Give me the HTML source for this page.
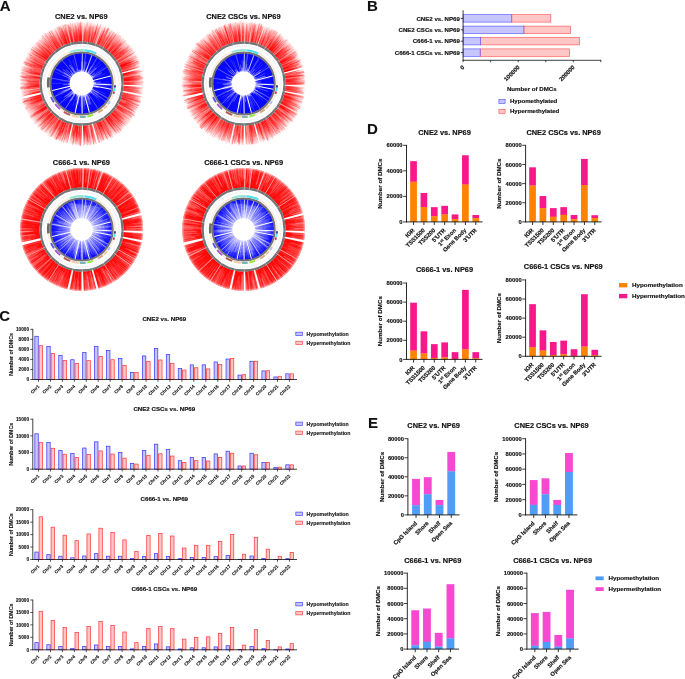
<!DOCTYPE html>
<html><head><meta charset="utf-8"><title>Figure</title><style>html,body{margin:0;padding:0;background:#fff}svg{display:block}</style></head><body>
<svg width="685" height="679" viewBox="0 0 685 679" font-family='"Liberation Sans", Arial, sans-serif' font-weight="bold">
<rect width="685" height="679" fill="#fff"/>
<radialGradient id="g1" gradientUnits="userSpaceOnUse" cx="81.6" cy="83.5" r="62"><stop offset="0.66" stop-color="#ff0000" stop-opacity="0.86"/><stop offset="0.76" stop-color="#ff0000" stop-opacity="0.76"/><stop offset="0.84" stop-color="#ff0000" stop-opacity="0.52"/><stop offset="0.9" stop-color="#ff0000" stop-opacity="0.3"/><stop offset="0.96" stop-color="#ff0000" stop-opacity="0.14"/><stop offset="0.99" stop-color="#ff0000" stop-opacity="0.04"/><stop offset="1" stop-color="#ff0000" stop-opacity="0"/></radialGradient>
<circle cx="81.6" cy="83.5" r="51" fill="none" stroke="url(#g1)" stroke-width="22"/>
<path d="M93.83 123.16L98.54 138.42M90.49 124.04L93.76 138.98M119.65 66.94L133.73 60.81M41.6 72.43L33.47 70.18M103.98 48.55L114.2 32.6M92.39 43.43L97.81 23.33M47.43 107.06L33.71 116.52M85.51 42.18L87.37 22.49M123.05 81.4L129.68 81.06M96.75 122.14L103.8 140.12M49.58 109.89L37.85 119.56M92.59 123.52L95.76 135.05M80.48 42.02L79.95 22.73M119.66 100.05L129.88 104.49M99.32 45.97L107.2 29.28M47.51 59.83L36.32 52.06M47.62 59.68L43.43 56.74M59.42 48.42L51.52 35.92M106.53 116.68L111.29 123.01M40.76 76.11L21.09 72.54M72.31 43.05L68.2 25.15M123.09 82.56L143.78 82.09M118.89 65.28L133.24 58.28M120.25 68.39L137.07 61.81M49.01 109.2L41.98 114.75M121.98 73.9L133.48 71.17M42.42 69.83L30.72 65.76M121.84 73.36L135.16 70M49.32 109.58L42.64 114.98M122 74L133.33 71.34M118.1 103.25L135.37 112.6M60.99 119.52L55.33 129.39M111.55 112.23L122.06 122.31M85.84 124.78L87.49 140.86M119.46 66.5L128.35 62.51M43.81 66.35L33.35 61.6M40.19 86.26L19.86 87.61M68.81 44.02L62.72 25.23M101.26 120.05L111.18 138.49M122.99 80.48L140.69 79.19M44.47 64.96L29.77 57.61M118.63 64.76L136.33 55.8M66.48 122.15L59.4 140.23M122.35 91.33L142.12 95.13M85.91 42.22L87.14 30.47M96.99 44.96L100.76 35.51M63.42 120.81L59.35 129.15M55.34 51.37L42.18 35.27M42.9 98.48L27.71 104.36M90.67 43L92.02 36.98M42.05 96.08L22.56 102.29M86.22 124.74L88.23 142.68M81.43 42L81.4 34.02M40.24 86.88L20.36 88.51M41.84 95.41L23.87 100.79M114.89 108.28L128.94 118.74M51.55 54.88L41.36 45.18M50.21 56.36L38 45.8M109.56 114.17L120.52 126.18M101.64 47.16L109.83 32.3M53.15 53.28L40.8 40.17M40.28 87.4L24.11 88.92M46.33 61.62L39.37 57.3M89.32 42.72L92.39 26.52M122.78 78.36L140.31 76.17M54.25 114.72L40.97 129.88M84.55 42.1L85.42 29.8M121.27 71.32L130.88 68.37M46.56 105.74L34.4 113.46M118.34 102.79L133.64 110.83M99.06 121.15L107.01 138.3M53.24 53.2L43.95 43.27M119.53 100.34L128.1 104.14M46.16 61.91L29.61 51.82M68.78 44.03L65.09 32.67M94.26 123.02L97.9 134.37M102.95 119.09L111.6 133.49M119.65 100.07L137.32 107.77M93.81 123.16L99.93 143.05M92.3 43.4L96.88 26.21M120.28 98.54L138.64 105.68M93.22 123.34L95.02 129.53M122.97 80.22L143.35 78.6M95.29 122.68L100.85 138.58M42.77 68.86L23.53 61.6M121.02 70.51L135.13 65.86M84.41 42.09L85.41 27.3M119.05 65.62L129.76 60.5M42.35 96.99L27.73 102.02M40.13 81.88L26.42 81.35M58.54 49L53.94 42.11M40.72 90.67L31.62 92.26M52.15 112.74L37.93 126.87M64.21 121.18L55.95 139.08M67.36 44.52L62.31 30.7M121.44 71.9L138.67 66.88M49.36 109.63L35.45 120.89M57.2 49.93L44.98 33.1M72.05 123.89L67.74 142.12M59.36 48.46L48.93 32.03M102.22 47.49L109.38 34.99M40.37 78.76L19.79 76.39M97.86 45.32L105.23 27.98M117.32 104.63L133.42 114.15M114.97 58.83L127.36 49.66M46.56 61.27L31.73 51.86M83.53 124.95L84.46 144.77M74.68 124.42L72.65 136.41M49.81 110.18L37.94 120.14M66.33 122.09L61.73 133.71M47.31 60.12L30.84 48.88M48.14 58.94L31.48 46.71M63.23 120.71L58.52 130.25M80.77 124.99L80.35 145.94M77.43 124.79L76.04 138.55M65.63 121.8L59.83 135.72M98.3 45.51L104.61 31.13M70.49 43.51L65.08 24.06M88.57 124.41L90.11 133.46M43.59 66.85L25.32 58.84M119.45 100.51L129 104.8M62.82 46.49L58.64 38.25M87.52 42.42L89.02 32.02M43.31 99.49L31.62 104.37M53.24 113.79L47.29 120.14M110.53 53.75L121.22 42.76M120.88 70.11L135.64 65.08M110.81 112.98L120.67 122.93M116.6 61.2L125.62 55.46M49.88 110.26L37.97 120.31M54.8 115.19L42.23 130.06M40.17 85.9L21.24 87M119.6 100.19L131.09 105.24M122.27 75.25L142.84 71.08M112.54 55.85L120.98 48.31M123.03 85.98L131.52 86.48M101.22 120.07L110.07 136.57M105.4 117.49L116.76 133.72M43.79 100.61L25.51 108.88M109.12 52.44L119.25 41.01M80.87 124.99L80.57 142.51M99.4 46.01L108.12 27.65M77.74 124.82L76.24 140.84M119.64 66.91L129.44 62.63M79.07 42.08L77.88 22.52M69.15 43.91L64.74 29.9M118.36 102.76L131.43 109.61M99.25 121.06L107.99 139.66M47.17 60.33L38.65 54.6M40.19 86.28L26.33 87.21M117.33 62.39L135.27 51.79M42.27 70.25L25.45 64.59M51.46 112.03L41.37 121.57M80.48 124.98L79.92 145.8M123.04 85.65L143.08 86.7M40.74 76.24L22.03 72.91M56.48 50.46L44.55 34.76M40.34 79.01L22.01 77.01M40.71 90.6L32.97 91.94M89.67 124.21L90.81 129.93M49.84 110.21L37 121.01M67.46 44.48L61.57 28.23M46.59 105.79L33.02 114.44M108.13 115.41L121.56 131.55M42.03 96.01L24.48 101.56M87.53 42.43L89.91 25.93M123.06 85.23L142.84 86.05M110.82 112.97L116.84 119.04M58.41 49.08L49.56 35.94M73.09 42.88L69.8 27.15M49.96 110.35L34.4 123.55M40.17 81.09L33.05 80.68M116.63 61.25L129.14 53.3M82.77 124.98L83.36 145.89M101.43 119.95L108.86 133.61M112.63 111.06L121.67 119.08M66.17 122.02L61.68 133.21M121.38 95.34L127.12 97.05M92.62 43.49L95.22 34.05M108.06 115.47L120.76 130.81M94.46 44.04L100.94 24.19M100.09 46.35L109 28.44M87.42 124.59L90.32 145.1M75.53 124.55L72.56 144.68M89.8 124.18L93.9 144.55M56.45 116.51L51.04 123.61M93.01 123.4L98.58 142.91M110.82 54.03L120.98 43.79M93.04 123.39L96.26 134.64M101.7 119.81L110.7 136.07M80.98 42L80.68 21.5M122.99 80.48L131.86 79.83M41.06 74.62L24.66 71.03M122.72 89.09L140.07 91.45M59 118.3L49.8 132.47M120.17 68.18L130.84 63.94M60.64 47.68L50.74 30.78M122.74 88.94L136.8 90.8M106.51 50.31L118.29 34.61M44.47 102.04L30.29 109.13M111.28 112.51L121.94 122.93M116.11 106.55L131.26 116.66M100.29 46.45L104.35 38.39M52.49 113.08L39.52 126.25M100.59 120.4L105.91 130.75M112.04 111.71L124.61 123.36M118.53 102.43L132.62 109.65M61.8 47.03L55.01 34.54M105.36 49.47L116.59 33.38M65.31 121.67L59.42 135.46M121.16 96.04L140.05 102.03M46.27 105.27L39.34 109.54M40.61 89.99L23.21 92.75M114.06 57.64L124.38 49.41M112.49 111.22L119.17 117.21M64.1 121.13L55.61 139.39M60.11 48L52.68 35.72M120.67 97.5L132.52 101.75M65.04 45.45L57.1 27.22M113.29 110.29L123.46 118.89M106.91 116.39L115.23 127.2M65.4 121.71L58.07 139.03M46.06 62.07L32.35 53.8M40.17 81.17L20.46 80.06M87.38 42.4L89.52 27.15M64.53 121.33L56.04 140.15M42.49 69.61L35.26 67.04M41.28 73.67L21.26 68.79M57.01 50.07L52.14 43.45M114.21 57.83L128.53 46.56M123.08 82.31L134.07 82M76 124.62L73.51 142.89M116.94 105.25L134.54 116.09M83.25 124.97L83.88 140.64M41.53 94.29L22.12 99.52M44.77 64.37L29.42 56.4M42.63 69.22L24.59 62.61M70.72 43.45L66.27 27.07M41.4 93.8L23.12 98.48M101.49 119.92L106.08 128.34M79.26 42.07L78.5 28.62M121.41 71.76L135 67.75M73.76 42.75L72.34 35.33M109.01 52.34L120.28 39.52M119.09 65.7L125.98 62.42M60.68 119.34L50.77 136.33M119.64 66.91L129.66 62.54M40.98 91.98L24.91 95.34M119.69 67.02L130.71 62.24M40.15 81.54L27.66 80.95M43.74 66.51L30.12 60.4M54.63 51.96L41.57 36.68M69.43 123.18L63.41 142.82M122.41 75.98L129.57 74.66M42.25 70.32L29.35 66.01M77.48 124.8L76.3 136.64M46.91 106.27L30.01 117.36M111.57 112.2L125.15 125.21M55.94 116.12L49.88 123.83M118.95 101.59L129.44 106.68" stroke="#ff0000" stroke-width="0.32" stroke-opacity="0.85" fill="none"/>
<path d="M77.4 124.79L75.69 141.63M122.88 87.8L138.44 89.42M40.44 78.2L35.26 77.53M47.45 59.92L31.07 48.61M41.01 92.17L32.69 93.94M89.72 124.2L93.74 144.33M49.19 57.58L39.52 49.86M102.28 119.48L112.62 137.46M121.69 72.78L136.92 68.71M116.29 60.73L132.34 50.19M120.11 98.96L127.54 101.94M90.09 124.12L93.74 141.61M43.3 99.48L35.26 102.83M91.48 123.81L96.39 143.87M47.43 107.06L42.56 110.42M41.4 93.82L30.47 96.62M92.4 123.57L93.92 129.19M42.09 70.81L31.86 67.53M121.77 93.92L134.81 97.3M121.21 95.88L133.52 99.73M45.66 104.24L35.6 110.05M40.38 88.33L27.69 89.81M65.64 121.81L58.74 138.4M44.85 64.22L37.41 60.32M104.8 49.09L114.54 34.64M119.14 65.8L131.67 59.89M58.76 118.15L54.17 125.12M116.23 60.63L123.84 55.6M99.9 46.25L108.79 28.16M78.59 124.89L77.35 141.9M44.17 65.57L31.89 59.69M103.36 118.84L106.54 124M42.14 96.35L22.35 102.8M46.53 105.69L29.63 116.38M116.32 106.23L130.63 115.59M110.46 113.32L121.11 124.33M44.65 64.62L29.84 57.05M40.32 79.2L20.46 77.13M114.78 108.43L126.93 117.56M41.19 92.95L20.88 97.71M41.08 92.45L22.29 96.61M67.52 44.46L61.81 28.65M102.33 47.55L108.03 37.67M42.37 97.04L30.3 101.21M113.38 110.19L124.63 119.65M74.74 42.57L73.19 33.33M70.42 123.46L66.11 138.86M122.93 87.24L142.89 89.05M43.78 66.42L28.74 59.63M44.58 64.74L33.76 59.26M123.03 81.12L139.15 80.19M119.75 67.16L137.71 59.46M119.16 65.85L138.04 56.97M46.79 106.09L36.36 112.86M40.22 86.71L26.71 87.76M42.45 69.73L36.69 67.71M89.88 124.17L91.78 133.49M64.04 121.1L59.76 130.28M122.95 87.06L138.97 88.44M49.34 109.61L43.97 113.95M114.35 58.01L130.59 45.38M89.4 124.26L92.03 137.99M43.08 98.94L26.04 105.78M85.3 124.83L87.17 145.7M48.82 58.05L37.8 49.5M64.89 121.49L56.83 139.79M75.11 124.49L72.87 138.59M119.07 101.33L125.77 104.52M57.24 49.9L46.63 35.28M40.1 83.01L27.71 82.86M99.22 45.93L103.1 37.66M80.91 124.99L80.57 145.53M74.79 124.44L72.94 135.6M106.93 116.38L119.66 132.91M72.92 42.92L69.31 26.02M101.27 120.04L110.23 136.68M40.11 84.38L24.05 84.72M105.69 49.71L116.57 34.44M71.89 123.85L67.24 143.16M121.13 96.14L140.98 102.49M43.56 66.91L30.93 61.4M60.36 119.15L49.69 137.06M120.39 98.25L134.57 103.65M75.7 42.42L73.59 27.74M121.43 95.17L140.8 100.84M120.69 69.57L138.84 63.1M88.74 124.38L90.47 134.32M80.4 42.02L80.09 31.36M120.33 68.59L138.68 61.53M40.58 89.79L28.2 91.69M51.27 55.17L38.23 42.99M42.47 97.32L23.29 104.1M101.36 47.01L106.62 37.3M41.37 93.69L31.14 96.28M122.93 79.71L140.12 78.13M111.4 112.38L123.78 124.38M59.39 118.55L53.42 127.96M63.17 46.32L55.48 30.82M49.64 109.97L43.21 115.29M96.79 122.12L102.49 136.61M93.26 43.67L97.89 27.86M123.1 83.74L143.03 83.85M40.13 82.02L28.71 81.61M69.25 123.12L66.16 133.02M78.41 42.12L77.88 35.38M40.1 83.35L26.5 83.3M81.63 125L81.63 135.25M48.81 108.94L38.36 117.05M40.99 74.96L25.9 71.78M47.33 60.09L32.88 50.21M69.16 43.91L66.12 34.24M117.34 62.41L131.62 53.99M96.77 122.13L103.55 139.38M41.48 72.89L30.59 70.02M122.42 76.04L138.39 73.12M90.74 43.02L94.36 26.98M63.31 120.75L54.65 138.39M115.45 59.49L120.48 55.92M98.17 121.55L103.92 134.76M42.01 71.04L34.47 68.67M64.19 121.17L57.58 135.48M122.98 80.37L132.54 79.64M92.51 43.46L95.8 31.36M74.99 124.47L73.12 136.06M103.5 48.25L113.56 32.05M123.08 84.76L132.93 85.06M45.35 63.3L27.78 53.5M112.83 110.83L121.04 118.02M92.45 43.44L96.39 28.91M78 42.16L77.17 32.64M40.12 84.82L33.17 85.04M55.16 51.51L49.12 44.19M121.22 95.84L139.89 101.66M80.59 42.01L80.14 23.59M122.77 78.27L134.23 76.81M123.04 81.33L137.7 80.57M112.9 110.75L122.62 119.21M54.97 115.33L50.5 120.67M48.06 107.94L41.97 112.37M42.58 97.64L24.2 104.3M54.43 52.13L44.8 41.03M46.99 60.6L35.7 53.12M122.12 74.55L134.86 71.73M68.89 123L65.84 132.47M122.07 74.31L136.47 71.04M95.14 122.73L101.97 142.51M50.08 56.5L41.95 49.54M99.92 46.26L107.69 30.48M122.61 89.87L128.73 90.82M122.98 86.71L136.65 87.78M41.09 92.5L29.56 95.07M115.71 59.86L132.42 48.27M40.3 79.42L22.42 77.65M86.9 42.34L88.52 29.78M102.31 47.54L112.17 30.42M40.45 78.11L20.53 75.51M122.99 80.45L129.97 79.94M58.19 117.77L54.41 123.3M100.66 120.36L107.9 134.37M41.63 94.68L30.39 97.82M45.72 104.36L37.42 109.19M122.35 91.36L139.86 94.74M108.75 114.89L121.55 129.69M121.66 94.34L134.22 97.74M92.09 43.35L93.72 37.12M64.89 121.49L57.27 138.82M121.22 95.85L137.77 101.01M122.17 74.75L139.34 71.05M70.06 43.64L64.61 24.81M50.9 111.43L44.73 117.04M107.56 115.88L112.3 121.79M118.19 103.08L131.56 110.23M116.44 60.95L128.07 53.43M117.55 62.76L132.51 54.13M104.5 48.89L111.66 38.08M115.3 59.27L128.5 49.78M67.99 122.7L61.4 141.68M112.85 110.81L118.61 115.84M95.56 44.42L100.66 30.17M89.65 124.21L92.11 136.69M87.71 42.45L89.63 29.55M64.95 121.51L60.25 132.23M119.79 67.26L133.4 61.47M69.94 43.67L66.21 30.93M66.9 44.69L60.34 27.37M53.04 113.61L43.42 123.75M122.54 90.29L141.45 93.43M109.65 114.09L122.97 128.61M79.76 124.96L79.2 137.4M75.62 42.43L74.23 32.88M122.72 77.91L140.02 75.56M81.84 42L81.93 26.23M123.01 80.72L138.08 79.71M69.24 123.12L64.24 139.14M45.37 63.26L27.32 53.17M115.68 107.19L131.93 118.48M41.05 92.31L23.81 96.06M72.27 43.06L67.97 24.44M52.89 113.46L42.46 124.34M111.94 111.82L120.77 120.07M72.81 124.06L70.42 135.08M118.58 102.34L127.67 106.97M111.13 54.34L125.11 40.53M41.76 95.13L33.25 97.62M40.5 77.75L25.7 75.69M50.69 55.8L35.89 42.54M79.66 124.95L78.78 143.73M41.05 92.31L29.78 94.76M118.35 102.77L129.73 108.74M46.94 60.67L30.95 50.13M101.46 119.94L109.96 135.55M45.36 63.28L28.9 54.09M110.58 113.2L122.68 125.6M119.65 66.93L125.14 64.54M66.57 44.82L59.07 25.53M43.25 99.36L30.23 104.75M106.68 116.56L118.95 132.74M94.1 43.93L99.48 26.91M92.52 43.46L95.71 31.8M79.94 42.03L79.58 33M88.48 42.57L91.09 27.04M111.23 112.55L120.13 121.28M46.38 61.55L36.15 55.18M53.62 114.15L41.18 127.77M108.18 115.37L119.47 128.9M42.14 70.63L33.02 67.66M107.47 51.05L120.12 35.18M84.66 124.89L85.32 133.9M86.61 42.3L88.54 26.37M52.2 112.79L43.77 121.19M86.23 124.74L87.72 137.98M94.73 44.13L97.16 36.84M120.25 98.62L127.75 101.55M85.91 124.78L88.09 145.63M50.86 55.62L39.76 45.55M42.73 68.95L23.7 61.83M47 106.42L33.03 115.68M66.05 45.02L58.73 26.89M96.1 122.39L102.81 140.39M118.68 64.86L124.5 61.93M109.78 53.03L115.18 47.18M40.11 82.57L27.64 82.29M84.33 42.09L85.04 31.31M84.47 42.1L85.55 26.58M41.56 72.6L24.09 67.85M42.39 69.91L24.29 63.65M77.94 42.16L77.18 33.59M105.51 117.42L115.74 131.93M59.28 48.51L55.84 43.12M122.68 77.58L136.19 75.64M46.99 106.4L31.18 116.86M49.95 110.35L39.93 118.85M58.31 49.15L47.08 32.6M40.16 85.68L29.35 86.25M69.71 123.26L64.71 139.98M107.2 50.84L113.08 43.35M99.09 121.13L101.53 126.37M105.28 117.58L112.5 127.97M69.35 43.85L66.18 33.62M119.05 101.38L135.58 109.27" stroke="#ff0000" stroke-width="0.32" stroke-opacity="0.85" fill="none" stroke-dasharray="0.6 0.3"/>
<path d="M78.34 42.13L77.23 27.93M122.35 75.63L136.03 72.99M118.9 65.32L129.59 60.11M68.2 44.22L64.12 32.24M114.04 109.38L130.37 122.41M50.52 111L40.4 119.95M121.94 73.76L138.16 69.84M49.03 57.79L35.81 47.36M64.47 121.3L60.79 129.41M43.03 98.82L29.49 104.19M101.74 119.79L108.33 131.68M57.07 116.97L47.53 129.99M89.94 42.85L93.32 26.37M58.63 118.06L49.54 131.73M115.47 59.52L127.53 50.98M40.22 86.63L27.73 87.57M78.84 42.09L77.92 28.27M111.25 54.47L126.19 39.85M122.89 79.37L142.09 77.44M65.77 45.14L58.45 27.42M78.58 124.89L77.06 145.64M41.3 93.41L30.12 96.15M93.41 123.28L97.87 138.31M120.73 69.69L132.04 65.69M100.1 46.35L107.2 32.11M84.01 124.93L84.67 136.27M48.82 58.05L34.19 46.71M58.42 49.08L47.92 33.48M112.58 111.11L127.53 124.43M50.44 56.08L36.02 43.39M119.34 66.23L131.76 60.55M53.76 114.27L39.68 129.83M121.58 72.36L137.8 67.84M40.51 89.31L30.05 90.79M99.09 121.14L101.64 126.63M119.65 100.06L135.1 106.78M56.56 116.6L45.93 130.66M111.5 54.72L124.19 42.5M111.69 54.92L118.18 48.76M55.14 115.47L46.73 125.64M80.25 42.02L79.68 24.44M113.52 110.02L123.12 117.99M114.59 58.33L128 48.1M44.07 65.8L31.45 59.84M79.91 124.97L79.08 145.34M41.85 95.42L31.08 98.65M122.11 92.52L141.28 96.79M48.72 58.17L34.93 47.55M64.8 45.55L59.28 33.08M56.94 116.88L44.98 133.07M122.3 91.61L136.42 94.42M121.6 94.57L138.59 99.27M123.08 82.12L137.05 81.66M56.24 50.65L49.2 41.53M116.42 106.08L132.42 116.46M59.21 118.44L47.96 135.99M103.48 48.24L110.49 36.94M40.69 90.49L23.62 93.41M56.77 50.25L44.53 33.86M89.58 124.22L92.14 137.24M119.58 100.23L135.45 107.22M73.93 42.72L70.09 22.32M107.01 116.31L118.74 131.46M42.05 96.06L22.8 102.18M105.72 117.27L115.7 131.24M78.93 42.09L78.24 31.32M114.06 57.65L124.81 49.09M102.4 47.59L107.4 38.94M52.63 113.21L39.93 126.23M43.13 67.92L26.4 61.15M109.95 53.19L124.15 38.01M67.43 44.49L60.59 25.67M72.32 123.95L68.83 139.19M41.35 73.38L29.39 70.36M110.87 54.08L122.21 42.68M103.47 48.23L111.57 35.18M40.72 76.37L29.44 74.41M95.49 44.39L99.15 34.08M66.78 122.26L61.55 135.95M106.9 50.6L118.73 35.23M73.9 42.72L71.03 27.46M54.71 115.11L42.04 129.99M103.09 119L106.11 124M43.88 66.2L27.43 58.66M116.15 60.51L132.52 49.62M121.01 96.51L140.61 102.99M47.67 59.6L41.81 55.48M101.22 46.93L106.74 36.64M61.34 47.28L55.11 36.14M47.42 107.04L31.11 118.26M64.42 121.28L58.13 135.12M107.15 116.2L114.73 125.9M123.04 85.66L136.38 86.35M87.61 124.56L89.52 137.64M94.22 123.03L96.43 129.96M97.3 45.08L103.18 30.68M106.05 117.03L117.86 133.24M119.75 99.84L133.52 105.74M40.1 83.64L19.99 83.71M72.88 42.93L71.69 37.41M71.48 43.25L68.23 30.33M112.05 111.7L121.1 120.08M59.49 118.62L52.8 129.24M77.39 124.79L75.39 144.32M123.1 84.01L134.93 84.16M100.32 120.54L109.12 137.95M122.06 92.75L142.5 97.42M45.43 63.16L34.31 56.9M43.98 65.98L27.02 58.08M96.08 44.61L103.22 25.46M68.26 122.8L61.75 141.96M87.41 42.41L90.25 22.3M61.65 119.89L58.98 124.75M101.97 119.66L110.53 134.86M60.87 47.55L56.89 40.64M96.75 122.14L103.43 139.16M95 122.78L99.63 136.35M119.16 101.15L136.96 109.52M45.75 62.6L30.81 53.89M108.7 52.07L114.57 45.25M69.74 43.73L65.17 28.42M121.87 73.47L135.48 70.08M46.46 61.43L38.75 56.58M88.76 124.38L89.92 130.96M110.48 113.31L122.57 125.79M83.26 124.97L83.97 142.52M40.77 76.09L32.21 74.53M117.52 62.71L131.63 54.55M115.74 107.1L123.91 112.75M59.05 118.34L50.66 131.32M62.93 120.56L54.24 137.81M60.74 119.38L53.23 132.29M118.21 103.04L133.79 111.35M123 86.43L141 87.71M123.06 85.34L130.74 85.68M110.47 113.32L122.91 126.16M53.64 114.17L42.89 125.97M59.28 48.51L51.43 36.2M122.81 78.64L141 76.5M120.51 97.94L139.77 105.09M64.39 121.26L57.8 135.7M115.41 59.44L132.1 47.56M42.62 69.26L34.61 66.33M122.29 75.34L132.69 73.25M55.18 115.5L49.42 122.48M61.05 119.56L51.18 136.87M43.08 98.95L30.74 103.9M40.91 91.64L28.97 94.03M40.54 89.51L28.92 91.21M86.89 42.34L88.89 26.78M121.59 94.59L132.72 97.67M85.54 124.81L86.67 136.63M122.48 90.66L137.57 93.3M116.65 61.29L133.13 50.85M55.27 115.58L45.26 127.76M72.66 124.03L68.95 140.83M40.62 76.95L19.98 73.66M113.13 110.49L127.33 122.65M93.72 123.19L97.63 136M67.21 44.58L61.91 30.25M115.36 107.63L124.47 114.14M108.1 51.57L121.12 35.89M99.69 46.15L108.39 28.19M65.02 121.54L61.41 129.82M120.25 98.61L139.34 106.08M98.77 45.72L101.51 39.68M77.13 42.24L75.24 24.83M41.09 74.49L21.28 70.09M119.64 66.92L133.89 60.7M81.86 125L81.93 135.57M102.21 119.52L112.26 137.08M66.91 122.31L59.58 141.69M112.71 56.03L121.95 47.88M41.97 95.81L22.52 101.84M68.76 44.04L62.51 24.81M65.11 45.42L62.62 39.67M59.22 118.45L49.77 133.2M54.52 114.95L41.29 130.32M71.15 43.34L69.46 36.85M51.18 55.27L36.85 41.98M45.2 63.57L29.81 55.13M61.59 119.86L52.74 135.94M81.78 42L81.81 34.22M75.21 42.49L72.25 23.51M117.25 104.75L134.99 115.32M122.98 86.69L139.23 87.95M117.27 104.71L132.22 113.6M122.9 79.44L142.55 77.5M115.17 59.1L124.52 52.31M41.02 74.79L28.48 72.1M47.37 106.97L37.75 113.56M123.08 84.78L142.76 85.39M122.84 78.87L135.1 77.5M40.55 89.62L23.36 92.18M71.26 123.69L69.25 131.5M123.07 82.05L134.01 81.67M78.94 42.09L78.09 28.72M59.58 48.32L48.5 30.6M112.83 56.16L126.91 43.83M116.89 105.33L132.83 115.18M121.98 93.08L137.93 96.86M87.87 124.52L90.93 144.54M109.93 113.82L115.2 119.46M114.15 57.75L122.55 51.1M71.4 43.27L66.42 23.62M64.1 45.87L60.1 37.26M67.69 44.4L64.18 34.52M44.25 101.59L26.47 110.2M68.59 44.09L64.03 30.25M110.04 53.27L118.18 44.62M99.66 46.14L104.16 36.83M94.24 43.97L98.02 32.14M110.53 53.75L121.37 42.6M64.47 121.3L56.88 138.07M68.07 44.27L65.41 36.58M100.83 46.73L106.61 35.68M62.57 46.62L55.58 33.07M117.91 103.59L131.99 111.37M41.59 72.47L21.62 66.97M56.56 116.59L44.88 132.02M120.26 68.41L139.28 61M87.95 42.49L90.76 24.29M94.89 44.19L98.07 34.79M40.25 87.05L20.49 88.74M42.06 70.88L27.6 66.27M90.63 124.01L94.97 143.48M92.31 43.41L95.32 32.13M111.96 111.79L122.82 121.9M119.47 100.48L131.5 105.88M61.39 119.74L54.54 132.02M91.83 123.72L95 136.14M122.87 79.16L143.09 77.04M53.57 52.9L46.88 45.59M77.58 42.2L76.4 30.12M40.68 90.41L29.59 92.28M116.3 60.74L133.4 49.53M105.34 49.46L115.38 35.08M66.48 122.15L60.96 136.27M77.9 124.83L76.1 145M122.8 88.46L138.84 90.39M91.35 123.84L93.31 131.95M86.34 124.73L88.28 141.6M122.36 91.31L142.69 95.2M122.9 79.46L141.98 77.59M123.08 84.71L143.05 85.29M100.16 120.62L107.28 134.85M84.24 124.92L85.19 139.84M46.72 61.01L33.92 52.76M120.78 69.81L131.06 66.21M42.42 69.81L22.81 62.96M43.5 99.95L26.23 107.41M42.98 68.31L25.43 61.42M43.48 67.08L32.13 62.19M61.5 47.19L58.42 41.62M116.19 106.43L131.82 116.78M59.59 48.31L48.84 31.11M97.96 45.36L104.78 29.46M76.96 42.26L74.77 22.75M119.78 67.24L135.99 60.33M77.7 42.18L76.13 25.5" stroke="#ff0000" stroke-width="0.32" stroke-opacity="0.85" fill="none" stroke-dasharray="0.35 0.35"/>
<path d="M40.54 89.55L33.09 90.65M40.38 78.65L21.84 76.47M64.13 121.14L55.54 139.65M83.7 124.95L84.39 138.52M87.55 42.43L88.96 32.65M122.73 77.97L139.71 75.68M42.6 97.69L28.13 102.96M122.67 89.44L132.95 90.93M43.38 99.67L24.6 107.62M63.25 46.28L54.38 28.28M69.28 43.87L64.32 27.9M40.58 77.23L27.89 75.29M75.74 124.58L72.8 145.17M72.43 123.97L69.15 138.44M123.1 83.44L133.71 83.43M123.04 81.24L142.59 80.17M114.34 109L126.61 118.55M49.69 110.03L38.9 119M122.93 79.69L137.71 78.33M110.38 53.6L120.28 43.3M40.23 80.26L24.36 79.02M65.93 45.07L58.38 26.58M70.98 123.62L65.61 143.89M120.13 68.07L138.44 60.74M68.46 122.86L64.7 134.13M40.54 89.53L28.06 91.37M48.38 108.37L34.16 119.01M98.69 121.32L102.28 129.28M69.94 43.67L64.44 24.85M122.79 88.55L140.28 90.7M111.47 54.68L121.67 44.84M40.13 85L26.27 85.5M43.9 100.86L25.22 109.46M111.6 54.82L116.96 49.69M85.98 42.23L86.82 34.36M89.74 124.19L91.45 132.73M48.35 58.67L36.32 49.68M119.62 100.12L138.71 108.47M120.72 97.35L131.09 101.02M79.3 124.94L78.53 138.88M54.56 52.02L46.99 43.2M41.53 94.3L27.53 98.08M97.64 121.78L103.26 135.21M52.47 113.06L42.66 123.01M40.52 77.59L26.08 75.51M53.11 53.33L43.09 42.72M56.79 50.24L44.38 33.6M105.69 117.29L115.76 131.42M121.36 95.39L138.58 100.54M47.16 106.66L32.79 116.33M47.51 107.17L38.41 113.49M71.49 123.75L66.43 143.92M41.3 93.4L35.35 94.86M40.32 79.24L28.72 78.04M122.41 75.96L135.97 73.45M120.79 69.84L140.03 63.14M44.19 65.53L26.84 57.19M59.29 118.49L49.7 133.53M40.11 84.38L23.9 84.72M41.73 95.02L26.37 99.46M78.23 42.14L77.47 32.78M118.6 102.29L134.65 110.44M122.61 89.85L138.49 92.31M82.85 124.98L83.15 134.98M55.85 50.95L45.15 37.43M42.65 69.19L29.41 64.33M55.99 116.16L46.94 127.69M79.3 42.06L78.4 25.99M114.77 108.44L130.71 120.44M42.83 98.31L26.42 104.58M109.98 113.78L118.11 122.46M71.96 123.86L70.46 130.11M46.95 106.34L38.91 111.64M51.82 54.6L37.25 40.46M118.92 65.34L137.52 56.29M40.2 86.37L28.49 87.18M42.52 97.46L36.33 99.67M49.55 57.14L41.18 50.27M42.19 96.5L29.95 100.54M122.28 75.31L136.84 72.38M96.43 122.26L103.2 139.99M55.29 115.59L42.06 131.73M122.49 76.42L138.97 73.57M72.36 43.04L69.47 30.41M98.99 121.18L107.02 138.56M44.39 101.87L35.35 106.34M41.65 94.73L31.14 97.68M51.76 54.66L43.78 46.95M122.73 77.98L143.09 75.24M97.52 45.17L104.92 27.35M60.89 119.46L50.89 136.82M77.62 42.19L76.04 25.79M97.52 45.17L105.4 26.2M118.74 64.98L129.37 59.69M42.51 97.44L30.58 101.69M121.86 93.58L137.37 97.46M113.58 109.95L122.42 117.27M123 86.35L129.09 86.77M58.92 118.25L52.46 128.14M47.43 59.95L35.25 51.57M120 99.23L138.32 106.74M52.69 113.28L40.71 125.62M81.48 125L81.43 139.01M80.52 124.99L80.14 139.76M73.04 124.11L69.19 142.42M122.55 76.74L128.81 75.71M89.85 42.83L93.59 24.4M122.07 92.69L132.27 95M46.03 62.12L31.03 53.11M40.12 84.92L25.55 85.42M68.07 122.73L61.63 141.38M60.92 47.52L51.02 30.29M74.08 42.69L71.22 27.18M120.2 98.74L138.37 105.91M79.09 42.08L78.6 34.11M85.09 42.15L85.9 32.55M49.71 110.05L42.92 115.7M66.16 44.98L60.84 31.68M58.95 118.27L50.07 131.9M90.91 123.94L95.39 143.38M122.2 74.9L136.37 71.9M117.08 105.02L130.94 113.42M86.24 42.26L87.47 31.35M122.06 74.28L129.78 72.52M117.47 104.37L135.24 114.71M106.27 50.13L116.33 36.51M43.45 67.16L26.93 60.08M96.2 44.65L98.59 38.3M113.66 57.15L128.91 44.61M88.45 124.43L91.85 144.71M123.03 85.93L142.15 87.05M50.45 110.92L37.94 121.93M92.86 43.56L97.2 28.14M44.46 64.97L34.14 59.82M119.71 67.08L133.61 61.1M123.02 80.88L134.97 80.12M44.69 102.46L37.81 106M122.97 80.16L135.08 79.18M42.09 96.2L22.3 102.56M51.73 112.31L41.96 121.74M83.3 124.97L83.61 132.5M109.23 114.47L122.24 129.05M77.14 42.24L75.7 28.92M114.92 58.76L128.07 48.99M119.19 65.92L132.96 59.48M40.3 79.38L24.34 77.79M120.15 68.14L139.47 60.44M90.26 42.91L92.44 32.72M47.13 60.39L33.24 51.08M40.2 80.63L19.51 79.19M114.82 58.63L130.47 46.92M52.62 53.8L38.95 39.79M47.48 59.88L33.91 50.49M91.26 43.14L93.32 34.51M120.28 68.47L128.54 65.26M49.56 109.88L41.83 116.25M72.41 123.97L69.43 137.1M64.37 121.26L58.02 135.18M88.27 124.46L89.39 131.34M120.5 69.04L140.03 61.79M59.89 118.87L52.72 130.55M66.29 44.93L62.86 36.29M41.53 94.31L28.58 97.8M58.97 48.71L55.16 42.84M121.61 94.53L139.22 99.39M42.17 96.46L22.98 102.77M107.37 116.03L119.43 131.26M108.59 51.97L122.11 36.18M50.63 55.88L40.73 47.05M70.96 43.39L65.86 24.13M55.14 51.53L41.76 35.36M47.15 106.64L30.07 118.12M105.21 117.63L114.32 130.81M40.87 75.53L33.39 74.06M122.38 91.2L134.83 93.55M120.32 68.57L133.84 63.36M78.18 42.14L77.21 30.47M42.66 97.86L32.88 101.47M120.96 70.35L136.08 65.3M81.89 42L82.02 22.01M122.58 90.05L143.23 93.34M98.14 45.44L105.27 29.04M86.4 124.72L88.48 142.55M65.18 45.38L59.6 32.42M106.52 116.68L114.04 126.69M91.17 123.88L95.21 140.93M40.98 75.01L20.76 70.78M53.85 114.35L40.39 129.31M119.5 66.6L135.99 59.25M44.68 102.45L27.2 111.42M90.85 43.04L94.11 28.76M43.64 100.27L29.17 106.67M111.46 112.32L117.85 118.48M88.25 42.54L91.41 23.05M97.82 45.3L103.92 30.93M56.49 116.54L44.93 131.76M110.07 53.31L121.97 40.69M53.96 52.54L43.37 40.68M50.14 56.43L36.94 45.07M121.98 93.06L140.04 97.33" stroke="#ff0000" stroke-width="0.32" stroke-opacity="0.85" fill="none" stroke-dasharray="0.25 0.5"/>
<path d="M89.78 124.19L91 130.23M87.72 124.55L89.19 134.39M56.89 116.84L48.76 127.8M78.89 124.91L78.44 131.78M112.13 55.39L123.24 45.15M43.83 100.69L24.84 109.33M41.59 72.49L31.61 69.75M93.01 123.4L96.74 136.46M42.47 69.69L31.23 65.72M61.74 47.06L55.4 35.42M106.42 116.76L114.31 127.34M114.01 109.42L130.41 122.53M93.52 43.75L96.96 32.26M101.46 47.06L109.2 32.87M115.28 59.25L121.96 54.43M100.82 120.28L107.79 133.6M40.25 79.96L27.63 78.87M121.45 95.1L132.5 98.32M54.82 51.8L48.88 44.77M84.57 42.11L85.95 22.87M86.04 124.76L86.89 132.7M112.91 56.26L127.51 43.55M40.1 83.73L33.13 83.77M44.61 102.31L36.4 106.49M95.44 122.63L100.46 136.84M94.65 44.1L100.95 25.09M117.29 104.67L124.31 108.83M40.85 75.67L33.35 74.23M91.21 43.13L94.86 27.78M89.36 124.27L93 143.43M41.45 73.01L32.65 70.71M93.22 43.66L97.43 29.21M89.27 124.28L91.22 134.62M60.89 47.53L56.34 39.62M49.09 109.29L43.52 113.71M62.43 46.69L53.08 28.75M53.56 114.1L46.26 122.06M40.65 90.26L21.36 93.45M41.74 71.94L35.39 70.1M80.54 124.99L80.33 133.08M69.68 123.25L63.87 142.65M50.46 56.07L43.16 49.64M68.3 122.81L64.85 133.01M117.77 63.15L132.72 54.74M40.17 81.07L29.14 80.42M101.54 119.89L109.45 134.32M40.51 89.33L27.69 91.15M109.67 52.93L114.7 47.46M117.91 63.41L134.01 54.5M82.57 124.99L82.93 140.65M112.81 110.86L121.48 118.46M118.7 64.9L137.13 55.66M56.06 116.21L51.17 122.46M41.92 95.66L27.61 100.05M54.5 114.93L43.03 128.21M55.47 115.74L43.42 130.62M73.74 42.75L71.45 30.87M48.28 108.24L38.95 115.16M103.71 118.62L109.83 128.35M48.45 108.47L39.43 115.26M114.87 108.31L129.86 119.49M42.11 70.74L26.75 65.78M47.08 60.47L37.27 53.93M49.19 109.42L41.56 115.52M119.65 100.07L126.53 103.07M42.01 71.05L23.11 65.1M120.84 97L131.88 100.79M109.44 52.72L114.9 46.69M49.93 110.31L35.13 122.84M102.49 47.64L107.43 39.16M40.17 81.13L30.79 80.59M52.75 53.66L44.91 45.55M88.5 124.42L90 133.32M121.75 94.01L133.71 97.14M122.45 90.82L139.12 93.8M89.42 42.74L92.36 27.44M42.34 70.04L32.04 66.51M120.33 68.59L127.61 65.79M101 46.81L109.36 31.01M56.57 116.6L52.82 121.57M93.6 123.23L97.94 137.57M119.22 101.02L125.13 103.78M101.36 119.99L106.75 129.93M74.41 42.63L72.43 31.4M62.19 46.82L53.29 30.01M62.91 120.55L59.36 127.6M42.81 68.76L35.94 66.14M67 122.35L64.38 129.33M104.4 48.83L111.08 38.67M116.11 60.46L133.48 48.86M62.08 120.12L52.92 137.29M70.4 43.54L65.72 26.81M48.69 108.78L38.3 116.76M40.73 76.3L24.93 73.52M116.36 60.82L128.04 53.2M103.06 119.02L110.16 130.78M41.21 93.03L25.31 96.78M63.99 121.08L56.42 137.22M44.65 64.61L38.07 61.25M114.4 58.08L119.71 53.97M116.7 61.36L133.94 50.48M120.23 98.67L131.94 103.27M90.57 124.02L93.69 138.14M122.39 91.14L139.77 94.4M117.75 103.87L134.03 113.05M42.42 69.81L36.74 67.83M69.35 123.15L67.16 130.22M53.95 52.55L49.26 47.3M122.86 87.98L140.29 89.88M59.17 118.42L50.53 131.89M103.16 118.96L110.33 130.76M121.32 71.49L133.71 67.75M123.06 85.39L139.17 86.13M107.39 50.99L112.4 44.67M120.87 70.07L134.11 65.54M61.22 119.65L58.26 124.92M78.25 42.14L76.76 23.66M110.04 113.72L115.79 119.83M44.73 64.46L26.38 54.98M118.94 65.39L134.54 57.82M43.83 66.31L25.57 58M121.71 72.83L129.25 70.83M117.26 62.27L125.39 57.42M57.22 49.92L45.68 34.02M88.41 124.44L89.7 132.24M114.78 108.43L122.47 114.2M48.28 108.24L34.79 118.25M40.66 76.73L28.27 74.68M92.71 123.48L96.2 136.03M111.82 111.94L121.16 120.74M43.49 99.92L28.18 106.51M118.41 102.66L131.28 109.36M114.4 58.07L119.68 53.98M108.66 114.97L116.08 123.6M90.02 42.86L91.48 35.82M100.26 120.57L109.32 138.55M46.22 61.81L40.72 58.44M119.51 100.39L130.04 105.09M120.08 99.05L127.55 102.07M59.28 118.49L49.29 134.16M109.68 114.05L115.54 120.42M107.09 50.75L110.92 45.84M40.29 79.51L30.87 78.6M40.65 90.25L23.03 93.16M102.37 47.57L106.79 39.92M119.65 100.07L135.72 107.08M40.24 86.93L29.73 87.8M93.95 123.12L97.32 133.93M88.94 124.35L92.1 141.97M122.99 86.55L141.1 87.89M61.61 47.13L54.37 33.98M71.07 43.36L65.98 23.95M118.11 63.77L136.47 53.84M121.11 70.81L138.32 65.29M110.24 53.47L117.52 45.84M96.36 122.29L102.97 139.66M43.97 101L35.76 104.82M56.75 50.26L45.39 35.06M79.02 124.92L78.6 131.67M122.06 92.72L132.19 95.03M101.87 119.71L111.7 137.29M58.25 117.81L47.96 132.93M99.57 46.09L103.77 37.37M40.39 88.37L29.36 89.68M122.68 77.64L129.56 76.66M94.64 44.1L98.46 32.53M69.7 123.26L66.26 134.75M65.11 121.58L61 131.1M85.98 42.23L87.68 26.21M117.23 104.78L128.71 111.64M110.44 113.34L117.43 120.57M94.86 44.18L98.2 34.27M121.23 95.83L128.6 98.12M89.26 42.71L91.69 29.73M86.69 42.31L89.04 23.27M113.53 110.01L123.27 118.09M74.94 124.46L73.92 130.74M106.3 50.15L116.88 35.86M67.18 122.41L62.53 134.98M116.1 106.56L130.46 116.15M80.78 124.99L80.43 142.87M45.97 62.22L29.31 52.27M40.58 89.77L24.65 92.2M91.52 123.8L94.87 137.39M61.83 119.99L55.22 132.19M43.95 66.04L26.83 58.09M94.94 44.2L100.5 27.84M53.92 114.42L43.92 125.57M58.98 48.71L55.3 43.05M88.08 124.49L89.89 135.98M68.38 44.16L65.68 36.13M65.59 121.79L62.44 129.32M40.11 82.49L26.78 82.16M40.27 87.3L29.71 88.27M53.84 52.66L49.75 48.12M122.57 76.91L139.36 74.21M52.98 53.45L40.8 40.66M122.58 90.02L129.71 91.16M41.45 93.99L25.03 98.27M97.02 44.97L104.46 26.38M74.38 124.37L73.25 130.77M86.92 124.66L88.34 135.64M106.9 50.6L118.65 35.32M65.03 45.45L61.89 38.24M95.5 122.6L98.89 132.12M44.95 102.97L38.2 106.55M117.52 104.29L128.04 110.38M88.66 124.39L90.79 136.74M58.05 117.67L46.64 134.22M64.28 45.79L56.1 27.97M45.1 63.75L36.81 59.26M123.07 82.05L135.96 81.6M49.08 109.28L37.25 118.66M115.24 107.81L132.16 120.03M119.96 99.35L125.77 101.75M104.01 48.57L108.95 40.88M40.4 88.48L21.92 90.71M92.36 43.42L94.84 34.19M123.05 81.51L140.83 80.66M56.71 50.29L50.75 42.33M106.49 50.29L118.79 33.89M74.2 42.67L71.21 26.19M88.7 124.39L91.64 141.34M40.35 78.98L26.79 77.5M122.73 89.04L136.48 90.89M46.25 105.24L36.99 110.93M49.74 110.09L43.45 115.35M74.04 42.69L72.37 33.68M122.64 77.35L142.82 74.32M68.78 44.03L62.65 25.12M46.72 61.01L30.98 50.86M44.18 65.56L31.1 59.29M100.27 46.44L107.91 31.28M45.98 62.2L30.05 52.67M92.8 43.54L94.67 36.88M40.41 88.54L27.19 90.16M55.89 50.92L42.96 34.55M95.18 122.72L100.46 137.96M45.87 104.6L31.74 112.95M112.28 111.45L123.8 121.95M98.75 45.71L106.81 27.95M40.67 90.37L22.88 93.35M91.35 123.84L93.48 132.66M94.13 123.06L99.02 138.52M69.23 123.11L66.96 130.4M82.57 42.01L82.85 30.05M123.08 82.16L132.47 81.86M122.44 76.1L134.48 73.92M42.54 97.51L24 104.16M44.43 101.95L38.77 104.75M50.92 55.55L39.74 45.36M40.37 88.24L25.27 89.98M114.51 108.79L123.3 115.54M99.59 46.1L106.51 31.72M95.42 44.37L100.82 29.08M59.6 48.31L51.11 34.73M55.91 116.1L44.7 130.33M71.2 43.33L66.64 25.72M79.01 42.08L78.2 29.21M85.41 42.18L86.8 27.02" stroke="#fff" stroke-width="0.3" stroke-opacity="0.6" fill="none"/>
<circle cx="81.6" cy="83.5" r="21.6" fill="none" stroke="#0808ff" stroke-width="19.4"/>
<path d="M72.89 90.85L66.38 96.34M90.23 90.95L92.18 92.63M73.55 91.58L67.67 97.49M72.49 76.64L62.97 69.47M84.28 94.58L85.82 100.97M82.4 72.13L82.5 70.75M81.05 72.11L80.99 70.93M70.98 87.65L69.8 88.11M88.59 92.51L89.81 94.08M86.91 93.59L89.72 98.95M79.98 72.22L79.72 70.41M92.87 81.81L94.11 81.62M74.64 74.47L73.59 73.11M79.89 94.77L79.61 96.59M86.15 73.05L86.64 71.94M71.15 78.94L62.62 75.22M75.2 92.93L69.77 100.93M85.48 72.78L86.29 70.55M71.97 77.4L63.54 72.05M91.14 77.26L92.86 76.13M74.63 92.52L72.85 94.83M80.86 94.88L80.66 97.82M89.15 92.04L90.59 93.67M92.98 84.19L94.23 84.27M74.49 92.41L73.15 94.1M75.21 74.06L69.05 64.95M76.2 73.46L74.99 71.21M87.69 73.87L88.06 73.28M88.25 74.24L90.67 70.88M70.44 85.83L69.95 85.94M70.62 80.45L68 79.72M71.24 78.74L69.77 78.07M83.59 72.27L83.69 71.69M79.74 94.75L78.26 103.73M89.22 75.02L95.45 68.09M91.62 88.95L98.83 92.87M87.49 93.26L88.11 94.28M92.69 86.14L98.67 87.56M70.3 81.99L69.33 81.86M81.7 72.1L81.79 62.34M80.3 72.17L80.23 71.52M91.35 77.59L93.09 76.54M73.69 91.71L69.76 95.79M92.94 82.3L93.8 82.21M83.64 72.28L83.91 70.76M90.01 91.2L94.3 95.13M71.51 78.19L70.84 77.84M83.71 72.3L84.2 69.66M85.14 72.66L86.73 67.82M71.08 87.89L62.27 91.56M92.99 83.11L95.91 83.01M75.84 73.66L71.86 66.87M85.21 72.69L86.09 70.06M86.26 73.1L86.51 72.54M73.82 75.17L73.33 74.65M90.56 90.55L91.8 91.53M74 92L73.51 92.55M79.16 94.63L78.81 96.2M70.95 79.44L68.56 78.53M92.99 83.08L95.47 82.98M81.86 72.1L81.9 70.26M70.48 86L61.45 88.03M92.84 81.61L94.52 81.33M92.78 85.73L93.49 85.87M70.9 87.44L70.31 87.65M89.44 75.22L96.75 67.49M73.86 75.13L71.85 72.96M91.59 78.01L101.65 72.49M92.62 80.57L93.41 80.36M87.31 73.64L91.55 66.32M83.28 94.77L83.6 96.86M90.24 76.06L91.74 74.77M72.66 90.57L64.47 97.05M90.25 76.08L90.91 75.52M82.23 94.88L82.38 97.55M71.23 88.24L64.51 91.32M75.62 73.79L70.13 64.89M70.9 79.58L69.62 79.11M85.55 72.81L88.06 65.99M80.63 72.14L80.49 70.57M73.12 75.89L65.81 69.33M73.93 75.07L70.27 71.04M73.97 91.97L72.5 93.59M78.25 72.6L77.99 71.78M76.8 93.84L76.1 95.34M87.1 73.51L88.33 71.29M70.23 84.26L63.12 84.73M85.72 94.13L86.62 96.43M76.76 93.82L76.39 94.6M84.54 94.52L84.74 95.29M87.05 73.49L87.45 72.75M71.52 78.18L69.16 76.93M77.84 94.26L77.45 95.39M71.96 77.42L70.17 76.29M73.17 91.17L72.43 91.84M86.36 93.86L91.15 104.3M75.42 93.08L75.09 93.6M77.48 94.13L76.46 96.77M92.58 80.43L93.1 80.28M83.64 72.28L85.59 61.62M90.98 77.02L92.58 75.92M93 83.25L95.78 83.19M70.2 83.71L68.19 83.74M92.65 86.3L97.81 87.61M73.26 75.73L71.26 73.87M91 89.95L97.79 94.61M92.99 84.02L94.26 84.08M89.05 74.87L90.37 73.34M92.99 82.92L95.42 82.8M90.47 76.34L94.72 72.92M90.23 90.95L98.14 97.79M71.77 77.72L64.5 73.45M77.09 73.03L76.31 71.23M91.79 88.6L93.52 89.46M93 83.29L95.66 83.24M70.4 85.61L69.84 85.72M90.06 91.14L92 92.9M78.28 94.41L77.69 96.33M77.87 94.27L77.25 96.06M77.9 94.28L77.63 95.05M85.82 94.09L90.09 104.79M92.58 86.56L94.31 87.04M84.85 94.43L85.55 96.8M87.42 73.7L88.03 72.67M92.51 80.19L93.18 79.99M79.92 94.78L79.61 96.86M74.89 92.71L73.89 94.09M74.2 92.17L73.12 93.43M71.04 87.79L68.88 88.67M75.77 93.3L71.4 100.64M78.16 94.37L76.46 99.7M89.78 91.44L91.46 93.06M70.41 85.69L67.58 86.25M80.32 72.17L79.98 69.2M73.73 91.75L73.23 92.27M82.84 72.17L83.09 69.89M74.02 92.01L69.41 97.18M70.21 84.07L68.13 84.17M78.19 94.38L77.62 96.19M87.74 73.9L88.96 71.99M86.59 93.75L89.8 100.34M91.46 77.78L92.67 77.08M91.43 77.73L95.39 75.4M70.52 86.18L68.78 86.6M81.37 72.1L81.32 69.46M82.03 72.11L82.45 60.94M85.23 94.31L85.76 95.87M91.37 77.62L92.74 76.79M73.28 75.71L71.93 74.45M83.63 94.72L84.08 97.16M74.94 92.75L73.25 95.09M74.96 92.77L73.87 94.29M73.16 75.84L71.59 74.41M82.49 94.87L82.56 95.76M92.93 82.2L94.47 82.02M74.82 92.66L73.6 94.31M83.5 94.74L85.2 104.84M92.96 82.58L100.85 81.94M91.41 89.3L93.38 90.46M86.01 94.01L86.45 95.06M72.83 76.22L70.77 74.51M85.9 94.06L86.63 95.86M79.97 94.78L79.69 96.66M78.08 72.66L76.89 69.01M80.73 72.13L80.68 71.5M71.24 78.75L70.72 78.51M91.79 78.39L94.12 77.22M83.02 72.19L83.08 71.66M85.36 72.74L85.93 71.11M79.37 72.32L78.85 69.73" stroke="#fff" stroke-width="0.4" stroke-opacity="0.8" fill="none"/>
<path d="M75.44 93.1L65.87 108.03M71.5 88.79L60.83 94.37M89.8 91.42L99.92 101.21M88.86 74.71L100.23 60.95M82.82 94.83L84.08 106.47M82.2 94.88L83.09 111.71M92.88 85.17L107.71 87.37M87.8 73.93L94.36 63.82M92.13 79.13L105.33 73.65M71.06 87.85L60.03 92.41M71.03 87.78L57.15 93.4M70.2 83.44L51.74 83.34M91.47 89.2L107.46 98.44M84.77 94.45L88.75 108.22M91.84 78.49L101.47 73.78M72.57 90.46L63.96 97.11M84.07 72.37L86.39 61.91M78.59 94.5L75.51 105.75M92.96 84.45L109.42 85.84M85.37 94.26L89.09 104.88M71.3 88.39L54.63 96.31M73.69 91.71L64.13 101.63M78.89 94.57L75.09 110.09M71.91 77.5L57.72 68.73M93 83.37L109.63 83.19M88.51 74.44L95.24 65.62M81.06 94.89L80.52 106.44M77.32 94.07L72.66 105.57M77.63 72.81L72.87 59.99M71.16 78.93L54.64 71.71M84.95 94.4L89.81 110.2M82.16 94.89L82.81 108.27M89.62 75.4L100.6 64.32M76.22 73.45L68.73 59.48M92.01 88.15L105.21 94.06M90.54 90.57L101 98.83M70.32 81.87L60.36 80.44M82.92 94.82L84.58 109.08M90.7 76.63L103.65 66.86M93 83.76L106.42 84.06" stroke="#fff" stroke-width="0.25" stroke-opacity="0.55" fill="none"/>
<path d="M81.89 72.6L83.25 20.32M85.33 73.26L103.22 24.11" stroke="#fff" stroke-width="0.75" fill="none"/>
<path d="M92.15 80.77L111.9 75.66M92.49 83.98L112.87 84.87M92.3 85.58L112.32 89.47M84.42 94.03L89.7 113.73M81.79 94.4L82.15 114.8M79.24 94.14L74.83 114.06M71 86.04L51.16 90.81" stroke="#fff" stroke-width="1.0" fill="none"/>
<path d="M121.15 72.68L142.56 66.82L143 68.53L121.43 73.79zM122.58 84.72L144.77 85.37L144.7 87.14L122.53 85.86zM121.95 90.76L143.8 94.69L143.46 96.42L121.73 91.88zM92.76 122.95L98.81 144.31L97.1 144.77L91.66 123.25zM82.89 124.48L83.59 146.67L81.82 146.7L81.74 124.5zM73.29 123.65L68.78 145.39L67.06 145L72.17 123.4zM41.94 93.9L20.47 99.54L19.85 96.96L41.54 92.23z" fill="#fff"/>
<path d="M83.12 72.71L90.4 20.92M87.21 74.16L114.15 29.33M90.74 77.56L134.6 49.08M91.13 88.78L136.88 114.14M90.42 89.91L132.73 120.65M87.54 92.64L116.02 136.5M75.66 92.64L47.18 136.5M73.63 90.93L35.38 126.6M71.8 88.28L24.8 111.21M70.87 81.61L19.36 72.53M72.11 78.13L26.59 52.38M74.59 75.15L40.98 35.09M78.78 72.97L65.24 22.45" stroke="#fff" stroke-width="0.45" stroke-opacity="0.7" fill="none"/>
<circle cx="81.6" cy="83.5" r="36.5" fill="none" stroke="#fff" stroke-width="11.2"/>
<circle cx="81.6" cy="83.5" r="41.0" fill="none" stroke="#747474" stroke-width="2.3"/>
<circle cx="81.6" cy="83.5" r="37.3" fill="none" stroke="#e4e4e4" stroke-width="0.5"/>
<circle cx="81.6" cy="83.5" r="38.3" fill="none" stroke="#d0d0d0" stroke-width="1.2" stroke-dasharray="0.25 2.1"/>
<circle cx="81.6" cy="83.5" r="33.45" fill="none" stroke="#f7ecdf" stroke-width="1.9"/>
<circle cx="81.6" cy="83.5" r="31.1" fill="none" stroke="#767676" stroke-width="2.0"/>
<path d="M70.16 52.07A33.45 33.45 0 0 1 83.93 50.13" fill="none" stroke="#8fe8d4" stroke-width="1.9"/>
<path d="M84.52 50.18A33.45 33.45 0 0 1 96.26 53.44" fill="none" stroke="#48e2f0" stroke-width="1.9"/>
<path d="M115 85.25A33.45 33.45 0 0 1 114.8 87.58" fill="none" stroke="#3c3cb0" stroke-width="1.9"/>
<path d="M114.72 88.16A33.45 33.45 0 0 1 114.19 91.02" fill="none" stroke="#40e8f0" stroke-width="1.9"/>
<path d="M114.06 91.59A33.45 33.45 0 0 1 113.41 93.84" fill="none" stroke="#c04060" stroke-width="1.9"/>
<path d="M109.97 101.23A33.45 33.45 0 0 1 107.96 104.09" fill="none" stroke="#a8c4f4" stroke-width="1.9"/>
<path d="M106.85 105.45A33.45 33.45 0 0 1 103.98 108.36" fill="none" stroke="#f4c4a0" stroke-width="1.9"/>
<path d="M102.65 109.5A33.45 33.45 0 0 1 98.32 112.47" fill="none" stroke="#dca474" stroke-width="1.9"/>
<path d="M93.04 114.93A33.45 33.45 0 0 1 87.41 116.44" fill="none" stroke="#98ee48" stroke-width="1.9"/>
<path d="M85.68 116.7A33.45 33.45 0 0 1 79.85 116.9" fill="none" stroke="#78b4b4" stroke-width="1.9"/>
<path d="M78.68 116.82A33.45 33.45 0 0 1 71.82 115.49" fill="none" stroke="#f0ccaa" stroke-width="1.9"/>
<path d="M70.16 114.93A33.45 33.45 0 0 1 63.87 111.87" fill="none" stroke="#b85858" stroke-width="1.9"/>
<path d="M60.1 109.12A33.45 33.45 0 0 1 55.24 104.09" fill="none" stroke="#a458e0" stroke-width="1.9"/>
<path d="M53.87 102.21A33.45 33.45 0 0 1 51.04 97.11" fill="none" stroke="#5858f0" stroke-width="1.9"/>
<path d="M48.37 87.29A33.45 33.45 0 0 1 48.71 77.4" fill="none" stroke="#6c6c6c" stroke-width="2.7"/>
<path d="M120.04 73.56L122.55 72.91M121.26 85.23L123.86 85.35M120.57 91.08L123.12 91.57M91.88 121.85L92.55 124.36M82.29 123.19L82.34 125.79M73.01 122.26L72.44 124.8M43 92.77L40.47 93.37M82.64 43.81L82.71 41.21M95.18 46.19L96.07 43.75M87.13 44.19L87.49 41.61M102.05 49.47L103.39 47.24M114.9 61.88L117.08 60.46M116.32 102.75L118.6 104.01M113.72 106.84L115.82 108.36M103.22 116.8L104.64 118.98M59.98 116.8L58.56 118.98M52.57 110.58L50.66 112.35M45.92 100.9L43.58 102.04M42.5 76.61L39.94 76.15M47.05 63.95L44.78 62.67M56.08 53.09L54.41 51.1M71.32 45.15L70.65 42.64" stroke="#fff" stroke-width="0.4" stroke-opacity="0.8" fill="none"/>
<radialGradient id="g2" gradientUnits="userSpaceOnUse" cx="243.6" cy="83.5" r="62"><stop offset="0.66" stop-color="#ff0000" stop-opacity="0.86"/><stop offset="0.76" stop-color="#ff0000" stop-opacity="0.76"/><stop offset="0.84" stop-color="#ff0000" stop-opacity="0.52"/><stop offset="0.9" stop-color="#ff0000" stop-opacity="0.3"/><stop offset="0.96" stop-color="#ff0000" stop-opacity="0.14"/><stop offset="0.99" stop-color="#ff0000" stop-opacity="0.04"/><stop offset="1" stop-color="#ff0000" stop-opacity="0"/></radialGradient>
<circle cx="243.6" cy="83.5" r="51" fill="none" stroke="url(#g2)" stroke-width="22"/>
<path d="M250.2 124.47L252.94 141.44M276 57.57L280.57 53.92M284.63 89.75L303.37 92.6M218.9 116.85L209.41 129.67M276.44 58.13L287.82 49.33M220.48 49.03L216.29 42.77M262.35 46.48L270.27 30.83M267.01 117.77L278.06 133.94M222.48 47.77L211.81 29.71M229.96 44.3L227.05 35.93M274.74 56.07L284.13 47.8M279.12 62.04L296.03 51.83M205.59 66.85L192.92 61.3M220.06 117.68L211.62 129.94M251.5 42.76L254.93 25.09M237.44 42.46L234.88 25.39M275.05 110.58L288.37 122.04M270.82 52.17L278.19 43.68M240.64 124.89L239.29 143.8M250.9 42.65L254.26 23.85M238.66 124.7L237.35 135.64M270.4 115.18L282.37 129.32M230.78 122.97L227.63 132.68M253.12 43.11L255.86 31.49M212.14 110.57L206.57 115.35M283.72 72.87L295.34 69.8M232.96 43.39L229.13 28.94M279.66 62.95L297.21 52.95M282.11 68.04L299.05 61.24M245.34 42.04L245.83 30.24M278.39 106.13L294.78 116.8M215.37 113.92L201.2 129.18M242.66 124.99L242.52 131.4M203.24 73.84L184.57 69.37M284.76 78.17L300.18 76.18M213.89 112.47L205.5 120.65M218.02 50.82L211.92 43.02M213.92 54.49L205.36 46.13M239.65 124.81L237.97 142.37M284.05 74.21L295.82 71.51M205.69 100.39L189.6 107.56M216.44 52.12L207.2 41.46M260.01 121.62L268.24 140.71M214.3 112.89L200.07 127.17M202.19 80.78L188.15 79.86M219.41 49.78L208.5 34.57M277.56 107.36L288.49 115.04M227.52 121.76L225.14 127.42M220.02 49.35L209.33 33.87M221.48 48.39L213.13 35.15M272.11 113.66L277.98 119.87M281.98 99.29L300.76 107.01M232.87 123.59L228.54 139.77M234.74 124.04L230.96 141.33M285.09 82.39L299 82.02M205.48 99.91L187.14 107.81M204.49 97.37L187.16 103.51M227.05 45.44L218.98 26.89M257.98 122.43L261.53 132.03M278.46 106.01L287.95 112.14M229.25 44.56L227.28 39.23M284.38 91.2L294.84 93.17M284.38 75.82L304.18 72.09M204.29 96.8L194.9 99.97M217.85 116.05L205.86 131.19M254.01 123.67L258.89 142.5M284.69 77.65L300.22 75.44M268.98 116.34L279.6 130.08M236.45 42.62L233.71 26.96M277.14 107.94L291.74 118.58M243.63 125L243.63 138.25M274.89 56.23L283.24 48.95M285.1 83.98L292.26 84.07M284.06 92.71L303.89 97.23M270.24 115.32L282.85 130.39M281.04 101.4L289.31 105.35M208.94 60.67L195.09 51.55M265.3 118.87L274.03 133.11M266.51 118.1L273.98 129.38M268.09 117.01L279.25 132.28M283.46 71.94L294.58 68.72M237.69 124.58L236.64 131.87M213.99 54.43L200.37 41.06M202.29 87.5L189.95 88.69M212.52 56L198.13 43.27M215.16 53.28L210.74 48.59M246.97 42.14L247.79 32.09M203.05 92.34L191.07 94.95M281.59 66.79L293.03 61.76M217.78 115.99L212.41 122.75M234.23 123.93L230.96 138.05M209.8 107.58L194.45 118.51M212.38 110.84L201.27 120.56M270.36 115.22L279.4 125.95M203.1 92.55L191.42 95.16M245.8 124.94L246.84 144.37M232.35 43.55L227.62 26.73M266.74 117.95L275.98 131.71M208.43 61.47L191.76 51.04M264.56 47.68L274.59 30.52M270.69 52.06L282.12 38.79M234.71 42.96L230.31 22.85M230.68 44.06L228.64 37.82M225.03 46.39L218.37 33.09M202.14 81.73L188 81.12M281.59 100.2L300.27 108.42M231.46 43.82L225.36 23.87M226.74 45.58L221.35 33.46M224.41 46.7L216.79 32.09M246.87 42.13L247.74 31.03M202.4 88.44L183.4 90.72M278.68 105.67L290.14 112.91M240.88 42.09L239.9 27.12M214.36 112.95L203.32 124.07M284.79 78.43L298.3 76.77M273.28 54.5L284.53 43.5M202.12 84.82L190.59 85.18M268.48 50.29L279.35 35.78M280.32 64.16L294.31 56.78M224.25 120.22L217.96 132.16M276.42 108.9L293 121.74M242.96 124.99L242.73 139.65M268.04 117.04L274.35 125.69M274.36 111.36L284.06 120.14M283.31 95.55L295.58 99.27M268.57 116.65L277.84 128.95M262.13 46.37L269.88 30.84M285.1 83.56L304.05 83.59M206.77 102.64L197.82 107.29M284.23 91.95L303.12 95.88M282.76 69.75L298.75 64.13M221.42 118.57L213.45 131.18M254.31 123.59L259.56 143.24M252.56 124.02L255.42 136.94M202.1 83.11L190.79 83M202.55 89.61L187.5 91.84M215.92 114.42L204.02 127.73M282.51 97.94L288.54 100.18M203.4 73.21L190.14 69.82M219.73 49.55L214.15 41.63M263.4 119.97L269.38 130.99M264.99 119.06L275.13 135.92M282.44 98.12L291.64 101.59M207.47 63.07L195.7 56.42M218.94 116.88L206.89 133.21M284.71 77.8L304.03 75.12M226.36 45.75L219.89 31.59M282.05 67.9L300.64 60.36M230.36 122.83L224.39 140.6M234.87 124.07L230.66 143.64M215.7 114.22L208.74 121.88M208.46 61.43L194.04 52.37M249.19 42.38L251.23 27.4M267.96 117.1L272.68 123.6M237.88 124.6L235.67 140.45M218.44 50.5L208.84 37.9M209.58 59.73L198.58 52.04M249.93 42.48L252.79 23.91M214.74 113.32L200.2 128.34M266.41 118.17L276.77 133.9M237.31 124.52L234.49 142.89M213.2 55.25L200.68 43.61M284 93.01L291.93 94.88M254.56 43.47L260.03 23.46M218.62 116.64L213 124.09M235.12 124.12L233.04 134.1M211.64 57.02L195.65 43.77M267.45 117.46L277.35 131.55M226.09 121.13L218.62 137.18M206.5 64.9L190.16 56.71M202.13 82.06L187.84 81.56M248.99 42.35L251.16 25.74M266.71 49.03L275.1 36.52M280.55 102.4L294.84 109.71M235.88 124.27L231.99 144.78M283.17 96L301.9 101.91M227.6 45.21L224.71 38.29M226.37 45.74L219.22 30.07M283.41 71.78L292.11 69.22M260.3 45.51L264.39 36.21M205.96 66.02L190.14 58.67M202.8 75.91L188.7 73.29M281.52 100.37L288.21 103.35M215.42 53.04L203.73 40.4M283.36 71.62L302.18 65.99M249.04 124.64L251.64 144.37M239.86 124.83L238.3 142.14M202.66 76.7L185.14 73.79M209.37 60.03L195 50.18M279.8 63.21L292.72 55.96M277.82 60.02L286.6 54M280.67 64.85L295.66 57.31M240.44 42.12L239.11 24.67M260.34 121.47L265.87 134.01M234 43.12L229.36 23.58M210.01 107.87L202.29 113.48M279.58 62.82L290.59 56.49M279.99 63.55L289.82 58.16M247.57 124.81L249.47 144.55M265.51 48.25L276.25 30.97M204.69 97.93L189.76 103.47M237.82 42.4L235.72 27.41M276.59 58.33L286.07 51.1M285.1 82.87L304.6 82.57M263.38 47.02L268.1 38.29M230.23 44.21L223.87 25.56M262.09 120.65L265.22 126.94M273.12 54.33L280.68 46.87M212.04 56.55L196.18 43M245.76 42.06L246.71 23.99M283.15 96.07L293.41 99.32M223.94 46.95L214.81 29.97M265.33 48.14L270.65 39.48M203.67 72.18L184.43 66.72M233.31 43.3L228.38 24.02M216.98 51.66L209.47 42.67M271.79 53.05L283.47 40.43M220.27 117.82L210.04 132.86M259.83 121.7L267.98 140.88M230.67 44.07L224.41 24.98M269.21 50.85L276.55 41.49M216.24 52.29L208.59 43.56M249.59 124.57L252.4 143.87M284.72 77.92L304.83 75.2M212.15 56.42L196.9 43.3M204.45 97.26L188.27 102.94M266.41 48.83L277.3 32.27M257.56 122.58L263.47 139.1M206.78 64.35L195.68 58.58M202.51 89.32L195.39 90.33M281.65 100.06L294.23 105.53M203.18 92.9L193.31 95.2M260.36 45.54L264.11 37.06M240.73 42.1L240.35 36.54M276.32 109.03L286.15 116.71M269.65 51.2L278.54 40.18M258.79 44.88L262.22 36.18M202.92 91.72L182.51 95.85M202.21 86.51L191.14 87.32M239.48 42.21L237.74 24.79M276.16 57.77L290.87 46.14M265.37 48.17L271.04 38.97M214.68 113.27L200.31 128.06M276.84 108.35L288.77 117.28M280.95 65.4L294.59 58.79M281.78 67.24L290.68 63.46M270.73 52.1L275.72 46.33M256.72 44.13L262.44 26.97M203.72 94.98L184.03 100.65M263.18 120.09L272.98 138.42M254.1 43.35L259.37 23.21M239.62 42.19L238.9 34.65M234.23 43.07L230.03 24.96M210.29 108.25L198.29 117.17M223.98 120.07L216.51 134.01M213.67 112.25L201.91 123.55M202.53 77.55L189.88 75.72M284.88 79.25L299.75 77.73M202.54 89.49L194.71 90.63M281.44 66.47L296.69 59.6" stroke="#ff0000" stroke-width="0.32" stroke-opacity="0.85" fill="none"/>
<path d="M228.41 122.12L221.18 140.49M284.53 76.63L300.74 73.9M259.64 121.78L263.58 131.2M277.93 106.82L295.17 118.53M205.81 100.65L187.41 108.99M249.13 42.37L251.83 22.31M230.48 44.13L224.57 26.37M203.08 92.47L187.45 95.94M213.9 112.49L203.45 122.7M204.54 97.53L199.32 99.41M203.75 95.09L184.95 100.56M232.94 123.61L230.48 132.85M218.27 50.63L213.61 44.59M272.69 53.9L282.21 44.21M251.33 42.73L254.03 28.5M271.2 114.5L285.11 130.12M268.92 50.62L279.49 36.89M284.37 91.25L300.04 94.22M283.66 72.67L294.67 69.69M283.64 72.61L298.16 68.66M202.73 76.29L183.55 72.9M214.01 112.6L199.49 126.87M260.55 121.38L268.03 138.12M272.41 53.63L281.83 43.85M244.5 124.99L244.94 144.82M284.89 87.65L299.8 89.15M229.65 44.41L222.98 25.71M243.17 125L243 141.67M265.09 47.99L275.8 30.29M239.82 124.83L238.26 141.81M276.99 58.85L281.66 55.4M217.21 51.47L208 40.31M249.66 124.56L252.67 144.97M280.6 64.7L295.19 57.28M209.71 59.55L196.1 49.94M205.55 66.93L193.23 61.56M204.16 70.58L184.43 64.12M255.25 123.33L258.77 135.37M268.47 116.72L280.49 132.78M263.78 119.76L272.74 135.86M271.46 52.74L279.7 43.65M207.53 62.97L195.58 56.17M202.98 91.98L182.56 96.25M204.88 98.42L194.49 102.42M202.11 84.53L183.64 84.99M272.51 53.73L286.03 39.8M223.59 119.86L213.67 137.88M248.66 124.69L250.78 141.96M280.75 102.01L293.32 108.27M203.04 92.29L193.14 94.43M210.34 58.68L197.12 48.81M284.92 87.38L297.01 88.52M285.06 85.25L294.23 85.63M215.61 52.86L202.73 38.76M202.16 85.65L191.6 86.2M246.34 42.09L247.41 25.94M242.32 124.98L241.8 141.8M254.49 123.55L259.39 141.55M202.13 85.12L185.68 85.76M202.2 86.39L189.84 87.25M205.71 66.58L192.74 60.78M264.9 119.12L273.2 133.01M253.46 123.81L256.42 135.9M216.53 114.96L205.67 127.58M252.83 123.96L255.08 133.85M257.4 122.64L261.72 134.9M273.96 55.21L286.45 43.57M274.47 111.23L281.83 117.84M215.24 113.8L201.33 128.67M284.33 75.52L303.88 71.69M284.52 90.44L304.07 93.76M228.74 122.25L221.67 140.69M233.93 43.14L231.23 31.86M208.47 61.4L197.05 54.21M257.82 122.49L263.52 138.11M269.32 50.93L279.52 38.03M228.22 122.04L224.57 131.2M261.29 121.04L268.01 135.28M274.51 55.8L285.78 45.7M211.88 110.26L203.42 117.41M284.67 77.51L300.46 75.21M225.3 46.25L216.65 28.64M266.58 118.05L277.17 133.97M202.97 75.05L182.87 70.86M202.21 80.53L182.28 79.1M278.39 106.12L284 109.77M283.58 72.38L303.11 66.94M205.75 100.51L187.5 108.71M268.33 50.17L280.4 33.9M204.75 68.91L186.08 61.9M205.65 100.29L186.46 108.78M244.74 42.02L245.14 27.84M240.9 124.91L240.06 137.81M281.6 100.18L299.93 108.23M209.82 107.6L193.38 119.33M225.42 46.19L218.63 32.27M271.46 114.26L285.41 129.68M205.08 68.07L189.48 61.82M269.56 115.87L282.23 131.67M218.8 50.22L206.84 34.17M278.83 105.43L295.69 115.93M221.15 118.4L210.15 135.51M258.48 44.76L264.06 30.25M217.65 115.89L211.51 123.55M202.43 78.27L186.34 76.23M239.63 42.19L239.03 35.89M203.17 92.86L187.34 96.52M219.88 49.45L215.03 42.48M285.1 83.95L301.57 84.12M213.49 112.06L199.82 125.03M262.88 120.25L270.28 134.35M221.99 48.07L214.87 36.39M208.61 61.18L192.42 50.85M203.51 94.23L188.43 98.27M202.74 76.24L182.71 72.68M207.37 103.73L195.82 110.17M202.16 85.72L182.4 86.78M208.31 105.34L194.72 113.76M283.26 95.73L291.19 98.18M284.55 90.21L297.42 92.31M229.13 122.4L223.86 136.57M263.49 47.08L269.71 35.68M203.66 72.23L196.27 70.14M241.78 42.04L240.86 21.27M202.13 85.03L181.3 85.8M273.01 54.22L287.83 39.46M210.45 58.54L198.56 49.59M202.11 84.44L182.36 84.88M217.89 116.08L205.45 131.83M257.31 44.33L261.41 32.6M284.67 77.53L303.21 74.84M274.78 110.89L285.2 120.05M255.89 43.86L262.1 23.85M229.41 122.5L223.16 139.67M207.19 103.42L191.81 111.83M282.53 69.12L301.33 62.17M285.06 81.68L292.39 81.36M203.27 73.71L196.58 72.09M270.99 52.32L280.98 40.94M285.09 84.19L297.78 84.41M203 74.89L191.68 72.49M237.53 42.45L235.81 30.82M226.29 45.78L217.85 27.41M236.02 124.3L232.42 143.62M278.5 105.96L283.09 108.91M217.72 115.94L208.27 127.79M257.56 122.58L261.55 133.74M275.53 56.99L287.02 47.46M281.63 66.88L296.54 60.36M204.41 97.14L192.51 101.28M270.04 51.51L275.64 44.73M203.59 94.5L187.4 98.95M277.08 108.03L292.61 119.41M206.64 64.63L190.53 56.4M205.54 66.95L193.55 61.73M208.96 60.65L191.84 49.36M283.06 70.65L292.46 67.59M282.39 98.24L291.35 101.64M264.15 119.55L273.14 135.32M240.6 124.89L239.12 145.38M270.31 115.26L279.15 125.77M276.25 57.88L286.11 50.14M275.09 56.46L287.91 45.45M283.04 96.4L301.49 102.43M257.59 122.57L261.52 133.55M210.27 108.22L195.5 119.18M243.88 42L243.94 32.17M231.65 123.24L227.22 137.97M203.19 74.05L184.56 69.7M284.73 89.01L292.58 90.06M240.29 124.87L238.73 144.45M284.93 79.79L304.04 78.07M211.94 56.67L200.42 46.9M218.25 50.64L207.05 36.12M204.09 96.21L184.72 102.43M285.08 84.92L303.15 85.55M284.64 77.37L298.09 75.36M204.17 70.55L197.21 68.26M285.06 81.66L305.23 80.76M255.63 123.22L258.64 133.13M281.75 67.17L300.36 59.2M279.59 104.17L297.19 114.28M276.48 108.82L291.22 120.17M285.06 85.38L294.93 85.83M202.27 79.8L184.88 78.24M258.1 122.38L264.51 139.57M284.46 90.75L297.35 93.04M257.46 44.38L263.15 28.31M239.32 124.78L237.69 140.58M280.66 102.18L296.99 110.41M202.2 86.43L194.46 86.98M272.84 112.95L279.35 119.51M284.9 87.54L299.57 88.97M270.46 51.87L278.34 42.59M211.82 110.19L197.85 121.92M284.64 89.69L303.6 92.55M202.2 86.39L187.56 87.42M252.15 42.89L256.13 24.01M203.09 92.5L192.43 94.86M206.04 101.14L195.16 106.26M217.05 51.6L209.56 42.6M255.68 43.8L261.49 24.7M225.78 46.02L218.82 31.39M276.77 58.55L289.51 48.97M260.51 45.6L265.75 33.88M202.96 75.1L187.26 71.85M284.44 90.88L297.93 93.31M283.96 93.14L304.32 98M279.1 104.99L293.51 113.71M205.16 67.86L190.78 62.01M256.91 44.19L259.43 36.75M202.89 75.47L185.53 72.04M275.57 57.04L290.63 44.58M215.25 113.81L211.39 117.94M276.76 108.46L292.42 120.25M283.48 72.01L300.25 67.18M238.24 42.35L235.63 22.34M215.49 114.03L208.53 121.58M203.11 92.58L189.08 95.73M283.74 72.97L299.31 68.89M283.99 93.02L302.7 97.43M207.81 104.51L201.75 108.07M261.73 46.17L266.35 36.66M205.2 67.77L187.62 60.58M285.09 82.76L305.43 82.4M207.71 104.33L192.18 113.34M284.32 91.5L298.38 94.26M202.47 89.03L183.07 91.63M256.17 43.95L261.86 26.02M239.39 42.21L238.33 31.87M268.75 116.51L278.39 129.17M285.1 83.89L299.23 84.03M285.07 84.99L300.95 85.56M284.32 75.49L301.05 72.2M252.99 43.08L255.56 32.02M215.73 114.25L210.49 120.02M263.34 47L272.84 29.44M279.22 104.79L296.23 114.95M206.46 64.99L188.87 56.23M278.6 105.81L289.78 112.93M228.83 44.72L222.81 28.92M284.42 76.03L304.88 72.28M212.47 56.05L202.44 47.2M212.1 56.48L203.63 49.22M216.75 51.86L212.58 46.95M283 70.48L296.76 65.93M232.87 43.41L228.14 25.72M272.64 113.15L285.33 126.11M220.12 49.28L212.59 38.31M282.17 68.19L297.31 62.19M202.13 85.07L183.79 85.77M273.44 112.35L284.93 123.46M284.98 80.34L300.65 79.15M205.15 99.11L186.58 106.65M282.51 69.07L297.5 63.51M255.68 43.8L261.6 24.35M282.54 69.14L293.68 65.03M251.74 42.81L253.68 33.13M209.06 60.5L202.81 56.34M202.15 81.53L185.36 80.73" stroke="#ff0000" stroke-width="0.32" stroke-opacity="0.85" fill="none" stroke-dasharray="0.6 0.3"/>
<path d="M209.92 107.74L195.45 118.16M284.79 88.53L301.54 90.57M267.41 49.51L277.17 35.58M278.9 61.68L296.54 50.78M228.42 122.13L223.19 135.45M207.01 63.92L189.04 54.3M284.86 79.02L305.43 76.78M210.34 58.68L202.1 52.53M266.75 49.05L272.06 41.14M284.99 80.55L298.68 79.57M202.19 80.76L183.67 79.53M284.99 80.49L296.63 79.65M267.52 117.41L272.66 124.7M284.99 80.5L301.84 79.28M278.84 61.59L294.37 51.93M277.55 59.63L286.43 53.39M279.1 62.01L296.72 51.33M262.11 46.36L266.85 36.85M285.1 83.71L301.68 83.79M268.8 116.48L278.42 129.07M245.1 124.97L245.58 138.49M206.27 101.63L193.63 107.77M285.1 82.9L293.68 82.78M279.67 104.02L296.59 113.63M262.04 46.32L265.94 38.45M243.11 125L242.86 145.48M276.11 57.71L284.17 51.32M242.6 124.99L242.13 144.3M246.94 124.87L247.61 133.21M215.65 52.83L204.76 40.88M202.94 75.18L182.43 70.99M251.98 124.15L254.59 136.8M220.48 49.03L212.47 37.09M243.45 42L243.39 26.58M228.06 45.02L224.57 36.38M283.36 71.63L295.53 67.99M262.85 46.73L272.18 28.91M225.18 46.31L216.58 28.97M267.61 117.35L272.53 124.27M202.77 76.08L190.35 73.82M234.7 42.97L231.95 30.48M284.78 78.33L302.42 76.12M284.84 88.13L302.18 90.08M207.71 104.33L199.13 109.31M268.64 50.4L273.89 43.46M219.77 49.52L209.68 35.14M210.87 57.99L197.21 47.34M236.07 42.69L232.57 23.76M283.94 93.26L298.04 96.67M252.51 124.03L256.77 143.41M224.22 46.8L214.91 29.18M239.4 42.21L238.53 33.62M280.34 64.2L295.64 56.17M212.93 55.54L197.67 41.63M282.11 98.96L297.86 105.27M263.03 120.17L269.74 132.84M225.69 120.94L223.16 126.23M273.94 55.19L278.97 50.5M202.12 82.2L188.28 81.77M284.33 75.54L304.19 71.66M285.05 85.48L302.29 86.31M249.76 124.54L252.62 143.54M202.72 90.65L192.09 92.5M232.35 123.45L228.76 136.19M284.77 78.28L302.6 76.03M275.81 57.33L285.11 49.79M284.39 91.12L294.1 92.93M203.16 92.8L197.86 94.02M282.93 70.26L297.33 65.41M283.58 94.63L302.81 99.98M244.09 42L244.2 32.23M224.89 46.45L216.55 29.94M218.18 116.3L207.84 129.65M259.98 45.37L267.7 27.43M278.61 105.78L285.96 110.45M282.45 68.91L289.26 66.35M283.13 70.87L293.9 67.43M202.81 91.13L186.04 94.27M218.87 50.17L210.92 39.46M203.35 73.38L192.57 70.66M284.96 86.85L299.77 88.05M273.01 54.22L287.89 39.41M209.94 59.23L198.14 50.72M227.12 121.59L223.99 128.8M272.07 53.31L279.06 45.89M280.13 63.8L297.63 54.37M260.28 45.5L266.86 30.52M230.58 122.91L226.3 135.88M219.64 117.39L209.33 131.98M285.02 86.14L292.87 86.64M283.71 72.84L301.28 68.16M259.95 45.36L266.33 30.46M257.4 122.64L261.16 133.31M204.11 70.74L186.52 65.05M224.73 46.54L215.71 28.89M207.42 103.82L201.65 107.06M279.58 104.17L297.44 114.43M263.26 120.05L267.36 127.65M284.7 89.25L301.88 91.65M285.07 82.01L304.03 81.33M202.49 77.85L193.19 76.57M280.62 64.74L290.84 59.57M213.39 55.05L202.29 44.6M279.02 105.12L285.57 109.12M283.75 93.99L295.56 97.07M242.92 42.01L242.67 26.37M284.84 78.87L292.52 78M283.94 73.76L299.24 70.06M285.06 85.22L305.74 86.07M276.07 109.35L289.98 120.42M202.87 91.44L187.68 94.4M217.32 115.62L209.16 125.6M207.53 62.98L190.35 53.21M220.47 49.04L211.23 35.27M213.95 112.53L199.72 126.46M281.58 66.78L289.29 63.39M239.33 42.22L237.68 26.22M211.67 110.01L201.94 118.08M202.43 88.75L184.71 91.01M266.02 118.42L276.64 134.96M276.26 109.1L291.49 121.04M282.68 69.55L299.66 63.49M273.07 112.72L287.23 126.77M229.57 122.56L222.77 141.5M283.34 95.45L291.85 98.01M203.29 93.37L195.84 95.19M278.18 60.56L295.26 49.24M250.31 124.45L253.47 143.74M276.82 58.63L289.8 48.91M230.68 44.06L225.37 27.87M218.4 116.47L207.69 130.49M238.91 124.73L237.68 135.5M257.05 122.76L263.59 141.83M202.5 89.23L193.86 90.44M202.46 78.03L191.02 76.5M204.87 98.41L192.79 103.06M264.11 47.42L268.67 39.41M284.61 89.84L295.15 91.47M283.4 71.73L296.49 67.86M265.19 118.94L269.21 125.54M211.19 57.58L198.43 47.36M236.38 124.37L233.51 140.6M254.27 43.4L258.38 27.93M247.7 42.2L249.63 22.84M202.15 81.52L190 80.94M202.42 78.39L192.13 77.12M230.36 44.17L224.85 27.8M206.37 65.16L198.51 61.28M285.09 84.19L305.15 84.53M269.92 51.41L282.74 35.79M206.1 65.73L193.01 59.52M281.98 67.71L299.18 60.64M250.85 42.64L254.37 22.77M276.44 58.13L287.39 49.67M243.2 42L243.01 21.44M269.42 51.01L281.05 36.38M202.17 81.14L187.68 80.31M272.76 113.03L284.87 125.29M275.45 56.9L288.92 45.65M216.35 114.8L209.07 123.17M283.94 73.75L298.02 70.34M282.04 99.14L297.29 105.35M283.48 72L291.39 69.72M276.85 58.67L290.34 48.6M269.6 115.85L277.49 125.66M277.8 59.99L294.1 48.79M283.96 73.86L298.64 70.35M225.14 120.67L220.58 129.84M282.91 70.21L300.81 64.16M230.56 44.1L224.11 24.62M206.84 102.75L189.94 111.6M280.96 101.56L298.08 109.84M215.77 114.29L206.8 124.22M260.16 121.55L264.64 131.85M284.92 79.6L299.36 78.24M203.46 94.05L195.34 96.18M266.23 48.71L277.56 31.29M282.81 97.08L290.38 99.7M211.82 110.19L196.48 123.08M211.98 110.38L197.88 122.36M227.07 45.43L220.83 31.05M279.27 104.7L296.3 114.83M226.87 121.48L219.31 138.64M268.19 116.93L277.78 129.96M204.44 69.75L187.06 63.64M207.31 103.63L195.85 109.99M250.14 42.52L252.14 30.02M207.15 63.66L192.95 55.92M202.36 88.14L190.41 89.48M213.89 54.53L205.81 46.65M282.79 69.86L299.47 64.05M214.63 53.79L200.95 39.77M226.59 45.65L221.23 33.72M280.4 102.69L298.2 111.97M204.58 69.38L193.85 65.49M225.59 46.11L219.15 32.75M206.87 64.18L196.94 58.96M282.97 96.62L302.25 103.04M270.3 51.73L279.43 40.87M272.39 113.39L285.15 126.63M202.4 78.56L184.91 76.46M256.73 122.87L258.52 128.25M283.2 71.1L302.69 65M265.93 118.48L273.43 130.23M261.57 120.91L269.2 136.79M211.79 56.85L197.78 45.12M222.84 47.56L215.58 34.99M272.16 53.4L278.79 46.42M236.49 124.39L233.91 139.22M268.04 117.04L279.95 133.39M283.37 71.63L295.68 67.95M266.98 117.79L273.11 126.79M232.06 43.64L227.44 27.69M217.86 50.95L213.78 45.8M239.82 42.17L238.74 30.37M226.81 121.45L218.41 140.42M214.42 54L200.15 39.58M270.29 115.28L275.25 121.18M282.21 68.29L300.78 60.97M233.64 123.79L228.84 143.21M209.03 106.46L194.47 116.14M204.24 96.66L192.85 100.47M203.97 71.17L186.14 65.62M230.66 44.07L225.79 29.23M230.79 44.03L224.87 25.78M256.23 123.03L258.88 131.31M268.78 50.51L281.27 34.15M233.67 43.21L229.38 25.81M212.89 111.41L201.71 121.57M251.88 42.83L255.53 24.91M217.09 51.57L209.61 42.57M214.18 112.77L203.9 123.01M242.92 42.01L242.61 23.07M208.19 105.15L192.71 114.62M270.52 51.92L280.74 39.94M260.87 121.24L269.35 139.76M209.16 60.35L193.53 49.84M280.53 64.57L291.69 58.85M239.52 42.2L237.61 22.87M284.76 78.2L302.32 75.94M234.59 42.99L230.24 23.46M238.91 42.27L236.91 24.65M276.94 58.78L293.25 46.69M206.05 101.17L190.25 108.6M278.39 106.13L294.3 116.47M204.02 95.97L188.45 100.88M257.88 122.47L264.25 139.85M222.72 47.64L215.64 35.48M284.24 75.11L299.36 71.99M230.52 44.12L225.07 27.73M279.59 62.84L292.62 55.35M279.5 104.32L291.23 111.13M205.84 100.72L197.92 104.34M202.23 86.81L187.71 87.97M280.23 64L297.53 54.8M214.31 112.9L199.99 127.27M222.42 119.19L211.76 137.15M285.1 83.54L303.25 83.56M202.14 85.37L196.94 85.61M215.83 114.34L207.61 123.47" stroke="#ff0000" stroke-width="0.32" stroke-opacity="0.85" fill="none" stroke-dasharray="0.35 0.35"/>
<path d="M208.25 105.23L191.11 115.77M269.58 51.14L278.55 39.96M283.69 72.78L295.23 69.69M285.1 83.52L304.28 83.53M210.92 109.07L199.88 117.71M279.59 62.84L294.82 54.09M267.58 117.37L274.98 127.82M283.82 73.28L293.69 70.77M213.52 112.09L200.03 124.92M283.77 93.92L303.59 99.06M244.01 42L244.17 25.32M254.86 43.56L259.61 26.72M281.37 66.3L295.12 60.03M205.9 66.16L187.47 57.69M271.65 52.92L283.72 39.76M214.11 112.7L202.76 123.95M213.33 111.89L200.37 124.05M226.57 121.35L221.05 133.63M238.37 42.33L235.9 22.88M206.29 65.34L187.75 56.32M274.7 56.02L283.59 48.17M202.11 82.4L185.54 81.96M240.08 42.15L239.01 29.56M260.94 45.8L269.6 26.97M270.45 115.14L283.64 130.68M202.32 79.19L184.22 77.3M230.17 122.77L226.41 133.74M280.36 102.76L295.21 110.54M211.29 57.45L200.83 49.02M251.74 124.19L255.82 144.62M278.87 105.37L295.58 115.74M212.83 55.66L200.65 44.64M250.25 42.54L252.49 28.71M203.13 74.33L189.7 71.29M240.69 42.1L239.25 21.63M217.77 51.02L209.86 41.07M280.15 63.85L293.06 56.9M259.92 121.66L262.18 126.95M211.77 110.13L202.35 118.02M233.73 43.19L230.32 29.29M249.59 42.43L252.58 21.94M275.4 110.16L284.73 117.98M202.19 86.17L196.5 86.54M264.43 47.61L274.6 30.07M250.8 124.37L254.28 144.18M202.4 88.45L185.15 90.53M285.03 85.94L303.41 87.02M203.02 74.79L183.89 70.68M282.05 67.88L298.34 61.26M211.27 109.52L199.68 118.86M263.51 47.09L271.91 31.72M213.09 55.37L203.47 46.5M263.09 120.14L272.07 137M262.42 120.49L270.18 135.72M213.1 55.35L208.75 51.34M243.07 42L242.82 22.69M208.39 105.47L190.63 116.56M280.6 64.71L296.54 56.62M229.89 44.33L224.36 28.53M209.74 59.5L204.3 55.64M228.47 44.86L220.9 25.51M257.59 44.43L263.85 26.93M240.45 42.12L238.98 22.91M233.98 123.87L229.14 144.17M263.1 120.13L269.62 132.38M202.3 79.39L181.85 77.36M209 60.58L195.64 51.73M254.51 43.46L257.49 32.55M207.73 62.63L194.5 54.93M284.44 76.13L302.96 72.78M221.85 48.15L213.97 35.35M202.85 91.35L183.74 95.04M203.56 94.4L185.42 99.34M271.63 52.89L275.52 48.64M207.91 62.32L197.29 56.02M275.53 110.01L288.17 120.51M282.48 98.02L297.13 103.49M228.39 44.89L220.93 25.94M284.33 75.56L302.37 72.04M205.44 67.2L199.49 64.66M214.51 113.09L200.73 127.1M210.17 58.91L195.02 47.76M216.89 115.26L204.5 129.98M207.19 103.42L199.98 107.36M236.7 42.58L233.41 23.07M264.77 47.81L275 30.55M272.84 112.94L287.45 127.65M284.94 87.14L299.96 88.46M237.74 42.42L234.81 21.87M263.42 47.04L270.25 34.46M206.43 65.04L194 58.87M244.47 42.01L244.72 30.27M253.24 43.14L254.98 35.87M227.93 121.93L223.89 131.84M217.79 116L211.17 124.34M283.31 71.46L301.84 65.84M209.89 59.3L198.23 50.93M245.68 124.95L246.21 135.37M284.71 77.86L303.48 75.28M276.21 57.83L291.58 45.74M284.22 75L295.68 72.6M202.23 86.78L183.36 88.27M264.23 119.51L270.9 131.15M252.21 124.1L255.01 137.33M214.33 54.08L208.41 48.14M251.63 42.78L255.66 22.31M258.56 122.21L262.26 131.79M213.14 111.68L198.66 125.08M239.95 124.84L238.92 136.54M259.9 121.67L267.53 139.54M283.18 71.01L297.37 66.53M207.2 103.44L196.97 109.04M243.71 42L243.76 24.6M283.36 71.61L291.96 69.04M268.08 117.01L280.16 133.56M278.3 106.27L293.96 116.54M237.35 124.53L234.28 144.73M202.1 82.95L181.35 82.68M268.32 50.17L276.9 38.6M206.9 102.88L191.27 111.14M280.84 101.81L287.51 105.08M262.33 120.53L271.72 139.09M284.93 87.22L302.6 88.82M219.31 49.85L212.36 40.23M283.66 72.66L302.5 67.57M279.8 63.21L286.29 59.58M218.14 50.73L209.68 39.84M284.26 75.18L303.61 71.22M255.7 43.8L260.44 28.24M284.19 92.15L303.74 96.31M285.03 81.09L303.21 80.03M203.13 74.29L183.27 69.77M217.71 115.93L208.99 126.84M275.07 56.44L290.73 42.97M284.76 88.83L299.76 90.77M240.05 124.85L238.82 139.17M225.05 46.38L217.49 31.26M202.84 75.71L192.03 73.65M279.83 63.25L290.44 57.33M225.56 120.87L221.1 130.1M203.55 94.36L185.29 99.31M226.67 45.61L221.35 33.69M203.72 72.01L184.37 66.43M205.66 66.67L188.44 59.03M202.15 85.57L183.82 86.49M262.41 120.49L269.08 133.63M232.21 123.41L226.49 143.43M204 71.1L188.55 66.26M285.02 80.97L295.37 80.34M202.1 83.82L194.93 83.87M204.38 97.06L190.38 101.91M284.48 90.67L304.89 94.25M248.61 42.3L251.09 21.93M202.87 91.46L188.29 94.31M248.87 42.34L251.37 22.89M230.94 123.02L226.67 136.34M227.72 45.16L221.83 30.93M285.07 82L296.97 81.56M221.91 48.12L211.01 30.35M204.22 70.42L184.4 63.83M280 63.56L297.8 53.8M217.69 51.08L209.44 40.77M235.33 42.83L233.53 34M280.21 103.04L286.1 106.17M220.64 118.07L211.09 132.45M268.48 50.29L280.39 34.39M211.14 109.35L197.11 120.52M214.35 112.94L209.97 117.36M202.2 80.61L189.55 79.73M282.16 98.84L297.18 104.82M212.9 111.43L200.09 123.08M210.38 108.37L200.63 115.67M202.87 75.57L182.54 71.61M239.53 42.2L238.87 35.56M274.48 55.77L282.21 48.83M211.52 57.17L199.81 47.57M249.35 124.6L250.28 131.31M225.15 46.33L219.44 34.83M204.36 69.98L186.61 63.86M284.78 78.37L300.35 76.43M279.42 104.45L295.66 113.95M284.64 89.69L292.52 90.88M281.88 67.48L297.91 60.77M221.47 48.39L211.49 32.56M279.26 104.72L297.16 115.37M277.13 59.05L293.7 46.96M263.93 47.32L273.6 30.11M283.24 95.79L290.94 98.18M204.74 68.92L188.69 62.9M269.92 115.58L279.31 127.02M202.18 80.92L192.62 80.32M232.14 123.39L227.77 138.58M275.67 109.84L283.72 116.45M247.46 42.18L248.59 30.15M254.55 123.53L258.77 138.97M256.5 44.06L259.71 34.23M246.27 42.09L247.09 29.31M285.1 83.73L291.33 83.77M215.21 113.77L200.94 128.98M206.43 65.03L194.63 59.17" stroke="#ff0000" stroke-width="0.32" stroke-opacity="0.85" fill="none" stroke-dasharray="0.25 0.5"/>
<path d="M208.25 105.24L195.01 113.39M252.72 123.98L256.77 141.95M202.14 81.59L188.72 80.98M263.06 46.84L267.22 39M260.12 45.43L264.7 34.86M284.38 75.82L294.27 73.96M202.24 86.94L183.46 88.5M259.62 121.78L263.1 130.1M219.71 49.56L209.05 34.42M204.44 69.75L184.93 62.9M284.85 78.93L301.83 77.05M241.14 124.93L240.79 130.92M281.12 65.76L293.84 59.74M221.92 48.11L216.82 39.78M284.38 75.79L302.71 72.32M202.15 81.45L195 81.1M283.8 93.82L297.84 97.43M211.77 56.87L201.46 48.24M247.96 124.77L249.19 136.41M202.52 77.64L183.16 74.89M284.61 89.87L304.42 92.94M277.63 107.26L284.3 111.91M215.25 53.19L210.77 48.4M210.72 108.82L197.11 119.29M250 42.5L251.18 34.91M272.15 113.62L277.93 119.72M204.71 98L186.2 104.9M247.5 124.82L248.88 139.34M267.89 49.85L272.45 43.55M242.06 124.97L241.36 143.91M284.87 79.16L291.72 78.44M241.82 124.96L241.51 132.13M227.62 45.2L221.06 29.49M284.9 87.59L303.89 89.47M262.94 120.22L267.8 129.45M220.45 49.06L211.51 35.76M229.6 44.43L222.61 24.93M272.91 54.12L285.17 41.84M284.8 78.5L301.05 76.52M276.6 58.34L284.23 52.52M246.16 124.92L246.63 132.6M202.15 81.51L185.15 80.7M207.59 62.88L199.95 58.5M285.1 83.1L292.4 83.03M274.13 55.4L281.58 48.54M249.51 42.42L252.23 23.53M244.21 125L244.5 144.66M284.62 89.76L293.75 91.16M218.25 50.64L212.41 43.06M267.26 117.6L276.1 130.34M222.48 119.23L216.18 129.89M202.1 82.98L187.9 82.8M270.32 115.26L274.52 120.26M219.34 49.83L213.78 42.11M213.84 112.43L201.94 124.01M203.81 71.71L187.97 67.02M205.41 99.74L196.84 103.39M246.37 124.91L247.6 143.4M278.14 106.51L292.56 116.12M224.07 120.12L217.29 132.84M209.87 107.68L196.56 117.21M242.03 124.97L241.8 131.06M262.28 46.44L267.81 35.47M264.35 47.56L272.94 32.7M270.34 115.24L280.88 127.75M219.58 117.34L209.76 131.17M221.14 118.39L212.06 132.49M210.85 108.99L201.15 116.54M202.28 87.34L187.72 88.7M235.34 124.17L233 135.72M234.23 43.07L231.48 31.22M243.38 42L243.34 33.16M249.19 42.38L250.7 31.23M285.06 85.25L301.6 85.95M203.23 93.14L192.41 95.72M269.65 115.8L274.59 121.93M230.69 122.94L225.6 138.48M268.14 116.97L280 133.15M247.29 42.16L248.69 26.57M216.9 51.73L203.89 36.25M233.6 123.78L231.24 133.32M236.6 124.41L234.81 134.91M254.28 43.4L256.89 33.62M224.53 46.64L220.41 38.7M203.24 93.18L193.99 95.4M228.1 122L221.89 137.42M234.18 43.08L231.2 30.3M211.35 109.62L206.36 113.67M276 109.44L285.67 117.19M202.4 78.48L184.03 76.25M210.18 108.1L198.66 116.58M220.68 48.9L211.96 35.73M258.86 122.09L266.03 140.24M239.03 124.75L237.22 141.03M262.01 46.31L269.6 30.98M205.92 100.89L189.84 108.31M208.14 61.94L200.4 57.23M273.51 54.74L283.02 45.6M284.34 75.57L295.84 73.33M208.93 106.31L201.98 110.88M273.08 54.29L283.97 43.51M285.1 82.95L298.53 82.77M203.24 73.85L195.92 72.1M203.19 92.94L194.22 95.03M207.06 63.83L194.18 56.89M226.97 121.52L221.48 134.09M208.72 61.02L195.25 52.33M285.09 84.5L302.24 84.91M204.66 69.15L190.74 64.03M202.13 81.95L192.47 81.59M245.73 42.05L246.35 29.98M270.35 115.23L282.07 129.12M202.92 75.27L184.87 71.62M244.14 42L244.4 22.26M239.61 124.81L238.73 133.83M246.25 124.92L246.65 131.31M208.75 60.96L193.32 50.98M258.41 44.73L263.46 31.52M237.28 124.52L234.93 139.8M274.36 111.36L289.25 124.85M208.71 61.03L201.73 56.54M220.93 118.26L213.8 129.19M279.94 103.54L296.55 112.7M241.2 124.93L240.49 137.16M274.1 111.65L282.79 119.66M283.08 70.71L294.69 66.95M231.64 43.76L227.34 29.46M252.52 42.97L255.14 31.06M205.48 67.08L198.61 64.13M203.82 71.67L196.6 69.53M210.86 109L205.15 113.45M211.55 57.14L201.84 49.15M217.44 51.29L208.71 40.54M229.21 44.57L221.99 25.02M214.41 54L200.01 39.44M220.23 117.79L209.16 134.03M202.99 74.95L190.94 72.42M233.37 123.72L231.69 130.33M234.6 124.01L231.91 136.11M226.23 121.19L217.57 139.98M270.67 114.96L281.61 127.66M259.79 121.71L266.84 138.35M209.11 60.42L200.46 54.64M202.11 84.22L182.04 84.57M202.41 88.6L191.75 89.92M246.9 124.87L247.98 138.35M250.53 42.58L252.83 28.99M285.04 85.74L298.06 86.45M249.56 42.43L251.62 28.22M241.82 42.04L240.96 21.89M283.93 73.73L303.07 69.09M249.66 42.44L251.42 30.5M206.91 64.11L199.1 59.99M222.41 47.82L213.63 33.05M273.62 112.15L280.96 119.17M253.48 43.19L257.91 25.13M273.74 112.02L281.13 119.01M282.04 67.85L289.59 64.78M221.4 118.56L213.37 131.24M248.27 124.74L249.6 136.46M282.47 98.05L288.47 100.29M241.45 124.94L240.9 135.57M254.2 123.62L257.04 134.39M255.78 43.83L258.93 33.56M209.79 107.56L199.97 114.54M241.74 42.04L241.08 27.46M277.02 108.11L289.58 117.36M206.07 65.79L190.38 58.39M256.24 43.97L260.51 30.6M237.81 42.41L235.22 24.03M281.68 100.01L294.02 105.36M234.9 124.08L231.24 141.12M203.47 94.06L189.03 97.85M241.46 42.06L240.56 24.63M233.94 43.14L232.47 36.98M276.49 108.8L281.27 112.48M222.24 47.92L215.35 36.44M246.95 42.14L247.92 30.22M280.82 65.14L290.24 60.49M276.19 57.8L291.06 46.07M240.54 42.11L240.1 36.12M280.31 64.14L289.69 59.18M210.01 107.87L195.28 118.56M267.08 117.72L275.84 130.48M218.74 116.73L210.76 127.41M212.58 111.07L197.27 124.68M256.02 43.9L259.12 34.01M259.37 45.11L265.68 29.77M202.68 90.43L192.46 92.17M284.12 74.54L301.75 70.64M255.12 123.37L259.76 139.41M273.94 55.19L289.06 41.08M203.85 71.57L192.65 68.21M211.84 56.79L206.12 51.99M274.19 55.46L286.12 44.53M206.98 63.98L197.49 58.92M265.69 48.37L270.41 40.86M248.54 42.3L250.67 24.58M210.14 108.04L203.02 113.26M202.28 87.41L183.64 89.17M265.38 118.82L271.98 129.53M253.66 43.24L258.48 23.96M259.75 45.27L265.92 30.66M230.76 44.04L228.22 36.24M225.13 46.33L220.63 37.27M216.29 52.25L204.7 38.99M202.12 82.1L184.11 81.5M243.87 125L244 144.7M234.05 43.11L230.43 27.82M235.98 124.29L233.78 136.07M210.11 108L196.51 117.96M264.29 47.53L268.74 39.79M265.07 119.01L275.06 135.53M241.09 124.92L240.45 135.62M277.73 107.11L283.22 110.9M245.43 124.96L246.21 142.74M238.56 42.31L236.25 23.4M206.19 65.54L199.73 62.44M277.15 107.92L285.71 114.15M203.39 93.77L184.02 98.72M249.38 124.6L251.58 140.18M213.02 55.45L202.88 46.15M232.39 123.46L228.66 136.79M261.68 46.15L267.05 35.06M265.65 48.34L269.23 42.64M205.23 99.3L190.1 105.54M223.23 47.34L215.66 33.9M246.85 124.87L247.46 132.65M216.59 115.01L203.83 129.9M223.92 120.04L215.47 135.74M202.1 83.22L187.52 83.13M247.63 124.8L248.54 134.1M260 121.62L265.41 134.2M220.18 49.24L215.52 42.42M231.24 43.88L225.36 25.04M277.4 59.43L283.14 55.34M246.93 42.13L248.45 23.27M283.68 94.27L301.48 99.05M215.74 114.26L206.32 124.67M204.75 98.08L191.83 102.93M262.93 46.77L267.68 37.74M257.11 122.74L260.78 133.42M256.43 122.97L260.31 134.88M255.75 43.82L260.55 28.17M272.61 53.83L281.54 44.7M226.4 45.73L218.21 27.72M281.76 67.19L301 58.97M239.86 124.83L239.07 133.59M208.76 106.04L201.71 110.6M284.78 78.35L301.5 76.27M226.85 45.53L220.86 31.96M278.88 61.64L289.04 55.34M252.29 124.08L256.51 143.75M232 123.35L228.37 135.8M238.7 42.29L236.59 24.61M267.08 117.72L277.4 132.76M279.76 103.87L295.31 112.63M271.25 52.56L279.14 43.73M241.43 42.06L240.5 24.39M230.53 122.89L224.36 141.51" stroke="#fff" stroke-width="0.3" stroke-opacity="0.6" fill="none"/>
<circle cx="243.6" cy="83.5" r="21.6" fill="none" stroke="#0808ff" stroke-width="19.4"/>
<path d="M232.36 85.38L231.26 85.57M237.39 73.94L235.91 71.67M244.91 94.82L245.05 96.01M246.35 72.44L246.67 71.14M232.25 82.42L230.61 82.27M247.59 94.18L248.07 95.44M232.96 79.4L225.73 76.62M248.81 73.36L249.57 71.89M254.57 86.62L256.47 87.16M232.41 81.33L229.48 80.76M232.79 87.11L230.99 87.71M252.52 76.41L261.19 69.51M234.14 77.14L233.06 76.41M254.62 80.59L259.15 79.4M234.97 90.94L226.95 97.85M248.49 93.8L249.38 95.66M255 83.21L257.16 83.15M237.41 73.92L236.27 72.15M254.18 87.75L255.84 88.42M250.53 92.55L251.03 93.19M246.62 72.51L247.33 69.94M254.91 82.08L255.59 82M253.86 88.46L255.32 89.17M240.89 94.57L238.46 104.54M254.35 79.71L265 75.95M232.42 81.27L228.94 80.58M237.35 73.97L236.35 72.44M253.03 77.1L260.69 71.9M242.35 94.83L242.02 97.74M251.92 75.71L252.44 75.23M237.59 73.81L235 69.63M234.09 89.79L231.67 91.39M232.21 82.94L226.94 82.68M246.46 72.46L247.1 69.98M241.06 72.39L240.8 71.23M246.13 94.62L246.53 96.38M242.73 72.13L242.54 69.63M232.47 85.96L222.95 88.07M243.81 94.9L243.85 97.21M233.01 79.27L232.07 78.9M251.85 91.37L253.12 92.58M232.67 86.75L224.54 89.16M254.36 79.75L256.64 78.95M251.47 91.75L252.01 92.31M251.98 91.23L254.51 93.56M253.05 77.13L259.97 72.46M249.31 73.63L250.27 71.96M232.4 85.64L222.25 87.58M248.61 73.26L249.85 70.75M238.51 73.3L236.53 69.36M239.34 94.07L238.8 95.41M252.26 76.08L252.69 75.71M252.78 90.26L253.55 90.83M240.32 72.58L239.83 70.93M233.35 78.52L232.03 77.88M254.17 87.76L255.26 88.2M254.42 87.08L255.09 87.3M238.1 73.51L237.15 71.78M249.06 93.51L249.82 94.9M253.32 77.55L254.21 77M239.68 94.21L239.38 95.02M238.32 73.39L237.15 71.15M242.41 94.84L241.83 100.46M250.8 92.34L251.87 93.65M232.33 85.24L224.59 86.44M234.5 76.63L234.08 76.32M254.47 80.05L265.46 76.56M232.21 83.88L222.91 84.19M242.65 94.86L242.51 96.54M251.8 75.58L255.15 72.35M248.61 73.26L249.96 70.5M233.3 88.39L232.32 88.86M234.83 76.22L227.94 70.5M250.38 74.34L250.99 73.51M242.44 72.16L242.31 70.97M232.34 81.7L230.89 81.46M246.51 72.48L246.87 71.1M251.87 75.66L253.79 73.84M233.07 87.87L230.74 88.84M240.93 72.42L240.54 70.82M254.95 84.58L255.87 84.67M235.61 91.63L234.34 92.92M235.48 91.5L230.47 96.42M248.84 93.62L250.17 96.19M232.91 79.53L232.43 79.36M254.62 86.43L260.32 87.95M248.01 94.01L248.88 96.1M239.04 73.05L238.82 72.55M244.82 94.83L245.58 101.91M254.88 85.14L260.21 85.92M233.42 88.62L226.98 91.87M235.56 75.41L229.97 69.79M246.6 72.5L248.13 66.88M253.56 89.04L258.07 91.55M233.89 77.53L231.49 76.05M253.86 78.52L256.06 77.45M232.85 79.71L226.48 77.47M241.86 94.77L241.22 98.9M243.93 72.1L244.24 61.07M241.04 94.61L238.48 105.73M238.3 73.4L237.6 72.06M245.36 72.24L245.73 69.84M254.99 83.96L255.63 83.98M249.28 73.61L249.66 72.94M243.91 72.1L243.93 71.53M239.27 72.95L238.58 71.26M254.41 87.11L255.36 87.42M251.67 91.55L253.78 93.66M232.29 84.94L230.43 85.17M254.9 85.04L262.74 86.12M253.58 77.98L254.95 77.22M235.15 91.15L233.48 92.66M254.97 82.73L256.6 82.62M241.52 72.29L241.28 71M232.2 83.79L224.6 83.98M238.17 93.52L233.74 101.71M234.25 90.02L232.91 90.95M246.43 72.46L247.43 68.55M244.14 72.11L244.22 70.45M248.72 93.68L250.03 96.28M237.86 93.35L237.08 94.7M253.96 88.26L254.88 88.68M241.02 94.6L240.78 95.63M252.12 91.07L252.61 91.5M232.47 81.03L231.32 80.78M232.25 84.53L231.55 84.59M239.68 72.79L239.24 71.57M253 89.95L255.09 91.38M232.73 86.94L232.06 87.16M233.92 77.47L231.45 75.94M232.4 85.64L229.97 86.1M232.44 81.15L222.34 79.02M250.5 74.43L254.67 68.96M241.77 72.25L241.55 70.87M237.01 74.2L235.83 72.53M242.8 94.87L242.73 95.86M242.68 94.86L242.51 96.93M232.23 82.74L229.64 82.57M236.39 92.33L235.9 92.93M254.57 80.4L255.81 80.05M234.67 76.41L234.26 76.09M233.38 78.45L231.77 77.65M254.58 80.44L255.63 80.15M245.51 72.26L246.91 64.07M254.97 84.27L256.16 84.35M236.16 74.86L231.79 69.77M247.48 94.22L248.3 96.47M250.86 74.71L251.5 73.95M232.23 82.67L230.66 82.55M249.41 93.31L251 95.99M232.82 79.79L231.82 79.45M236.76 74.38L236.18 73.6M233.15 88.05L232.4 88.37M238.44 73.33L237.22 70.93M233.19 88.15L231.5 88.91M232.27 82.26L231.47 82.17M232.29 82.06L230.54 81.84M233.92 77.48L233.46 77.2M243.14 72.11L243.12 71.6M242.34 72.17L241.84 67.7M233.51 88.8L231.32 89.95M254.55 80.32L256.33 79.8M254.95 82.41L260.94 81.84M254.94 82.32L257.83 82.02M253.53 89.1L254.02 89.37M252.78 90.26L255.01 91.9M241.68 72.26L240.39 64.68M242.51 72.15L242.06 67.37M252.39 90.76L257.45 94.94M253.69 88.8L258.29 91.21" stroke="#fff" stroke-width="0.4" stroke-opacity="0.8" fill="none"/>
<path d="M252.68 90.39L262.05 97.5M246.03 94.64L248.77 107.2M235.08 75.93L225.16 67.12M238.71 73.2L232.79 60.71M254.43 87.06L268.55 91.7M249.86 73.97L259.21 59.76M243.33 72.1L243.04 59.44M246.58 94.5L249.24 104.33M242.72 72.13L241.79 60.23M232.22 84.12L222.2 84.66M242.34 94.83L240.32 112.93M232.2 83.2L216.58 82.78M253.91 78.63L265.57 73.13M232.45 85.86L214.97 89.56M234.35 90.16L225.33 96.66M254.45 86.99L267.3 91.11M252.18 91.01L263.27 100.72M254.63 80.63L270.37 76.54M254.74 81.09L270.3 77.73M243.3 72.1L243.03 61.5M247.79 94.1L254.53 111.17M253.67 88.85L264.68 94.69M238.05 73.54L229.69 58.55M248.94 93.57L255.72 106.34M235.95 91.95L227.32 101.48M251.64 75.42L262.62 64.38M233.96 89.59L221.9 97.22M248.16 93.95L253.25 105.64M252.85 90.17L263.3 97.71M235.81 91.83L224.88 103.52M244.78 72.16L246.61 54.61M253.98 78.78L263.36 74.51M236.97 92.78L229.24 103.61M233.18 88.12L221.54 93.29M241.5 94.7L238.12 112.72M247.3 94.28L252.19 108.51M252.64 76.56L267.21 65.38M255 83.56L272.98 83.65M234.89 90.85L223.62 100.37M250.91 74.76L261.63 61.94" stroke="#fff" stroke-width="0.25" stroke-opacity="0.55" fill="none"/>
<path d="M243.89 72.6L245.25 20.32M247.33 73.26L265.22 24.11" stroke="#fff" stroke-width="0.75" fill="none"/>
<path d="M254.15 80.77L273.9 75.66M254.49 83.98L274.87 84.87M254.3 85.58L274.32 89.47M246.42 94.03L251.7 113.73M243.79 94.4L244.15 114.8M241.24 94.14L236.83 114.06M233 86.04L213.16 90.81" stroke="#fff" stroke-width="1.0" fill="none"/>
<path d="M283.15 72.68L304.56 66.82L305 68.53L283.43 73.79zM284.58 84.72L306.77 85.37L306.7 87.14L284.53 85.86zM283.95 90.76L305.8 94.69L305.46 96.42L283.73 91.88zM254.76 122.95L260.81 144.31L259.1 144.77L253.66 123.25zM244.89 124.48L245.59 146.67L243.82 146.7L243.74 124.5zM235.29 123.65L230.78 145.39L229.06 145L234.17 123.4zM203.94 93.9L182.47 99.54L181.85 96.96L203.54 92.23z" fill="#fff"/>
<path d="M245.12 72.71L252.4 20.92M249.21 74.16L276.15 29.33M252.74 77.56L296.6 49.08M253.13 88.78L298.88 114.14M252.42 89.91L294.73 120.65M249.54 92.64L278.02 136.5M237.66 92.64L209.18 136.5M235.63 90.93L197.38 126.6M233.8 88.28L186.8 111.21M232.87 81.61L181.36 72.53M234.11 78.13L188.59 52.38M236.59 75.15L202.98 35.09M240.78 72.97L227.24 22.45" stroke="#fff" stroke-width="0.45" stroke-opacity="0.7" fill="none"/>
<circle cx="243.6" cy="83.5" r="36.5" fill="none" stroke="#fff" stroke-width="11.2"/>
<circle cx="243.6" cy="83.5" r="41.0" fill="none" stroke="#747474" stroke-width="2.3"/>
<circle cx="243.6" cy="83.5" r="37.3" fill="none" stroke="#e4e4e4" stroke-width="0.5"/>
<circle cx="243.6" cy="83.5" r="38.3" fill="none" stroke="#d0d0d0" stroke-width="1.2" stroke-dasharray="0.25 2.1"/>
<circle cx="243.6" cy="83.5" r="33.45" fill="none" stroke="#f7ecdf" stroke-width="1.9"/>
<circle cx="243.6" cy="83.5" r="31.1" fill="none" stroke="#767676" stroke-width="2.0"/>
<path d="M232.16 52.07A33.45 33.45 0 0 1 245.93 50.13" fill="none" stroke="#8fe8d4" stroke-width="1.9"/>
<path d="M246.52 50.18A33.45 33.45 0 0 1 258.26 53.44" fill="none" stroke="#48e2f0" stroke-width="1.9"/>
<path d="M277 85.25A33.45 33.45 0 0 1 276.8 87.58" fill="none" stroke="#3c3cb0" stroke-width="1.9"/>
<path d="M276.72 88.16A33.45 33.45 0 0 1 276.19 91.02" fill="none" stroke="#40e8f0" stroke-width="1.9"/>
<path d="M276.06 91.59A33.45 33.45 0 0 1 275.41 93.84" fill="none" stroke="#c04060" stroke-width="1.9"/>
<path d="M271.97 101.23A33.45 33.45 0 0 1 269.96 104.09" fill="none" stroke="#a8c4f4" stroke-width="1.9"/>
<path d="M268.85 105.45A33.45 33.45 0 0 1 265.98 108.36" fill="none" stroke="#f4c4a0" stroke-width="1.9"/>
<path d="M264.65 109.5A33.45 33.45 0 0 1 260.32 112.47" fill="none" stroke="#dca474" stroke-width="1.9"/>
<path d="M255.04 114.93A33.45 33.45 0 0 1 249.41 116.44" fill="none" stroke="#98ee48" stroke-width="1.9"/>
<path d="M247.68 116.7A33.45 33.45 0 0 1 241.85 116.9" fill="none" stroke="#78b4b4" stroke-width="1.9"/>
<path d="M240.68 116.82A33.45 33.45 0 0 1 233.82 115.49" fill="none" stroke="#f0ccaa" stroke-width="1.9"/>
<path d="M232.16 114.93A33.45 33.45 0 0 1 225.87 111.87" fill="none" stroke="#b85858" stroke-width="1.9"/>
<path d="M222.1 109.12A33.45 33.45 0 0 1 217.24 104.09" fill="none" stroke="#a458e0" stroke-width="1.9"/>
<path d="M215.87 102.21A33.45 33.45 0 0 1 213.04 97.11" fill="none" stroke="#5858f0" stroke-width="1.9"/>
<path d="M210.37 87.29A33.45 33.45 0 0 1 210.71 77.4" fill="none" stroke="#6c6c6c" stroke-width="2.7"/>
<path d="M282.04 73.56L284.55 72.91M283.26 85.23L285.86 85.35M282.57 91.08L285.12 91.57M253.88 121.85L254.55 124.36M244.29 123.19L244.34 125.79M235.01 122.26L234.44 124.8M205 92.77L202.47 93.37M244.64 43.81L244.71 41.21M257.18 46.19L258.07 43.75M249.13 44.19L249.49 41.61M264.05 49.47L265.39 47.24M276.9 61.88L279.08 60.46M278.32 102.75L280.6 104.01M275.72 106.84L277.82 108.36M265.22 116.8L266.64 118.98M221.98 116.8L220.56 118.98M214.57 110.58L212.66 112.35M207.92 100.9L205.58 102.04M204.5 76.61L201.94 76.15M209.05 63.95L206.78 62.67M218.08 53.09L216.41 51.1M233.32 45.15L232.65 42.64" stroke="#fff" stroke-width="0.4" stroke-opacity="0.8" fill="none"/>
<radialGradient id="g3" gradientUnits="userSpaceOnUse" cx="81.6" cy="229.5" r="62"><stop offset="0.65" stop-color="#ff0000" stop-opacity="0.97"/><stop offset="0.9" stop-color="#ff0000" stop-opacity="0.95"/><stop offset="0.96" stop-color="#ff0000" stop-opacity="0.85"/><stop offset="0.99" stop-color="#ff0000" stop-opacity="0.4"/><stop offset="1" stop-color="#ff0000" stop-opacity="0"/></radialGradient>
<circle cx="81.6" cy="229.5" r="51" fill="none" stroke="url(#g3)" stroke-width="22"/>
<path d="M143.5 233.01L128.26 232.14M31.29 193.27L32.85 194.39M131.1 192.17L127.96 194.54M126.85 187.12L125.5 188.39M141.18 246.67L136.99 245.46M42.56 277.67L43.89 276.03M131 192.03L117.33 202.39M23.4 208.12L38.58 213.69M62.19 170.62L64.96 179.02M31.43 193.08L34.68 195.44M57.29 286.53L58.25 284.27M108.06 285.57L107.43 284.24M25.44 203.23L43.36 211.61M23.82 251.99L27.54 250.54M128.07 188.46L119.34 196.17M137.13 201.92L134.36 203.3M143.59 230.79L140.17 230.72M119.37 278.67L117.56 276.32M143.34 223.84L141.57 224M127.73 270.92L125.05 268.51M63.8 170.11L64.92 173.82M56.26 172.92L56.9 174.35M23.41 208.1L37.1 213.13M133.9 196.2L130.12 198.6M40.95 182.69L46.22 188.76M32.29 191.92L35.37 194.26M128.62 189.09L117.96 198.25M20.51 240.08L23.93 239.49M51.43 283.67L52.62 281.54M20.21 238.16L22.37 237.86M134.86 197.77L129.12 201.19M142.87 220.02L139.34 220.56M60.18 287.68L60.58 286.6M104.57 287.09L104.06 285.81M82.76 167.51L82.63 174.33M140.38 249.22L137.17 248.14M110.59 174.69L109.43 176.87M28.14 198.11L30.15 199.29M82.94 291.49L82.66 278.74M91.6 290.69L90.07 281.36M93.88 168.73L92.96 173.28M19.77 234.03L23.49 233.75M31.24 193.34L33.96 195.29M130.45 267.67L128.76 266.35M141.01 211.77L139.91 212.1M118.78 279.11L116.37 275.89M45.22 279.7L47.62 276.39M139.31 206.83L136.31 208.01M135.38 260.34L133.01 258.98M128.62 189.08L123.55 193.44M26.1 201.87L28.08 202.86M121.62 276.86L120.64 275.7M129.12 269.33L125.66 266.43M77.65 167.63L77.85 170.76M126.62 186.88L119.48 193.64M42.96 181.02L43.89 182.19M83.52 167.53L83.38 172M131.7 192.98L129.69 194.44M132.88 264.34L126.1 259.73M20.82 241.74L39.48 237.98M73.87 291.02L75.32 279.5M54.05 285.04L61.87 269.28M44.4 179.9L45.33 181.14M68.51 290.1L71.26 277.39M140.62 248.48L131.61 245.58M113.79 176.51L113.21 177.47M20.25 238.45L24.07 237.9M35.44 188.11L48.2 199.55M109.97 284.63L101.97 269.07M21.01 242.64L24.96 241.78M120.94 181.58L117.78 185.44M92.75 290.49L92 286.42M100.69 288.49L100.35 287.42M143.5 233.01L138.76 232.74M143.59 228.45L125.79 228.75M112.78 283.09L104.52 268.89M87.8 291.19L87.52 288.36M45.81 178.88L46.83 180.33M125.28 273.5L124.04 272.25M54.17 285.1L56.07 281.26M137.48 202.65L134.46 204.1M139.63 251.33L127.97 246.95M73.29 290.94L74.39 282.8M19.63 231.31L31.05 230.98M65.93 169.51L67.05 173.82M130.21 191.01L124.48 195.55M102.08 170.98L100.53 175.42M143.53 232.39L140.1 232.23M143.55 227.03L142.51 227.08M100.99 288.39L97.83 278.8M142.53 218.05L138.8 218.75M108.99 285.12L101.87 270.67M118.17 179.43L106.97 194.76M25.01 204.17L38.9 210.39M20.64 240.8L34.27 238.27M143.54 232.3L139.64 232.13M46.26 280.44L48.29 277.51M42.06 277.26L44.68 274.1M38.13 185.29L41.11 188.33M81.89 291.5L81.87 288.84M56.27 172.91L58.23 177.3M134.31 262.15L118.42 252.3M24.91 254.61L26.11 254.08M90 290.93L89.42 286.71M21.04 216.22L32.48 218.73M114.65 281.95L112.52 278.57M111.44 175.15L110.68 176.54M136.91 257.51L132.56 255.31M141.43 213.23L132.34 215.7M141.01 211.77L134.94 213.58M121.98 182.45L121.15 183.41M122.12 276.43L121.05 275.19M87.7 167.8L87.13 173.51M143.18 222.28L138.68 222.81M29.37 262.9L42.43 254.55M22.3 211.4L29.31 213.54M102.25 171.04L97.99 183.09M73.45 290.96L74.45 283.41M21.94 246.39L24.53 245.66M143.57 227.43L140.25 227.55M60.97 287.97L64.03 279.29M21.04 242.79L24.56 242.01M134.09 196.5L117.6 206.87M143.58 231.21L135.28 230.98M139.88 250.65L137.28 249.7M119.4 180.35L111.09 191.16M111.43 283.85L107.34 276.4M135.61 259.94L134.73 259.45M41.15 182.51L42.07 183.58M22.38 211.14L33.57 214.61M110.99 284.09L110.52 283.21M73.64 290.99L73.85 289.4M46.96 178.08L48.33 180.11M19.6 228.89L26.21 228.96M19.68 232.57L23.19 232.4M59.99 171.39L64.86 184.5M20.08 221.78L23.26 222.18M25.08 204.01L34.79 208.39M89.52 168.01L88.23 178.03M108.34 285.44L106.95 282.53M117.74 279.88L109.63 268.57M59.37 287.38L63.53 276.54M67.54 289.89L71.13 274.46M19.65 231.97L33.01 231.44M60.54 287.81L61.2 285.96M106.4 286.32L104.56 282.11M98.01 169.71L96.96 173.53M97.41 289.45L95.52 282.3M20.14 221.31L23.39 221.74M103.32 171.43L101.84 175.37M19.87 235.27L22.55 235.02M96.64 169.35L93.81 180.7M20.42 239.56L31.31 237.77M37.65 185.77L41.07 189.18M113.51 176.34L106.41 188.18M101.59 288.19L97.5 276.18M78.32 291.41L78.54 287.23M34.03 269.26L35.14 268.33M111.45 283.84L102.75 268.01M94.95 290.04L94.02 285.83M140.82 211.14L128.89 214.84M67.57 169.11L68.51 173.17M20.68 241.02L23.88 240.41M141.16 246.73L122.5 241.33M28.01 260.69L30.97 258.97M143.6 228.95L142.13 228.96M20.65 240.89L23.71 240.31M137.62 202.94L136.51 203.46M92.24 168.42L89.53 183.98M41.56 182.16L54.43 197.38M130.03 190.8L118.67 199.87M136.91 201.48L135.16 202.37M72.54 290.83L74.83 275.34M54.55 285.29L56.24 281.79M76.77 291.31L77.05 287.85M143.58 227.8L140.77 227.88M19.6 229.01L22.37 229.03M143.33 223.71L126.17 225.32M143.36 235L131.44 233.94M142.32 216.98L139.24 217.62M23.5 207.84L28.2 209.59M20.81 217.33L23.44 217.86M143.5 226.04L139.74 226.25M143.06 237.7L138.58 237.1M103.66 287.44L102.04 283.18M120.95 181.59L118.75 184.28M28.38 261.3L34.94 257.38M55.4 285.69L60.48 274.81M21.13 243.17L24.9 242.32M65.42 169.65L66.45 173.46M132.91 264.31L119.29 255.07M33.29 190.64L44.14 199.37M62.61 170.48L63.62 173.62M109.51 174.14L107.82 177.48M142.09 243.1L131.1 240.63M140.25 209.39L137.12 210.47M122.83 275.81L121.35 274.15M71.74 168.29L72.34 171.97M109.24 285L107.7 281.91M141.66 214.13L138.3 214.99M26.25 257.43L30.52 255.28M89.65 168.03L89.35 170.32M22.33 211.32L37.76 216.05M108.08 285.56L105.09 279.23M66.51 169.36L66.91 170.93M19.6 229.14L34.7 229.23M143.6 228.93L130.87 229.05M141.28 212.69L136.51 214.03M102.9 171.27L102.07 173.55M43.08 180.92L54.03 194.73M36.16 271.68L39.05 268.99M139.31 206.85L121.11 213.99M106.56 172.75L103.09 180.64M119.43 180.38L112.33 189.6M141.18 246.64L139.97 246.29M110.17 284.52L101.89 268.58M124.76 184.99L120.18 189.71M141.29 212.75L139.68 213.2M115.17 177.37L109.22 186.61M139.2 206.57L137.81 207.12" stroke="#fff" stroke-width="0.3" stroke-opacity="0.6" stroke-dasharray="0.7 0.4" fill="none"/>
<path d="M25.29 255.44L43.5 247.05M94.32 290.18L91.6 277.19M118.47 279.34L110.99 269.23M113.66 282.57L108.37 273.81M141.01 247.25L125.07 242.49M89.53 290.99L88.4 282.21M130.65 191.58L116.01 202.9M131.04 266.92L116.38 255.83M39.99 275.46L50.6 263.73M130.43 267.7L118.42 258.31M113.2 282.84L105.83 270.41M60.52 171.19L63.7 179.98M141.99 215.45L123.2 219.82M54.19 173.89L62.22 190.18M33.95 189.84L41.09 195.79M20.81 241.71L30.18 239.83M30.97 193.71L41.55 201.19M85.81 291.36L84.83 276.89M141.22 212.5L126.72 216.63M34.4 189.3L44.76 198.12M104.83 286.98L100.11 275.32M139.33 206.88L128.57 211.1M28.81 196.99L45.89 207.51M125.54 273.24L117.32 265.06M134.53 261.78L118.49 251.99M143.41 234.33L133.16 233.53M138.45 254.24L130.12 250.61M131.06 192.11L122.36 198.68M31.14 265.53L47.1 254.13M143.5 232.93L131.86 232.29M49.4 282.48L53.74 275.33M114.51 176.96L106.46 189.81M95.23 289.98L92.51 277.89M113.06 282.93L108.88 275.82M143.48 233.31L133.29 232.68M143.44 225.12L134.59 225.74M24.82 204.6L32.33 207.89M113.34 282.76L108.15 274.04M140.97 211.62L124.21 216.66M66.6 169.34L71.46 188.81M135.72 259.75L122.82 252.55M107.39 285.88L103.65 277.7M110.47 284.37L103.18 270.53M118.42 279.38L107.85 265.05M102.13 288L98.26 276.99M43.71 180.43L52.95 192.4M143.57 231.54L124.27 230.9M89.46 291L87.49 275.59M93.84 290.28L90.14 271.91M20.01 236.63L33.45 235.07M128.03 270.59L114.81 258.89M28.71 197.15L41.96 205.25M37.17 186.26L47.63 196.44M113.16 282.87L107.07 272.57M143.15 236.95L133.31 235.76M52.8 174.59L59.72 187.8M112.65 175.83L107.33 185.02M110.06 284.58L101.76 268.52M32.86 191.18L46.61 201.99M141.38 245.95L128.52 242.41M61.49 170.85L65.66 183M31.55 266.09L38.51 261M89.42 291L87.61 276.79M48.2 177.27L58.98 194.12M19.61 228.57L31.75 228.75M37.02 186.41L51 199.92M110.18 174.48L104.04 186.29M62.02 288.33L65.75 277.12M143.49 225.88L125.71 226.92M141.6 213.88L127.16 217.64M89.35 167.99L87.63 181.65M67.83 169.05L69.62 176.89M120.4 181.14L108.35 196.16M49.85 176.24L57.19 188.55M141.14 246.8L129.88 243.53M19.93 235.88L35.1 234.31M102.07 288.02L96.58 272.32M117.8 179.16L110.29 189.61M38.68 184.75L52.11 198.76M87.13 291.25L85.54 273.55M40.47 183.11L50.1 193.97M130.08 190.85L122.8 196.65M27.05 258.97L37.84 253.14M71.34 290.64L72.75 282.23M61.55 170.83L65.26 181.69M35.29 270.72L47.08 260.23M130.37 267.79L122.02 261.23M58.09 286.87L62.67 275.69M110.38 174.59L105.65 183.62M96.7 169.37L92.02 188.01M140.88 211.34L122.24 217.05M39.51 275.02L53.06 260.37M93.37 290.37L91.25 279.39M112.94 176.01L104.97 189.61M23.24 250.43L38.76 244.87M48.33 177.18L53.28 184.97M32.53 267.39L45.82 257.13M59.28 171.66L63.29 182.04M55.6 173.21L59.09 180.77M48.7 282.05L55.12 271.8M74.3 291.07L75.49 280.96M122.7 275.92L114.51 266.66M95.69 289.88L92.72 277.15M142.37 217.23L132.47 219.23M94.15 290.22L90.02 270.25M31.07 193.57L39.12 199.29M35.32 270.76L42.66 264.22M136.77 257.79L118.58 248.46M134.17 262.38L126.3 257.45M58.25 286.94L64.03 272.73M77.44 291.36L78.77 271.56M76.66 291.3L77.66 278.79M141.5 213.51L126.75 217.45M19.64 231.79L33.93 231.26M120.93 277.43L113.86 268.81M30.37 194.58L47.22 206.07M49.98 282.83L58.59 268.31M136.9 257.53L128.01 253.03M103.24 171.4L97.75 186.12M50.78 175.71L59.04 190.13M26.72 258.35L43.31 249.63M114.1 282.3L107.1 270.92M143.47 233.56L125.12 232.35M23.92 252.24L37.46 246.9M20.63 218.24L39.72 221.76M99.23 170.06L96.17 180.36M94.12 290.22L90.7 273.64M143.52 226.3L130 227M28.53 261.55L38.52 255.52M27.37 259.55L35.03 255.31M114.01 282.35L105.66 268.73M34.73 188.92L45.61 198.33M28.26 261.11L42.28 252.8M31.97 266.66L42.89 258.49M138.2 254.8L129.44 250.88M41.2 182.47L52.73 195.89M31.16 265.55L45.32 255.42M138.59 253.92L129.2 249.9M69.11 290.23L71.9 276.67M31.73 266.34L46.94 255.1M120.41 277.85L112.48 267.97M22.09 246.88L40.36 241.55M56.57 286.22L62.8 272.11M42.6 181.3L54.87 196.46M98.86 169.95L93.25 189.33M116.45 178.22L108.08 190.54M81.62 291.5L81.61 271.26M143.27 223.11L134.76 223.99M65.72 169.57L69.23 182.82M97.67 289.38L94.21 276.5M142.7 240.04L134.45 238.62M60.07 287.64L63.78 277.61M81.82 291.5L81.75 271.05M75.15 167.84L76.38 179.63M135.09 260.86L126.87 256.04M42.86 277.91L49.26 269.91M125.8 186.03L111.94 199.66M59.26 287.34L66.15 269.5M142.09 215.88L132.13 218.12M52.47 284.23L60.29 269.54M137.41 202.5L124.56 208.71M58.08 286.87L63.48 273.69M138.62 253.85L126.13 248.52M121.2 181.79L115.3 188.89M104.06 171.71L97.38 188.88M143.6 229.28L127.17 229.34M122.6 182.99L110 197.28M92.64 168.49L89.42 186.27M69.42 290.29L73.22 271.32M42.05 181.76L47.25 188.04M101.03 170.62L97.55 181.18M98.56 169.86L93.41 187.96M130.36 191.21L117.42 201.37M60.74 171.11L66.38 186.91M79.79 167.53L80.26 183.62M121.53 276.93L108.54 261.5M142.25 216.65L127.65 219.75M113.21 282.84L105.66 270.09M140.81 247.88L121.71 241.95M78.17 167.59L79.1 184.3M82.75 291.49L82.38 271.61M61.49 170.85L64.28 178.99M40.61 182.98L46.8 190M115.91 177.86L109.73 187.15M126.57 272.18L116.38 262.51M63.96 170.06L66.76 179.52M32.23 267L43.61 258.36M125.72 185.94L111.17 200.31M50.25 176.01L56.48 186.64M36.5 186.96L46.41 196.32M26.64 258.19L44.01 249.12M34.04 269.28L43.64 261.25M101.68 170.84L97.2 183.93M52.22 284.1L57.63 274.05M52.92 284.47L56.71 277.2M143.59 230.59L129.57 230.34M88.58 291.11L86.68 274.39M143.19 222.36L131.76 223.69M19.97 236.23L31.44 234.98M131.83 193.16L119.05 202.4M131.75 265.95L119.32 256.92M69.67 168.66L73.55 188.42M21.67 213.63L41.16 218.79M21.85 212.95L33.89 216.29M56.25 172.92L60.16 181.66M141.56 213.73L127.71 217.37M125 185.22L114.12 196.32M64.14 288.99L67.13 278.81M19.65 232.07L28.69 231.69M86.1 291.34L85.27 279.94M57.98 172.18L61.71 181.24M123.91 274.82L112.36 262.46M140.17 249.83L122.84 243.81M122.06 182.52L116.22 189.3M86.64 167.71L85.42 182.61M89.56 290.99L87.67 276.41M92.39 290.55L89.09 271.87M142.22 216.48L132.6 218.54M143.6 228.79L125.18 229M24.15 206.18L32.87 209.72M81.98 167.5L81.86 187.86M69.45 168.7L71.69 179.93M69.25 290.26L70.96 281.84M78.02 291.4L78.61 281.26M25.09 255.01L34.15 250.92M57.09 286.45L61.88 275.33M88.6 291.1L86.36 271.35M72.54 290.83L75.49 270.87M20.66 240.92L31.31 238.92M143.59 230.63L125.38 230.3M20.47 219.14L30.13 220.78M23.92 206.76L34.83 211.06M56.21 286.06L64.05 268.59M51.13 175.5L56.14 184.37M130.02 190.78L121.17 197.86M43.41 278.34L55.77 262.54M30.71 264.91L45.1 254.89M25.85 202.36L38.39 208.46M125.18 273.6L112.55 260.81M38.94 274.49L52.05 260.66M80.49 167.51L80.74 181.33M133 264.16L125.04 258.79M50.17 282.94L56.22 272.65M138.47 254.2L125.32 248.49M20.16 237.84L36.53 235.62M96.99 289.56L92.98 273.93M36.99 272.56L50.96 259.07M24.99 254.78L41.98 247.19M143.5 225.95L124.89 227.02M83.95 167.54L83.26 185.71M87.25 167.76L85.83 183.31M142.89 238.86L132.97 237.35M19.66 232.27L29.37 231.84M25.44 255.77L33.62 251.94M141.46 213.36L128.96 216.73M54.97 285.49L61.94 270.83M129.42 268.96L114.9 256.98M92.59 168.48L90.75 178.73M120.16 278.05L110.42 265.8M30.47 264.56L46.21 253.77" stroke="#fff" stroke-width="0.28" stroke-opacity="0.55" fill="none"/>
<path d="M131.74 265.96L118.21 256.12M23.9 252.2L34.77 247.92M127.36 271.33L116.55 261.45M45.17 279.67L54.31 267.08M129 189.54L119.72 197.36M136.26 258.75L126.64 253.6M20.14 221.3L39.38 223.86M19.92 235.81L32.17 234.56M49.1 282.3L54.52 273.49M141.77 214.53L129.47 217.59M45.81 280.12L55.11 266.97M65.63 289.41L68.64 278.12M80.71 291.49L80.96 273.65M37.21 186.21L47.15 195.9M101.14 288.34L95.1 270.17M98.99 169.99L94.41 185.67M118.74 179.86L107.69 194.63M26.24 257.42L35.84 252.58M98.36 169.81L92.99 188.95M139.69 251.16L124.6 245.53M51.61 283.76L58.39 271.5M117.86 179.21L107.57 193.49M135.01 260.98L122.53 253.63M22.78 209.91L41.61 216.18M142 243.49L128.85 240.44M20.38 219.69L34.92 222.02M42.97 181.01L51.64 191.89M102.28 171.05L97.95 183.3M44.69 179.69L54.26 192.6M71.73 168.29L74.7 186.68M25.4 255.68L36.17 250.66M112.98 282.97L107.81 274.16M135.07 260.88L124.47 254.66M57.85 172.23L62.31 182.98M132.79 264.48L124.33 258.7M132.54 194.16L118.32 204.02M116.92 280.46L108.2 267.88M25.56 202.97L41.2 210.37M141.86 214.92L124.52 219.11M24.86 254.48L39.66 247.96M81.09 291.5L81.25 271.89M45.23 279.71L51.47 271.1M29.13 196.47L43.46 205.49M143.26 236L125.24 234.1M55.72 173.16L63.11 189.24M90.57 290.85L87.87 272.36M111.8 175.35L106.66 184.57M116.6 280.68L107.88 267.93M33.16 268.19L46.37 257.64M74.57 291.1L76.15 277.27M19.94 235.97L35.71 234.32M141.43 213.26L125.94 217.46M97.64 289.39L92.9 271.68M22.36 247.78L41.8 241.78M19.85 223.99L35.16 225.36M27.23 259.3L38.7 253.01M61.12 288.02L67.86 268.76M124.17 184.43L114.24 194.94M107.71 285.73L100.34 269.86M139.22 206.62L123.26 212.96M121.82 182.31L108.77 197.62M111.73 175.31L103.58 189.97M19.6 229.97L35.41 229.85M143.15 236.96L129.45 235.3M42.93 181.03L52.17 192.61M57.97 286.82L65.6 268.3M87.76 291.19L85.91 272.74M45.32 279.78L56.27 264.61M38.15 273.72L46.14 265.58M142.95 220.54L130.18 222.41M142.58 218.3L126.64 221.23M112.12 283.47L105.31 271.42M89.43 168L86.86 188.19M87.27 291.24L86.16 279.1M28.71 261.84L38.05 256.13M130.8 191.78L115.01 203.89M27.83 260.37L39.77 253.51M127.66 188L114.57 199.79M143.51 226.1L130.09 226.84M142.48 241.23L126.17 238.08M143.55 226.94L132.98 227.38M31.1 193.53L43.77 202.56M125.8 186.03L118.2 193.5M48.92 176.81L57.01 189.86M62.6 288.52L68.56 270M90.79 168.19L89.14 179.18M141.36 212.97L124.64 217.59M122.13 182.58L111.73 194.62M21.89 212.81L35.58 216.64M28.05 260.75L37.07 255.48M88.45 291.12L86.91 277.28M26.35 257.64L38.94 251.23M29.01 262.35L45.5 252.05M56 173.03L63.65 189.91M21.93 246.35L41.28 240.89M108.01 285.59L103.66 276.35M23.23 208.61L36.2 213.25M134.94 261.1L117.77 250.93M117.94 279.74L111.26 270.5M46.89 178.13L52.51 186.44M101.49 170.78L95.93 187.21M136.41 200.52L120.88 208.74M82.87 167.51L82.6 180.57M119.39 278.65L109.28 265.51M19.64 231.76L36.74 231.13M139.82 208.19L122.01 214.71M102.11 170.99L97.28 184.78M100.92 170.59L95.29 187.76M92.45 290.54L89.9 276.15M57.22 172.5L62.15 184.03M30.53 264.65L44.8 254.83M108.35 173.57L100.55 189.89M133.74 263.05L118.87 253.48M19.61 228.28L33.13 228.55M119.7 278.41L110.9 267.12M118.11 179.39L108.72 192.28M20.34 239.05L40.18 235.96M102.9 287.73L97.49 272.93M33.88 269.08L47.74 257.59M28.44 261.41L45.63 251.09M29.62 195.71L46.49 206.68M103.56 287.48L97.98 272.75M135.55 198.94L122.16 206.53M76.82 291.32L77.88 277.62M56.23 172.93L64.1 190.47M25.54 203.01L37.42 208.62M51.48 283.69L60.71 267.09M120.76 277.56L110.56 265.05M139.55 207.45L120.97 214.52M54.31 285.17L60.79 271.95M33.59 190.27L43.54 198.4M69.43 290.29L72.24 276.27M44.32 179.96L53.49 192.15M60.85 171.07L67.09 188.63M121.64 182.16L111.2 194.5M85.11 291.4L84.45 279.82M38.12 185.3L51.15 198.55M70.3 168.54L73.06 183.41M130.38 191.24L117.11 201.65M28.81 196.98L39.75 203.72M19.71 225.87L34.74 226.75M122.14 276.41L108.85 261.03M22.79 249.14L41.94 242.74M20.36 219.82L38.83 222.74M141.86 214.9L124.53 219.1M117.81 179.17L107.26 193.83M24.2 252.94L37.35 247.57M51.04 283.44L60.95 265.95M24.88 254.54L36.88 249.24M67.56 169.11L71.68 186.84M140.29 249.49L126.67 244.85M133.03 264.12L120.88 255.94M28.88 196.87L40.78 204.23M59.85 171.44L64.49 183.82M130.63 267.45L120.28 259.44M21.36 214.83L32.19 217.47M133.42 195.46L117.95 205.62M19.64 231.6L31.24 231.21M110.41 284.4L105.47 274.99M30.34 194.62L46.23 205.43M96.88 169.41L92.38 187.09M143.59 228.39L123.27 228.75M132.44 194.01L116.1 205.42M141.11 246.9L125.92 242.46M62.81 288.58L68.37 271.09M131.12 266.81L116.58 255.85M22.64 210.31L38.73 215.55M101.4 170.75L96.7 184.7M142.51 217.94L122.42 221.75M111.38 283.88L102.12 266.98M112.22 283.41L105.94 272.35M139.31 206.83L123 213.24M118.38 179.58L109.49 191.65M69.95 290.4L73.71 270.73M28.1 198.17L37.36 203.59M129.89 268.39L118.6 259.29M20.41 219.5L31.36 221.29M23.42 250.93L35.67 246.42M43.34 278.28L51.86 267.42M136.12 199.98L119.45 209.01M29.11 196.51L40.76 203.83M126.34 272.43L117.52 263.97M131.81 265.87L120.19 257.45M124.36 184.61L110.82 198.83M102.56 287.85L98.27 275.9M143.46 233.6L131.8 232.83M91.71 290.67L89.37 276.52M21.89 212.8L34.8 216.41M142.13 216.07L130.63 218.62M21.69 245.46L32.97 242.45M132.34 193.87L123.43 200.12M64.92 289.22L68.55 276.23M19.63 231.4L33.43 230.98M30.16 194.89L40.58 201.9M124.08 274.66L111.67 261.47M36.19 187.28L49.73 199.87M25.5 255.9L39.21 249.45M109.39 284.93L100.54 267.28M135.08 260.87L122.72 253.62M24.52 253.71L39 247.57" stroke="#fff" stroke-width="0.3" stroke-opacity="0.5" stroke-dasharray="0.5 0.6" fill="none"/>
<radialGradient id="h3" gradientUnits="userSpaceOnUse" cx="81.6" cy="229.5" r="31.5"><stop offset="0.34" stop-color="#1010ff" stop-opacity="0"/><stop offset="0.39" stop-color="#1010ff" stop-opacity="0.5"/><stop offset="0.48" stop-color="#1010ff" stop-opacity="0.6"/><stop offset="0.6" stop-color="#1010ff" stop-opacity="0.68"/><stop offset="0.73" stop-color="#1010ff" stop-opacity="0.76"/><stop offset="0.86" stop-color="#1010ff" stop-opacity="0.86"/><stop offset="0.95" stop-color="#1010ff" stop-opacity="0.93"/><stop offset="1" stop-color="#1010ff" stop-opacity="0.95"/></radialGradient>
<circle cx="81.6" cy="229.5" r="21" fill="none" stroke="url(#h3)" stroke-width="20"/>
<path d="M64.62 203.8L68.66 209.92M54.3 215.23L66.33 221.52M104.94 209.4L92.46 220.14M52.34 239.11L68.24 233.89M76.81 259.92L79.27 244.26M74.74 259.53L78.35 243.75M52.38 219.75L57.79 221.55M61.11 206.51L64.65 210.48M79.84 260.25L80.27 252.77M92.84 258.18L90.38 251.91M110.59 239.9L97.93 235.36M99.86 254.3L93.98 246.31M106.44 211.29L102.17 214.42M52.91 240.69L60.69 237.66M68.95 257.58L75.68 242.65M97.97 203.41L94.55 208.85M56.04 212.31L66.49 219.34M52.53 219.31L57.45 221.04M94.79 257.33L88.21 243.44M75.59 199.29L78.13 212.04M75.62 199.29L77.07 206.62M54.91 244.87L69.46 236.49M107.93 213.52L98.2 219.43M109.9 241.65L100.67 237.69M60.49 207.07L66.5 213.46M102.81 207.17L96.02 214.31M65.68 255.87L69.1 250.2M52.55 219.26L59.05 221.55M85.96 259.99L84.46 249.54M86.83 199.15L84.08 215.1M59.77 251.23L64.51 246.51M65.81 203.05L72.95 215M64.17 254.9L69.64 246.93M52.94 240.77L58.52 238.58M89.92 259.16L88.81 255.2M91.98 200.5L88.21 211.04M76.1 259.8L78.82 244.79M58.12 249.43L68.39 240.71M54.57 244.26L61.76 240.34M51.07 233.56L56.48 232.84M75.8 199.25L77.96 210.5M93.33 257.98L88.6 246.49M92.62 258.26L90.14 251.78M58.97 250.39L71.74 238.6M65.25 255.6L73.75 242.04M101.05 253.38L90.16 240.01M68.07 201.83L74.12 214.21M97.32 203.01L88.97 217.08M69.38 257.77L72.99 249.41M53.46 216.99L63.42 221.42M54.69 214.51L64.03 219.71M109 215.44L93.99 223.14M111.85 223.7L102.11 225.57M112.06 224.96L107.67 225.62M82.53 260.29L82.28 251.95M100.71 205.35L91.37 217.16M69.86 257.97L74.14 247.6M107.04 212.14L100.81 216.39M50.86 231.37L62.23 230.68M100.79 253.59L96.18 247.8M64.18 204.1L69.49 211.85M111.44 221.87L99.46 224.93M57.91 249.18L67.87 240.91M112.17 233.29L103.16 232.17M106.89 247.08L103.42 244.66M85.74 260.02L84.14 248.25M81.66 260.3L81.63 244.02M110.76 239.41L98.77 235.34M53.67 216.52L65.69 222.11M107.4 212.68L92.78 222.21M109.78 217.07L105.96 218.76M64.66 255.23L68.43 249.5M108.02 245.33L103.55 242.65M52.68 218.92L56.61 220.36M109.4 242.76L93.32 235.09M103.61 207.96L94.46 216.92M58.74 250.14L64.44 245M59.88 251.33L63.63 247.55M54.66 214.58L68 221.97M52.77 240.35L56.7 238.87M108.92 243.73L104.22 241.29M77.23 199.01L77.8 203.03M50.99 226.11L67.91 227.98M68.17 201.78L70.8 207.21M60.04 207.51L63.47 211.01M94.16 257.62L88.63 245.23M92.58 258.27L90.43 252.62M61.79 253.08L67.01 246.86M56.1 212.22L68.39 220.55M96.99 202.82L89.57 215.69M111.55 222.31L105.83 223.68M79.36 198.78L80.6 215.74M67.86 257.07L74.99 242.76M64.41 255.06L67.95 249.79M79.15 260.2L80.12 248.07M101.25 205.78L96.6 211.4M50.89 227.16L62.81 228.07M95.06 201.8L92.86 206.33M76.82 199.07L77.59 203.97M60.59 206.98L69.77 216.82M111.33 237.53L104.99 235.82M101.97 252.6L98.68 248.87M110.19 218.04L93.65 224.67M82.1 260.3L81.85 245.16M52.1 220.64L57.7 222.32M50.81 230.27L65.47 229.9M96.88 202.76L93.09 209.4M101.37 253.12L94.6 245.03M70.3 258.15L73.63 249.71M62.91 205.02L73.59 219.01M86.84 259.85L84.12 244.08M112.28 226.81L95.96 228.24M90.37 199.97L86.61 212.62M65.6 255.82L72.17 245.02M111.09 238.39L99.58 234.92M89.8 259.19L88.2 253.39M93.81 257.78L88.96 246.54M79.66 198.76L80.65 214.46M52.57 239.8L61.28 236.71M52.56 239.75L58.35 237.7M104.42 250.19L93.44 240.23M109.08 243.42L105.21 241.46M91.52 200.34L90.18 204.28M51.34 235.22L55.58 234.42M53.7 216.45L61.74 220.21M79.03 260.19L79.69 252.32M50.8 229.73L64.09 229.63M56.22 246.95L64.81 241.05M112.18 233.15L101.74 231.9M92.28 258.39L88.88 249.19M75.86 199.24L77.81 209.52M53.4 217.12L61.95 220.88M94.87 257.3L88.1 243.13M112.38 228.37L98.44 228.88M51.19 234.37L57.28 233.4M109.17 215.76L95.1 222.77M64.23 204.06L69.32 211.52M110.02 217.64L104.64 219.88M69.55 257.85L71.94 252.23M92.15 200.56L88.05 211.82M61.55 206.12L64.47 209.53M69.13 201.34L70.82 205.17M111.15 220.8L106.32 222.22M88.24 259.58L86.74 252.8M84.5 260.16L83.94 254.26M79.11 260.2L80.16 247.26M104.58 250.01L100.22 246.12M51.85 237.47L64.36 234.12M50.8 229.97L68.71 229.7M106.23 248L97.37 241.34" stroke="#0000ff" stroke-width="0.35" stroke-opacity="0.75" fill="none"/>
<path d="M65.82 255.95L70.15 248.7M91.02 258.82L88.35 250.49M100.71 253.65L95.26 246.77M51.66 222.29L63 225.02M62.78 205.12L72.67 217.92M109.95 241.54L104.2 239.1M76.65 259.9L79.28 243.75M104.61 209.02L98.71 214.27M82.81 260.28L82.63 255.6M58.92 208.66L70.26 219.08M109.32 242.93L96.44 236.69M111.38 221.63L106.73 222.86M57.8 249.05L63.49 244.38M103.65 251L93.08 240.7M50.82 228.53L62.64 228.91M59.1 208.46L64.37 213.38M56.51 211.63L68.56 220.21M68.58 257.41L71.29 251.6M90.07 259.11L86.19 245.56M69.06 201.37L71.96 207.88M56.41 247.23L69.74 237.85M69.93 201L71.97 205.97M85.47 260.06L84.78 254.58M51.22 224.44L65.01 226.74M69.47 201.19L72.82 209M51.5 236.03L55.52 235.16M111.92 224.07L102.88 225.69M73.76 259.29L76.25 249.81M69.3 257.74L73.56 247.96M55.31 245.55L58.95 243.33M52.18 220.39L56.21 221.64M84.22 198.81L83.27 209.94M81.95 198.7L81.8 212.23M103.14 251.51L95.89 244.11M63.76 204.4L70.74 214.22M51.01 225.88L56.81 226.57M96.18 256.63L92.36 249.52M111.88 223.84L103.12 225.48M105.41 249.04L99.26 244M85.47 198.94L84.24 208.63M103.66 251L99.2 246.65M57.44 210.39L67.3 218.19M112.23 226.31L96.63 227.93M52.25 220.17L56.41 221.5M96.63 202.61L94.44 206.53M65.92 202.99L72.63 214.33M71.94 258.74L75.62 247.58M76.42 199.14L78.08 208.9M88.6 199.51L87.29 205.15M112.38 228.49L101.02 228.86M112.09 233.86L100.38 232.18M91.31 200.27L86.96 213.35M104.06 208.42L100.14 212.1M50.85 227.82L54.89 228.04M100.52 205.2L93.64 214.03M57.09 210.84L60.28 213.27M105.25 209.77L96.52 217.06M111.1 238.36L97.38 234.24M109.48 242.58L103.5 239.78M55.81 246.34L59.27 244.08M62.57 205.28L65.95 209.59M50.95 232.55L66.07 231.05M55.61 212.97L65.14 219.04M99.61 204.52L94.71 211.32M109.97 217.51L98 222.57M83.22 198.74L82.93 204.13M52.91 240.71L63.65 236.51M56.83 211.2L67.99 219.45M58.51 209.12L66.08 215.8M98.5 255.25L89.99 242.28M106.18 210.94L102.8 213.49M112.09 233.84L96.02 231.55M102.49 252.13L97.87 247.12M109.24 215.91L96.84 222.01M112.4 229.19L106.79 229.25M51.89 237.63L64.42 234.2M111.54 236.72L97.77 233.4M54.96 244.96L62.75 240.44M68.17 201.78L73.48 212.74M95.43 201.98L93.56 205.69M51.72 236.98L62.74 234.23M100.89 205.49L91.11 217.66M103.27 207.61L99.63 211.29M111.71 235.97L100.4 233.54M53.1 241.18L68.58 234.84M112.31 231.83L108.12 231.51M109.99 217.56L104.97 219.67M56.32 211.9L63.16 216.66M97.06 256.14L92.14 247.66M63.51 204.57L66.3 208.42M102.74 251.9L98.74 247.66M112.28 226.83L95.93 228.25M100.16 204.92L95.6 210.96M60.13 207.42L71.67 219.29M52.53 239.66L60.24 236.97M82.37 260.29L82.06 247.82M81.52 198.7L81.56 215.18M61.86 253.14L72.75 240.09M95.87 256.79L91.55 248.54M57.13 210.79L69.52 220.26M53.51 216.87L63.66 221.43M91.78 200.43L88.47 209.89M50.94 226.61L60.19 227.48M63.57 254.47L72.21 242.5M112.35 231.24L102.28 230.67M59.59 207.96L72.06 220.16M63.76 204.39L66.11 207.7M60.55 251.99L69.25 242.7M54.73 214.44L68.56 222.19M85.13 260.1L84.16 251.66M98.79 203.94L90.39 216.43M50.8 229.82L66.32 229.66M105.54 248.88L100.55 244.84M108.12 245.17L97.49 238.89M112.29 226.89L108.3 227.23M93.64 257.85L90.69 250.9M69.01 257.61L72.98 248.74M80.02 198.74L80.28 203.85M66.36 202.73L75.12 218.13M55.51 245.87L63.86 240.63M109.08 243.4L93.6 235.57M84.43 260.17L82.93 243.93M59.63 251.08L63.11 247.66M83.81 260.22L83.26 252.52M99.39 254.64L96.57 250.66M91.52 258.66L89.3 252.14M112.4 229.77L97.85 229.64M110 241.42L101.85 237.99M104.15 208.52L100.33 212.08M74.86 199.45L75.8 203.61M62.31 253.51L65.63 249.38M72.06 258.79L76.4 245.47M65.08 255.49L71.94 244.7M77.5 260.03L79.76 243.18M92.45 258.33L90.11 252.13M111.05 238.53L95.51 233.77M51.39 235.5L64.74 232.85M55.12 245.23L65.58 239.01M111.74 235.83L95.9 232.51M56.53 211.61L66.24 218.53M76.13 199.19L78.58 212.76M106.61 211.52L93.11 221.22M53.27 241.59L67.96 235.33M86.14 259.96L85.53 255.89M109.76 241.99L99.08 237.25M104.45 208.85L101.33 211.68M72.2 200.17L74.34 206.84M55.91 246.5L60.91 243.19M111.17 220.88L97.33 224.91M112.34 227.57L101.83 228.23M90.85 258.88L88.67 251.95M55.15 213.71L70.35 222.78M63.03 254.08L67.53 248.13M94.53 201.54L88.59 214.39M67.62 202.05L75.56 217.63M92.97 200.87L87.99 213.41M106.04 210.76L100.39 215.09M51.12 225.05L64.78 227.04M110.76 219.58L99.93 223.26M71.26 258.51L73.63 251.86M67.27 202.24L73.65 214.37M97.98 203.42L95.67 207.09M63.45 254.39L67.76 248.48M65.79 255.94L72.92 244.01M80.71 260.29L81.06 248.2M68.89 201.44L74.51 213.85M92.64 258.25L88 246.16M79.69 198.76L80.28 208.32M51.66 222.28L61.49 224.65M97.18 202.93L90.5 214.32" stroke="#0000ff" stroke-width="0.35" stroke-opacity="0.8" fill="none" stroke-dasharray="0.5 0.3"/>
<path d="M106.04 210.75L92.96 220.79M55.51 213.13L65.85 219.62M74.45 199.54L75.43 203.65M51.59 222.58L67.87 226.33M111.78 235.65L103.8 234.03M92.39 200.65L87.74 213.07M85.2 198.91L83.8 210.85M76.5 259.87L78.54 247.7M51.29 234.97L68.62 231.84M53.95 243.07L68.29 236.03M97.41 203.07L92.34 211.54M54.99 245.01L70.15 236.17M111.7 236.02L96.28 232.68M69.8 257.95L76.09 242.79M104.24 250.38L99.02 245.57M57.29 210.59L66.23 217.54M56.65 247.56L65.81 240.93M53.9 216.03L60.8 219.38M92.91 200.85L87.09 215.6M60.16 251.61L63.24 248.44M73.86 199.69L78.04 215.78M71.92 258.74L74.16 251.96M50.81 230.34L65.33 229.95M56.63 211.48L65.4 217.81M51.73 221.99L68.52 226.21M52.15 238.51L60.31 236.02M105.87 210.54L100.8 214.5M72.67 258.98L77.63 242.59M101.22 205.76L93.96 214.54M56.95 211.04L63.33 215.82M93.92 257.73L88.36 244.98M103.22 251.44L100.4 248.58M108.74 244.07L104.95 242.04M69.92 201L73.18 208.95M59.71 207.83L63.33 211.41M105.48 248.96L95.65 240.95M103.72 208.06L97.58 214.01M95.29 257.09L93.48 253.43M108.84 243.87L93.35 235.7M91.83 258.55L90.35 254.33M53.29 241.63L60.1 238.72M88.77 259.45L85.13 244.26M109.6 216.66L105.28 218.64M104.4 250.21L97.13 243.61M81.65 260.3L81.64 251.64M61.61 206.07L70.78 216.81M51.49 223.02L64.62 225.84M103.58 251.08L96.7 244.33M93.63 257.85L90.45 250.36M50.9 227.01L58.08 227.59M98.48 255.26L95.76 251.11M111.66 222.78L103.5 224.6M60.96 206.64L65.18 211.31M57.34 248.48L65.11 242.41M83.92 198.79L83.61 202.94M108.53 244.45L97.64 238.41M103.68 208.02L100.03 211.57M112.1 225.21L103.36 226.44M94.48 201.52L88.63 214.24M93.49 257.91L87.56 243.74M52.41 219.68L68.83 225.21M100.03 204.82L90.63 217.42M88.98 259.4L86.79 250.51M51.53 222.85L55.49 223.72M110.21 240.91L96.61 235.49M85.72 198.98L83.82 213.03M72.55 258.94L73.73 255.09M95.14 201.84L92.06 208.14M55.21 245.39L69.33 236.89M50.8 229.73L54.98 229.7M60.59 252.03L67.42 244.71M90.51 258.98L88.36 251.88M55.48 213.17L65.55 219.47M74.73 199.48L75.97 204.89M105.65 248.74L101.63 245.52M112.12 225.33L106.87 226.04M56.09 246.76L62.1 242.69M52.64 219.01L63.82 223.06M107.03 212.13L100.58 216.54M54.65 214.58L66.55 221.17M87.29 199.23L84.12 216.11M94.58 257.43L87.4 241.97M62.98 254.03L70.76 243.78M109.31 242.94L104.51 240.62M50.81 230.1L59.07 229.94M90.11 259.1L86.92 248M63.59 204.51L66.5 208.55M51.25 224.23L67.31 227.02M101.63 206.11L98.47 209.8M62.41 205.41L73.15 218.9M60.11 251.57L70.16 241.25M89.4 199.7L86.98 208.94M72.06 200.21L73.63 205.03M96.94 256.21L94.43 251.84M103.01 251.64L100.22 248.76M52.82 218.52L58.06 220.52M73.53 199.77L75.04 205.34M79.81 260.25L80.24 252.9M108.63 244.26L104.54 242.02M85.02 198.89L83.04 216.61M61 252.39L64.5 248.5M77.71 198.95L78.55 205.58M60.86 252.27L66.26 246.34M111.88 223.84L103.54 225.4M96.57 202.58L92.32 210.23M89.22 199.66L87.15 207.78M102.46 206.84L92.66 217.48M112.31 231.81L107.74 231.46M59.73 207.82L71.33 219.32M89.69 259.22L88.53 254.98M88.89 259.42L84.7 242.22M65.21 255.58L67.45 252.01M109.72 216.93L93.94 223.98M84.63 260.15L83.67 250.45M71.95 258.75L75.32 248.54M61.05 252.44L66.66 246.18M85.34 198.93L84.35 207M106.29 247.91L94.8 239.34M105.35 249.11L91.84 237.95M106.45 211.3L97.88 217.58M72.59 200.05L76.19 211.82M84.54 198.84L83.7 207.57M65.75 203.09L68.64 207.9M112.3 231.94L96.65 230.69M51.83 221.6L58.28 223.31M53.55 242.22L62.45 238.18M59.75 207.79L62.71 210.74M92.08 200.54L86.9 214.86M57.34 210.52L64.38 216.03M55.85 246.4L59.28 244.15M104.94 249.6L100.6 245.86M110.33 218.41L101.19 221.94M57.81 209.94L61.21 212.74M51.65 236.67L56.71 235.46M58.72 250.12L66.76 242.88M95.18 257.14L93.33 253.36M99.6 254.49L90.51 241.87M109.48 216.41L97.59 221.99M57.36 210.5L63.32 215.18M96.17 202.36L92.89 208.47M53.28 241.61L62.9 237.5M63.66 254.54L66.68 250.33M105.99 248.31L95.78 240.43M55.93 246.52L62.39 242.24M111.02 238.63L107.01 237.39M109.93 217.41L100.98 221.23M110.38 240.47L105.04 238.44M61.37 206.27L66.99 212.72M111.8 223.43L104.67 224.86M65.17 203.45L69.14 209.74M82.29 198.71L82.11 206.92M59.45 250.9L65.81 244.75M111.26 221.21L101.95 223.81M108.91 243.75L102.85 240.58M100.96 205.55L97.39 209.96M106.2 210.96L95.74 218.84M108.39 244.69L97.61 238.58M87.33 199.24L84.54 213.95M108.86 243.84L99.94 239.14M50.81 228.65L63.7 229M80.53 198.72L80.79 206.1M90.41 259.01L86.79 246.87M110.65 219.26L97.72 223.82M60.75 206.83L66.99 213.62M110.75 219.56L103.16 222.15M54.78 244.65L60.91 241.19M51 226L56.29 226.6M110.98 238.75L101.6 235.8M58.66 250.05L64.74 244.6M50.82 228.43L61.41 228.8" stroke="#0000ff" stroke-width="0.35" stroke-opacity="0.8" fill="none" stroke-dasharray="0.3 0.4"/>
<path d="M70.67 224.8L64.51 222.15M83.82 241.19L85.85 251.87M89.24 238.62L99.86 251.29M71.32 235.5L63.39 240.13M76.59 240.3L72.99 248.07M80.57 217.64L79.87 209.67M90.52 221.62L95.67 217.08M92.07 223.85L99.95 219.6M84.06 217.86L86.65 205.61M93.06 226.29L109.62 221.66M80.07 241.3L79.08 248.92M88.87 238.92L99.48 252.65M78.41 218.04L74.98 205.68M72.98 221.3L62.5 211.33M73.93 220.41L62.16 206.46M79.39 241.19L77.95 248.85M92.75 233.65L101.57 236.92M69.74 230.51L54.75 231.79M69.72 228.73L59.44 228.07M91.95 235.37L103.19 241.73M72.87 237.58L67.79 242.29M71.07 223.95L55.43 215.71M91.56 222.99L100.27 217.3M86.35 240.41L92.45 254.4M71.78 222.78L60.51 215.08M93.47 230.4L110.68 231.71M70.94 224.21L64.92 221.21M76.66 218.67L71.33 206.99M72.27 236.88L64.47 243.05M85.28 240.82L90.82 257.89M69.7 229.48L57.68 229.47M92.62 225.02L108.76 218.46M72.14 222.28L57.86 211.38M91.01 222.21L102.54 213.28M80.79 217.63L79.99 205.83M75.01 219.59L67.5 208.31M70.89 234.69L60.2 239.88M83.44 241.26L85.91 257.03M73.21 237.94L61.76 249.45M93.33 227.52L100.72 226.27M73.79 220.52L69.5 215.59M92.36 224.43L103.02 219.4M70.32 225.71L64.03 223.6M93.36 231.33L106.7 233.41M76.73 218.64L72.43 209.07M92.06 223.83L102.43 218.2M93.35 227.63L103.69 225.99M77.37 218.38L73.97 209.45M84.89 218.06L86.63 212.03M85.08 240.88L87.21 247.85M69.89 227.36L55.28 224.69M78.38 240.96L73.94 256.76M79.25 241.17L77.43 250.25M72.15 236.73L60.65 245.53M69.87 227.5L52.63 224.56M91.34 222.66L97.67 218.22M92.91 233.19L99.08 235.19M84.33 241.08L87.76 255.67M69.89 227.4L63.5 226.25M75.45 219.32L69.99 210.29M74.49 219.96L68.75 212.25M92.72 233.73L101.51 237.07M89.53 238.37L93.59 242.92M89.32 220.45L97.4 210.97M70.14 232.71L61.4 235.17M81.48 217.6L81.38 208.1M93.42 228.11L111.63 225.98M69.94 231.9L60.93 233.75M73.78 220.53L69.48 215.59M81.93 217.6L82.15 210M89.48 238.42L99.28 249.51M75.75 239.86L70.03 249.98M70.31 225.73L56.99 221.28M85.85 218.39L91.01 204.92M84.94 218.08L88.89 204.54M85.59 240.71L89.81 252.56M77.93 240.82L73.99 252.93M92.42 224.54L101.99 220.15M93.09 232.59L99.18 234.23M72.31 236.94L59.23 247.41" stroke="#fff" stroke-width="0.35" stroke-opacity="0.6" fill="none"/>
<path d="M70.17 226.18L58.72 222.85M73.86 238.54L63.01 251.21M76.99 240.47L72.47 251.21M74.09 238.73L67.51 246.81M75.92 239.96L68.58 253.47M92.64 225.06L107.81 218.96M75.12 219.52L66.47 206.18M85.37 218.21L89.34 206.35M81.4 241.4L81.21 253.07M71.43 235.67L55.64 245.24M93.21 226.88L109.23 223.26M70.92 234.74L57.12 241.51M78.16 218.11L73.41 202.4M91.82 235.59L106.95 244.61M88.47 239.22L95.88 249.7M69.94 227.12L52.16 223.49M77.84 218.21L72.32 201.65M92.26 234.79L102.7 239.98M90.22 221.3L102.1 209.99M79.44 241.2L76.9 254.92M78.65 241.03L75.47 253.44M71.49 235.77L58.73 243.68M75.32 219.39L66.84 205.74M74.03 238.68L64.72 249.97M93.5 229.42L106.63 229.33M93.25 231.93L103.53 234.08M92.94 233.1L109.95 238.49M92.79 233.56L104.78 237.92M90.8 221.95L99.79 214.57M73.88 238.56L66.82 246.85M87.24 219.02L95.11 204.39M77.68 240.74L72.83 254.66M92.37 234.56L103.64 239.85M92.36 224.42L102.17 219.78M72.49 237.16L62.57 245.52M91.83 235.57L107.83 245.06M93.48 228.82L104.69 228.17M69.98 226.94L52.98 223.18M92.01 223.73L101.51 218.46M90.54 221.65L98.23 214.91M93.5 229.66L108.19 229.85M70.56 225.05L53.99 218.36M83.83 217.81L86.22 205.3M90.9 236.93L102.75 246.38M71.72 222.86L59.21 214.45M78.67 241.03L75.48 253.6M69.8 227.99L59.27 226.64M72.46 237.13L60.5 247.11M86.34 218.58L90.49 209M92.53 224.8L108.55 217.92M76.41 240.21L71.62 250.08M75.39 219.35L69.01 208.94M84.99 218.09L89.97 201.33M79.67 217.76L77.7 205.83M69.93 227.15L52.99 223.74M80.62 217.64L79.12 199.49M85.7 218.33L90.09 206.38M93.44 228.31L104.65 227.18M81.19 217.61L80.66 202.33M93.43 228.24L105.13 226.99M88.97 220.16L99.53 206.78M69.77 228.19L58.03 226.88M93.48 228.88L106.51 228.2M92.61 224.98L107.17 219M84.99 240.91L89.31 255.47M77.9 218.19L74.12 206.64M92.58 224.91L105.46 219.53M71.23 235.33L59.77 241.77M74.88 239.32L67.38 250.28M82.66 241.35L83.6 251.75M79.3 241.18L76.45 255.62M83.82 217.81L86.8 202.15M80 217.71L78.44 206.27M93.5 229.62L108.81 229.77M78.35 218.05L73.94 202.53M83.56 241.24L85.74 254.3M79.52 241.22L76.97 255.61M91.29 222.59L105.54 212.41M70.9 224.28L59.9 218.91M69.93 231.82L51.65 235.44M71.43 235.69L58.63 243.48M69.9 231.66L58.04 233.85M93.42 230.86L105.01 232.2M81.53 241.4L81.43 257.42M71.02 234.96L61.11 240.07M78.32 240.94L73.83 256.55M89.32 238.56L98.89 249.79M79.5 217.79L76.8 202.68M85.41 218.23L88.79 208.24M82.96 217.68L84.4 205.14M75.36 239.63L67.02 253.15M75.16 219.49L67.62 207.77M85.64 240.69L91.9 258M79.11 241.14L76.42 253.69M92.29 234.74L104.45 240.7M70.71 234.3L55.15 241.15M92.91 225.79L108.11 220.8M78.7 217.96L75.52 205.29M93.46 228.54L105 227.61M93.5 229.4L104.38 229.3M71.84 236.3L57.88 246.03M91.39 222.73L102.86 214.79M79.24 217.84L76.29 203.29M84.9 218.07L90.03 200.27M71.68 236.07L58.48 244.81M85.79 218.36L89.84 207.59M91.28 222.58L100.68 215.86M93.5 229.23L110.75 228.85M87.41 239.88L95.8 254.86M77.53 240.68L72.21 255.31" stroke="#fff" stroke-width="0.3" stroke-opacity="0.55" stroke-dasharray="0.5 0.4" fill="none"/>
<path d="M92.99 226.04L110.91 220.59M73.3 220.97L63.26 210.66M93.47 228.65L109.84 227.47M77.87 240.8L73.53 253.95M77.67 240.73L71.96 257.01M93.06 226.31L110.14 221.55M70.44 233.64L53.55 239.92M93.21 226.91L103.55 224.59M79.09 241.13L76.78 251.86M85.76 218.35L92.07 201.41M70.31 233.26L52.82 239.08M72.6 221.72L60.08 210.89M91.46 222.83L105.97 213.02M86.03 240.55L91.11 253.24M72.13 236.7L61.21 244.99M75.54 239.74L68.35 251.88M72.86 221.42L63.02 212.32M87.4 239.89L94.43 252.5M83.56 241.24L85.81 254.64M92.1 223.91L102.54 218.35M93.41 228.04L111.34 225.83M70.99 224.11L61.05 219.06M91.98 235.32L100.9 240.31M77.49 218.33L71.01 200.77M90.59 237.3L103.21 248.24M91.01 236.79L102.8 245.91M78.6 217.99L74.29 201.47M69.77 230.8L58.1 232.09M93.5 229.51L104.65 229.51M88.33 219.69L95.03 209.93M88 239.54L95.1 250.69M75.18 239.52L69.15 248.91M90.48 221.58L103.99 209.53M87.14 218.97L92.79 208.23M71.25 235.37L55.93 244.05M71.79 222.77L61.4 215.64M70.13 226.33L56.42 222.54M73.36 220.92L63.21 210.34M90.12 221.19L102.9 208.72M69.83 231.26L55.15 233.46M92.38 234.55L104.49 240.22M90.55 221.66L102.21 211.45M87.51 219.17L94.14 207.61M87.09 218.94L94.9 203.91M93.4 227.96L109.64 225.84M69.7 229.48L55.6 229.46M70.14 232.7L55.95 236.67M82.47 241.37L83.44 254.57M92.07 235.15L104.61 241.92M80.2 241.32L78.02 259.75M79.01 217.89L75.45 201.95M93.22 226.92L106.95 223.88M69.83 227.77L58.67 226.14M70.33 225.67L53.14 219.82M71.27 223.59L61.76 218.14M89.25 220.38L96.91 211.25M72.2 222.21L58.08 211.25M84.05 241.14L86.53 252.91M76.41 218.79L69.3 204.11M79.32 217.82L76.85 205.2M70.82 234.55L57.41 240.82M81.77 241.4L81.99 256.23M84.64 241L88.96 257.33M84.45 241.05L88.17 256.12M75.05 219.56L65.7 205.38M93.44 228.3L110.35 226.57M89.25 238.62L99.57 250.94M74.26 220.13L62.73 205.41M81.63 217.6L81.66 203.95M92.23 234.86L104.6 241.09M69.77 230.76L51.18 232.74M71.44 235.69L61.26 241.89M75.05 219.56L68.23 209.21M83.24 217.71L84.65 207.61M71.35 223.45L60.74 217.18M69.7 229.68L58.12 229.85M74.42 238.99L67.28 248.43M93.46 228.49L108.69 227.19M88.4 219.73L94.94 210.33M93.09 232.59L106.37 236.17M90.6 221.72L100.15 213.46M93.49 229.13L106.46 228.74M74.67 219.83L68.32 210.97M89.56 220.66L99.72 209.38M83.74 217.79L86.18 204.51M79.6 241.23L76.83 257.52M69.8 227.93L55.24 225.99M70.65 224.84L57.83 219.39M71.66 222.96L58.15 214.07M78.46 240.98L74.07 256.97M87.59 239.78L93.04 249.14M83.13 217.7L85.02 203.02M86.54 218.67L93.39 203.66M92.93 225.86L103.7 222.39M85.11 218.13L88.25 207.97M77.19 218.45L70.99 202.94M74.83 239.29L67.28 250.19M93.42 228.14L105.63 226.73M82.62 217.64L84.17 199.52M71 234.9L54.55 243.29M71.98 222.49L58.01 212.31M86.11 218.49L92.32 203.3M89.58 238.32L99.47 249.25M93.41 230.98L109.13 232.95M79.5 241.21L77.25 253.77M69.93 231.81L56.27 234.51M90.48 221.57L99.09 213.88M76.98 218.53L70.98 204.31M71.74 222.84L61.05 215.62M87.09 240.06L93.57 252.53" stroke="#fff" stroke-width="0.3" stroke-opacity="0.55" stroke-dasharray="0.3 0.5" fill="none"/>
<path d="M84.69 240.99L87.65 251.96M71.03 224.03L58.13 217.35M80.12 217.69L78.51 204.86M92.28 224.26L101.43 219.78M93.36 231.32L110.99 234.06M72.49 237.16L59.46 248.1M81.14 241.39L80.51 257.65M83.21 217.71L85.56 200.42M93.46 230.45L105.14 231.38M77.61 218.29L72.02 202.57M88.18 219.58L96.99 206.31M89.38 238.5L98.62 249.2M75.24 219.44L65.91 204.69M92.86 225.64L107.17 220.74M75.41 239.66L67.56 252.54M90.32 221.4L103.05 209.58M71.38 235.6L55.51 245.08M78.31 240.94L74.95 252.63M73.55 238.26L66.74 245.66M72.26 222.12L62.94 214.75M86.04 218.46L90.57 207.19M88.23 219.61L98.22 204.7M90.26 237.66L103.23 249.87M91.87 235.51L103.49 242.3M80.76 217.63L79.73 203.01M77.27 218.41L73.34 208.34M73.23 221.05L61.85 209.56M90.29 237.63L98.9 245.69M77.92 240.82L74.5 251.32M89.62 220.71L99.17 210.25M77.34 218.39L70.78 201.26M76.32 240.16L69.6 253.72M87.58 239.79L95.72 253.78M93.46 228.49L105.51 227.47M70.99 234.9L56.24 242.4M76.9 240.43L70.01 256.44M81.44 241.4L81.2 258.75M88.36 219.7L94.85 210.29M71.31 223.51L55.12 214.09M89.43 220.54L98.48 210.18M88.88 238.91L97.97 250.67M93.33 227.51L109.95 224.69M77.13 218.47L70.26 201.52M88.01 219.48L94.01 210.1M78.43 218.03L75.58 207.69M93.44 228.34L111.87 226.53M91.19 222.46L105.12 212.24M86.68 218.74L91.9 207.69M76.99 240.47L70.09 256.93M83.66 217.78L85.72 206.03M70.32 225.71L59 221.9M85.48 218.25L89.14 207.61M71.17 223.77L60.02 217.63M84.55 241.03L88.18 255.26M71.57 235.91L60.39 243.05M88.56 219.85L98.25 206.41M78.48 218.02L74.82 204.53M93.31 227.4L109.74 224.46M72.52 221.81L64.5 215.01M77.87 218.2L73.4 204.69M90.07 237.86L99.56 247.22M93.45 228.36L110.01 226.78M83.14 217.7L84.63 206.23M76.67 240.33L71.73 251.18M70.61 224.94L60.3 220.65M92.9 233.23L107.53 238.05M69.74 230.49L55.82 231.65M71.72 222.86L56.69 212.75M93.47 228.6L109.04 227.41M93.17 232.26L111.18 236.56M83.58 241.23L85.69 253.71M76.79 218.62L70.09 203.47M85.59 240.71L90.14 253.45M93.38 231.17L104.92 232.8M91.73 235.75L101.88 242.02M93.25 227.07L103.96 224.84M89.46 220.57L99.41 209.28M83.12 241.3L84.65 253.17M83.84 217.81L87.38 199.38M82.62 217.64L83.71 205.03M78.63 241.02L73.97 259.1M90.98 236.82L105.3 247.99M79.73 241.25L77.04 258.2M84.97 218.09L88.27 206.88M75.28 239.58L67.35 252.22M83.42 217.74L85.25 205.93M79.05 241.12L76.75 251.56M82.48 241.37L83.28 252.09M93.33 231.52L105.49 233.62M85.34 218.2L88.84 207.66M71.11 223.89L60.18 218.05M86.68 240.26L93.87 255.46M77.03 218.51L72.2 206.93M83.52 217.76L86.15 201.62M90.59 237.3L100.74 246.11M85.54 218.27L88.9 208.66M92.97 225.99L110.12 220.7M71.48 235.76L56.5 245.02M90.98 236.82L104.33 247.22M83.91 217.83L86.78 203.31M87.75 239.69L96.98 254.97M77.8 218.22L73.89 206.6M93.36 227.67L107.84 225.41M86.26 240.45L92.93 256.15M91.66 223.15L103.15 215.89M84.7 218.01L87.53 207.53M90.31 237.61L99.25 245.95M71.22 223.68L57.32 215.87M90.58 221.7L103.77 210.24M86.3 218.57L90.82 208.06" stroke="#fff" stroke-width="0.3" stroke-opacity="0.55" stroke-dasharray="0.8 0.6" fill="none"/>
<path d="M76.01 218.99L67.38 202.75L101.87 206.98L89.56 220.66z" fill="#fff" fill-opacity="0.22"/>
<path d="M81.89 218.6L83.25 166.32M85.33 219.26L103.22 170.11" stroke="#fff" stroke-width="0.75" fill="none"/>
<path d="M92.15 226.77L111.9 221.66M92.49 229.98L112.87 230.87M92.3 231.58L112.32 235.47M84.42 240.03L89.7 259.73M81.79 240.4L82.15 260.8M79.24 240.14L74.83 260.06M71 232.04L51.16 236.81" stroke="#fff" stroke-width="1.0" fill="none"/>
<path d="M121.11 218.54L142.5 212.61L143.05 214.75L121.47 219.93zM122.59 230.57L144.78 231.15L144.68 233.36L122.52 232zM121.98 236.62L143.84 240.47L143.42 242.64L121.7 238.02zM92.9 268.91L99.02 290.25L96.89 290.82L91.52 269.28zM83.03 270.48L83.81 292.66L81.6 292.7L81.6 270.5zM73.43 269.68L69 291.43L66.85 290.95L72.03 269.37zM42 240.11L20.55 245.86L19.78 242.64L41.5 238.02z" fill="#fff"/>
<path d="M83.12 218.71L90.4 166.92M87.21 220.16L114.15 175.33M90.74 223.56L134.6 195.08M91.13 234.78L136.88 260.14M90.42 235.91L132.73 266.65M87.54 238.64L116.02 282.5M75.66 238.64L47.18 282.5M73.63 236.93L35.38 272.6M71.8 234.28L24.8 257.21M70.87 227.61L19.36 218.53M72.11 224.13L26.59 198.38M74.59 221.15L40.98 181.09M78.78 218.97L65.24 168.45" stroke="#fff" stroke-width="0.6" stroke-opacity="0.95" fill="none"/>
<circle cx="81.6" cy="229.5" r="36.5" fill="none" stroke="#fff" stroke-width="11.2"/>
<circle cx="81.6" cy="229.5" r="41.0" fill="none" stroke="#747474" stroke-width="2.3"/>
<circle cx="81.6" cy="229.5" r="37.3" fill="none" stroke="#e4e4e4" stroke-width="0.5"/>
<circle cx="81.6" cy="229.5" r="38.3" fill="none" stroke="#d0d0d0" stroke-width="1.2" stroke-dasharray="0.25 2.1"/>
<circle cx="81.6" cy="229.5" r="33.45" fill="none" stroke="#f7ecdf" stroke-width="1.9"/>
<circle cx="81.6" cy="229.5" r="31.1" fill="none" stroke="#767676" stroke-width="2.0"/>
<path d="M70.16 198.07A33.45 33.45 0 0 1 83.93 196.13" fill="none" stroke="#8fe8d4" stroke-width="1.9"/>
<path d="M84.52 196.18A33.45 33.45 0 0 1 96.26 199.44" fill="none" stroke="#48e2f0" stroke-width="1.9"/>
<path d="M115 231.25A33.45 33.45 0 0 1 114.8 233.58" fill="none" stroke="#3c3cb0" stroke-width="1.9"/>
<path d="M114.72 234.16A33.45 33.45 0 0 1 114.19 237.02" fill="none" stroke="#40e8f0" stroke-width="1.9"/>
<path d="M114.06 237.59A33.45 33.45 0 0 1 113.41 239.84" fill="none" stroke="#c04060" stroke-width="1.9"/>
<path d="M109.97 247.23A33.45 33.45 0 0 1 107.96 250.09" fill="none" stroke="#a8c4f4" stroke-width="1.9"/>
<path d="M106.85 251.45A33.45 33.45 0 0 1 103.98 254.36" fill="none" stroke="#f4c4a0" stroke-width="1.9"/>
<path d="M102.65 255.5A33.45 33.45 0 0 1 98.32 258.47" fill="none" stroke="#dca474" stroke-width="1.9"/>
<path d="M93.04 260.93A33.45 33.45 0 0 1 87.41 262.44" fill="none" stroke="#98ee48" stroke-width="1.9"/>
<path d="M85.68 262.7A33.45 33.45 0 0 1 79.85 262.9" fill="none" stroke="#78b4b4" stroke-width="1.9"/>
<path d="M78.68 262.82A33.45 33.45 0 0 1 71.82 261.49" fill="none" stroke="#f0ccaa" stroke-width="1.9"/>
<path d="M70.16 260.93A33.45 33.45 0 0 1 63.87 257.87" fill="none" stroke="#b85858" stroke-width="1.9"/>
<path d="M60.1 255.12A33.45 33.45 0 0 1 55.24 250.09" fill="none" stroke="#a458e0" stroke-width="1.9"/>
<path d="M53.87 248.21A33.45 33.45 0 0 1 51.04 243.11" fill="none" stroke="#5858f0" stroke-width="1.9"/>
<path d="M48.37 233.29A33.45 33.45 0 0 1 48.71 223.4" fill="none" stroke="#6c6c6c" stroke-width="2.7"/>
<path d="M120.04 219.56L122.55 218.91M121.26 231.23L123.86 231.35M120.57 237.08L123.12 237.57M91.88 267.85L92.55 270.36M82.29 269.19L82.34 271.79M73.01 268.26L72.44 270.8M43 238.77L40.47 239.37M82.64 189.81L82.71 187.21M95.18 192.19L96.07 189.75M87.13 190.19L87.49 187.61M102.05 195.47L103.39 193.24M114.9 207.88L117.08 206.46M116.32 248.75L118.6 250.01M113.72 252.84L115.82 254.36M103.22 262.8L104.64 264.98M59.98 262.8L58.56 264.98M52.57 256.58L50.66 258.35M45.92 246.9L43.58 248.04M42.5 222.61L39.94 222.15M47.05 209.95L44.78 208.67M56.08 199.09L54.41 197.1M71.32 191.15L70.65 188.64" stroke="#fff" stroke-width="0.4" stroke-opacity="0.8" fill="none"/>
<radialGradient id="g4" gradientUnits="userSpaceOnUse" cx="243.6" cy="229.5" r="62"><stop offset="0.65" stop-color="#ff0000" stop-opacity="0.97"/><stop offset="0.9" stop-color="#ff0000" stop-opacity="0.95"/><stop offset="0.96" stop-color="#ff0000" stop-opacity="0.85"/><stop offset="0.99" stop-color="#ff0000" stop-opacity="0.4"/><stop offset="1" stop-color="#ff0000" stop-opacity="0"/></radialGradient>
<circle cx="243.6" cy="229.5" r="51" fill="none" stroke="url(#g4)" stroke-width="22"/>
<path d="M282.16 180.95L272.97 192.52M220.9 171.8L221.64 173.69M181.91 235.7L191.41 234.75M186.82 254.4L190.58 252.75M285.59 183.88L282.47 187.27M291.86 268.43L288.57 265.78M197.96 271.47L200.32 269.3M190.43 261.4L193.53 259.54M286.89 185.12L285.96 186.07M303.07 211.99L292.47 215.11M239.88 167.61L240.08 171.04M199.1 186.33L203.89 190.97M210.68 282.04L214.78 275.5M278.34 178.15L271.22 188.67M301.78 208.07L300.02 208.72M184.43 210.99L185.77 211.41M187.19 203.76L189.13 204.64M254.45 168.46L253.28 175.06M233.61 290.69L234.08 287.81M186.64 253.99L189.23 252.88M249.48 291.22L249.16 287.85M278.4 178.19L277.31 179.8M197.21 188.37L201.7 192.34M292.18 190.98L281.55 199.41M251.03 167.95L248.73 186.97M272.4 284.4L270.88 281.5M220.46 171.98L221.29 174.03M301.06 206.21L289.9 210.73M305.55 231.87L304.42 231.82M300.89 253.21L288.15 247.93M304.31 242.1L294.15 240M305.6 230.1L304.01 230.08M302.45 209.99L298.19 211.4M305.34 235.16L301.94 234.85M212.76 175.71L214.77 179.22M289.13 271.58L286.65 269.29M221.62 171.53L226.09 183.33M191.55 195.82L193.67 197.2M228.17 169.45L229.19 173.42M300.59 253.93L287.54 248.34M305.59 228.45L293.56 228.66M296.07 262.53L294.87 261.78M302.64 210.58L295.87 212.75M305.51 232.89L302.33 232.72M285.9 274.83L279.86 268.36M289.17 271.54L288.05 270.52M304.66 218.77L300.82 219.44M292.96 191.98L286.33 197.02M194.15 266.9L202.37 260.68M218.3 172.9L223.75 185.09M261.38 170.1L260.79 172.08M255.27 290.39L251.89 272.75M267.11 172.13L259.9 189.72M227.26 289.31L228.44 285M271.28 284.98L263.19 268.77M189.06 200.02L194.36 202.88M183.93 212.66L185.41 213.08M286.28 274.47L285.58 273.73M262.89 288.42L259.02 276.61M232.69 290.53L233.55 285.72M305.6 228.79L290.91 228.96M243.82 167.5L243.79 176.03M239.26 167.65L240.55 186.12M194.67 191.42L196.87 193.13M294.71 264.59L290.23 261.51M290.58 189.04L277.63 200.2M183.95 246.41L196.32 242.9M190.29 197.85L194.24 200.2M269.88 173.34L268.47 176.34M183.99 212.45L187.57 213.47M231.14 168.76L231.5 170.53M255.33 168.62L253.03 180.54M283.72 276.77L282.76 275.64M304.65 218.67L302.66 219.02M195.73 190.1L196.78 190.97M197.54 188L198.36 188.74M188.33 257.58L201.47 250.91M182.34 219.96L184.22 220.25M181.64 231.73L197.19 231.17M300.29 204.39L296.85 205.92M284.73 275.9L276.7 266.85M181.63 227.72L184.62 227.81M188.99 200.15L190.49 200.95M196.68 270.03L200.03 267.13M304.84 239.19L291.99 237.15M294.69 194.38L291.62 196.49M248.99 291.27L248.08 280.77M227.88 169.53L228.94 173.58M252.81 168.19L252.62 169.44M289.26 187.56L285.86 190.68M301.35 252.06L298.64 251M205.58 278.48L207.06 276.58M194.25 191.97L196.16 193.43M187.19 203.78L197.63 208.54M249.52 167.78L249.08 172.35M298.27 200.26L294.6 202.23M284.4 182.82L278.88 189.14M283.75 276.75L282.81 275.64M182.36 219.81L186.39 220.44M181.84 224.03L186.11 224.41M187.64 202.81L190.68 204.26M303.2 212.4L299.34 213.5M286.93 273.85L285.86 272.76M196.61 189.05L209.84 200.44M273.71 175.3L270.62 180.86M222.05 287.64L223.65 283.32M281.98 180.81L280.19 183.07M284.34 276.24L281.93 273.48M232.75 168.46L233.56 172.98M296.2 262.32L293.81 260.83M233.06 168.4L235.52 182.68M258.88 169.41L258.62 170.44M267.15 172.15L266.4 173.98M281.3 180.28L278.79 183.56M215.7 174.13L220.83 184.31M299.43 202.54L289.21 207.47M295.31 263.7L284.16 256.33M225.34 170.25L230.99 188.59M294.47 194.06L283.7 201.56M185.06 249.91L186.92 249.26M302.95 247.43L298.32 246.03M285.86 184.14L283.45 186.72M303.09 212.05L301.16 212.62M305.29 223.32L301.35 223.71M191.42 262.98L195.29 260.5M221.01 287.24L222.78 282.71M305.1 221.61L287.99 223.81M244.73 167.51L244.53 178.82M242.74 291.49L242.9 279.72M305.51 226.25L300.98 226.49M260.93 289.03L256.85 275M235.81 167.99L238.2 186.88M241.85 291.48L242.12 281.88M287.22 185.44L283.4 189.3M232.87 168.44L233.34 171.09M303.57 245.23L300.52 244.43M184.76 209.95L187.01 210.7M305.59 228.17L294 228.42M264.87 287.74L261.16 277.59M284.74 275.88L283.45 274.42M184.18 247.19L187.09 246.33M216.64 285.33L223.64 270.83M250.9 291.07L248.64 272.02M219.99 172.17L224.49 183.1M291.4 268.99L282.07 261.28M181.6 230.23L184.07 230.2M250.59 167.9L249.54 177.18M245.92 291.46L245.27 273.99M222.49 171.2L225.39 179.19M216.8 173.59L217.94 175.98M215.46 174.25L221.78 186.66M197.98 187.52L198.83 188.3M302.94 247.45L297.59 245.83M298.77 257.79L297.15 256.96M198.75 186.69L199.72 187.62M242.61 167.51L242.64 169.4M277.36 281.5L271.9 273.09M217.1 285.55L223.2 272.65M189.45 199.31L192.21 200.85M251.72 168.03L251.02 173.37M278.32 178.14L276.37 181.02M249.02 167.74L248.45 174.25M299.11 257.11L295.61 255.37M189.5 199.21L198.08 204.01M305.6 229.43L288.35 229.45M231.44 168.7L232.33 173.13M187.92 256.78L199.31 251.2M183.02 216.31L185.06 216.75M252.28 290.89L251.77 287.23M297 261L293.41 258.88M233.56 290.68L234.32 286.05M219.94 172.19L221.15 175.14M243.68 167.5L243.68 172.45M239.59 291.37L239.94 285.95M250.31 167.86L250.17 169.16M181.63 227.52L198.04 228.05M205.6 278.49L207.15 276.49M288.92 187.19L287.84 188.21M185.92 206.76L188.26 207.68M193.86 192.49L197.46 195.17M182.88 242.05L196.52 239.23M197.65 271.12L212.42 257.74M221.25 287.33L224.38 279.24M215.97 174L222.45 187.02M283.15 181.75L276.33 189.98M297.33 260.44L291.85 257.29M194.63 267.52L198.17 264.78M304.21 216.46L301.33 217.08M260.02 289.29L257.58 280.4M303.46 245.63L300.37 244.8M289.27 187.57L286.12 190.47M186.29 253.17L188.99 252.05M278.16 178.03L275.91 181.38M243.88 167.5L243.8 186.32M304.53 240.95L300.87 240.26M295.01 194.84L292.13 196.78M236.52 291.09L236.72 289.31M247.09 291.4L246.64 283.4M186.74 254.21L188.68 253.37M275.73 282.52L272.35 276.93M225.57 288.82L225.99 287.44M275.37 282.74L274.03 280.49M255.26 168.61L254.47 172.75M199.43 185.99L205.69 192.15M184.66 210.28L188.32 211.47M254.76 290.49L252.78 279.67M227.95 169.51L229.01 173.57M299.71 203.12L292.32 206.59M277.28 281.55L275.29 278.48M214.57 284.28L216.79 280.1M259.12 169.47L258.74 170.95M282.65 181.35L279.64 185.06M252.1 168.08L250.22 181.63M190.45 197.58L196.31 201.1M215.1 174.44L215.78 175.75M305.41 224.66L291.83 225.72M186.02 252.48L188.71 251.41M298.63 258.05L286.63 251.82M184.74 248.99L186.13 248.53M278.95 178.56L276.7 181.81" stroke="#fff" stroke-width="0.3" stroke-opacity="0.6" stroke-dasharray="0.7 0.4" fill="none"/>
<path d="M302.91 211.42L289.51 215.51M295.68 263.14L287.57 257.9M288.75 271.99L278.46 262.31M212.81 175.69L221.62 191.09M268.42 286.31L263.75 275.62M305.45 225.13L293.07 226.01M231.6 290.33L235.5 270.58M271.59 174.18L266.9 183.44M281.11 278.87L272 266.87M269 172.94L265.62 180.48M223.13 288.02L225.84 280.27M188.04 201.99L202.72 209.26M255.98 290.25L251.89 270.2M250.07 291.16L248 271.46M304.44 217.55L295.63 219.28M274.46 283.27L267.18 270.58M190.18 260.97L198.43 256.11M183.64 245.29L194.91 242.32M222.77 171.1L228.8 188.02M182.28 220.36L190.75 221.62M265.99 171.68L262.96 179.52M265.54 287.49L262.56 279.6M292.13 190.91L285.3 196.34M241.24 167.54L241.77 181.36M305.45 233.84L295.6 233.14M304.52 241L295.35 239.27M184.26 211.53L202.97 217.2M186.74 204.79L194.94 208.36M205.06 278.07L216.67 263.44M281.68 278.42L270.78 264.42M248.48 167.69L247.34 182.13M181.66 232.14L195.01 231.57M280.14 179.41L268.27 195.68M186.19 206.09L196.89 210.46M182.1 237.37L192.11 236.09M202.36 275.79L213.6 263.18M207.42 279.85L215.29 268.9M188.37 201.32L200.09 207.3M270.24 173.51L265.98 182.47M293.68 192.95L279.35 203.41M267.92 172.47L260.05 190.93M214.86 284.43L218.97 276.57M222.56 171.18L229.47 190.35M305.28 223.18L290.33 224.71M305.21 222.56L295.58 223.65M272.03 174.41L263.29 191.35M304.64 218.64L294.26 220.49M298.96 201.58L288.64 206.78M222.86 171.07L226.42 181.08M300.27 204.36L292.31 207.89M183.83 245.97L192.8 243.5M187.42 203.28L205.32 211.63M304.73 239.86L291.08 237.55M184.97 209.34L198.3 213.92M300.19 254.83L282.44 246.88M243.27 167.5L243.33 178.47M191.99 195.14L199.04 199.83M188.44 201.19L199.39 206.81M238.59 167.7L239.26 176M303.55 213.67L290.92 217.01M241.93 291.48L242.4 273.81M289.42 187.73L282.96 193.61M305.51 226.12L296.27 226.63M223.19 170.95L227.95 184.59M302.8 211.08L291.32 214.65M305.36 234.95L291.76 233.75M299.37 256.59L285.13 249.67M304.13 216.09L287.95 219.68M211.75 176.3L220.7 191.25M273.97 175.45L267.11 187.66M187.49 203.14L195.52 206.91M220.38 172.01L223.89 180.71M282.11 180.91L277.08 187.26M195.65 190.2L202.1 195.48M255.06 290.43L252.22 275.32M249.87 291.18L247.8 270.86M207.85 280.16L212.5 273.58M281.29 278.73L275.23 270.81M204.61 181.29L211.43 189.73M190.59 261.65L202.16 254.63M267.44 286.73L261.78 273.15M305.58 231.25L289.51 230.8M207.24 279.72L217.87 265.02M186.84 204.56L195.28 208.27M187.45 203.21L198.33 208.31M233.13 168.39L235.69 183.33M302.13 209.05L288.45 213.83M226.32 289.04L230.33 275.24M284.48 276.11L274.39 264.6M227.99 289.5L232.51 272.13M295.32 263.69L283.9 256.14M247.58 167.63L246.47 184.92M265.71 171.58L258.96 189.26M236.83 291.13L238.48 276.09M283.76 276.74L274.1 265.38M279.85 179.2L274.03 187.28M230.24 290.04L232.77 278.58M242.15 291.48L242.48 277.31M235.31 168.06L237.47 184.03M250.97 167.94L249.04 184.11M299.93 255.39L290.59 251.1M290.27 270.32L275.82 257.69M183.73 213.4L196.98 216.96M196.03 189.73L207.12 199M293.46 192.65L279.92 202.66M196.66 189L209.15 199.78M303.25 246.41L289.82 242.61M288.84 187.11L280.76 194.68M268.5 172.72L260.45 191.09M182.66 240.9L196.47 238.32M186.88 254.54L202.15 247.8M255.03 290.44L252.98 279.48M246.44 291.43L245.76 276.7M286.09 274.65L278.68 266.78M212.56 283.17L220.63 269.21M305.15 222.08L295.62 223.23M181.63 227.49L201.94 228.15M182.1 237.33L200.22 235.02M182.35 239.1L195.06 237.11M213.44 283.67L220.13 271.65M234.66 168.15L236.02 177.44M241.44 167.54L241.78 177.15M301.86 250.7L287.64 245.52M221.63 171.52L228.36 189.28M181.74 225.34L197.73 226.42M181.61 228.23L193.44 228.47M260.95 169.98L256.65 184.73M304.29 216.81L290.89 219.61M182 222.48L202.1 224.77M288.37 186.61L274.27 200.12M305.23 222.78L290.85 224.35M184.75 209.99L200.4 215.18M285.92 274.81L272.84 260.8M298.03 199.82L281.97 208.58M238.4 167.72L239.95 186.19M284.64 183.03L276.13 192.67M279.58 179L272.42 189.04M280.22 279.53L274.32 271.47M258.52 289.68L254.09 271.79M190.75 261.92L200.77 255.78M285.98 184.25L279.55 191.12M186.52 205.28L196.87 209.67M221.83 287.55L225.49 277.8M184.73 248.95L193.33 246.1M254.32 290.57L251.99 277.28M239.12 291.34L239.89 280.75M186.92 254.62L205.19 246.53M303.68 214.18L295.04 216.38M304.64 240.4L292.58 238.24M196.87 188.75L203.21 194.28M260.14 169.75L256.23 183.88M256.17 290.21L254.01 279.78M186.6 253.9L198.5 248.8M231.17 168.76L233.32 179.26M234.01 290.75L235.49 281.28M280.79 179.89L268.84 195.84M202.89 182.73L214.26 195.8M242.59 291.49L242.86 275.1M304.89 220.16L294.71 221.71M304.35 217.1L293.22 219.37M280.79 279.11L272.22 267.68M305.14 237.05L292.83 235.54M184.59 210.48L201.71 216M305.59 230.38L290.55 230.17M282.25 181.02L272.37 193.41M200.91 274.46L207.96 267.03M191.78 195.46L204.85 204.05M230.71 168.86L233.07 179.96M294.31 193.83L279.82 204.02M181.6 229.47L192.48 229.48M265.51 287.5L261.91 277.97M257.71 289.87L253.1 270.15M305.37 234.8L292.93 233.74M197.38 188.18L212.54 201.73M237.94 291.24L239.3 276.4M241.41 291.46L242 274.68M210.6 177.01L220.96 193.49M218.7 286.28L224.23 273.68M194.14 192.12L207.25 202.03M240.14 167.6L240.65 176.86M181.82 234.72L199.76 233.21M293.34 266.51L286.83 261.66M296.67 261.55L279.43 251.13M181.71 225.76L193.92 226.5M193.46 193.03L200.79 198.36M181.78 234.2L196.65 233.07M237.99 167.75L239.05 179.39M294.32 265.16L284.17 258.02M266.84 286.98L261.68 274.21M301.57 207.52L288.87 212.34M264.06 170.97L258.83 185.91M190.37 197.7L200.72 203.88M262.8 288.45L256.58 269.34M190.57 197.38L204.76 205.98M214.56 284.28L223.96 266.54M253.58 290.69L251.05 275.16M202.26 183.3L210.58 192.59M270.49 285.36L263.44 270.71M183.17 243.38L199.51 239.63M277.75 281.25L271.42 271.66M182.05 222.06L198.93 224.1M235.78 291.01L237.19 279.88M270.44 173.61L264.18 186.65M209.83 177.51L220.09 193.31M181.62 231.19L194.91 230.83M198.02 187.47L211.99 200.36M301.68 251.2L287.91 246.06M290.26 270.32L282.42 263.46M247.62 291.37L246.92 280.59M223.56 170.83L230.1 189.97M305.53 232.43L295.46 231.95M302.28 209.49L283.85 215.77M298.05 259.15L281.98 250.4M242.03 167.52L242.35 179.82M192.05 195.06L199.79 200.23M260.39 169.82L255.94 185.63M301.23 252.35L291.11 248.34M241.18 291.45L241.88 273.55M265.6 287.47L260.32 273.55M181.69 226.24L190.83 226.72M240.36 291.42L240.8 282.96M302.95 211.57L293.81 214.33M299.59 202.87L281.96 211.25M250.77 167.92L249.14 181.88M272.01 174.39L268.29 181.62M215.95 174.01L222.32 186.79M195.33 190.59L207.68 200.55M215.61 284.82L223.55 269.12M245.56 167.53L245.22 178.13M187.58 256.07L206.03 247.32M301.57 207.51L289.46 212.1M187.44 255.76L201.16 249.34M181.97 236.28L190.51 235.34M305.54 226.83L289.11 227.54M181.67 232.5L197.94 231.71M185.23 208.59L202.21 214.67M243.97 167.5L243.9 179.31M270.55 173.67L266.41 182.26M182.35 239.13L195.03 237.14M201.58 183.91L207.23 190.04M261.1 288.98L255.4 269.6M289.95 270.68L277.58 259.7M198.1 187.38L211.34 199.64M299 257.34L286.86 251.24M182.17 221.11L196.67 223.09M271.51 284.86L262.58 267.16M305.56 231.7L288.87 231.11M292.73 267.32L280.19 257.67M181.65 227.08L200.75 227.82M185.11 208.95L198.57 213.68M213.75 283.84L221.74 269.3M181.61 228.18L201.14 228.6M249.96 167.83L249.11 176.07M228.25 169.43L232.21 184.94M278.61 178.33L271.96 188.04M291.46 190.09L282.27 197.66M291.62 190.29L278.39 201.09M293.91 193.27L282.81 201.26M265.28 171.41L260.76 183.54M305.48 233.29L290.77 232.39" stroke="#fff" stroke-width="0.28" stroke-opacity="0.55" fill="none"/>
<path d="M305.35 235.07L293.13 233.97M293.34 266.52L277.36 254.63M239.99 167.61L240.67 179.25M181.73 233.5L192.3 232.82M300.78 253.46L284 246.43M182.21 238.16L199.34 235.74M246.5 291.43L245.81 276.78M263.25 170.69L257.88 186.75M195.74 268.92L206.48 260.07M292.92 191.94L282.8 199.64M185.25 208.53L195.55 212.23M207.61 279.98L218.1 265.27M181.6 229.74L195.5 229.68M186.47 253.59L197.73 248.84M305.02 237.96L288.47 235.68M283.52 182.07L273.62 193.83M186.62 253.94L196.19 249.84M260.84 169.94L255.68 187.74M184.15 211.92L203.48 217.64M283.44 182L271.34 196.43M218.36 286.13L224.8 271.69M299.65 203L287.16 208.91M301.23 206.63L291.74 210.39M184.32 247.68L194.87 244.44M276.05 176.67L266.51 192.2M188.87 200.36L198.64 205.56M265.44 287.53L261.35 276.67M295.4 263.58L283.02 255.44M304.25 242.38L290.96 239.56M259.51 289.43L255.01 272.48M302.76 210.95L291.54 214.46M258.18 289.76L255.1 277.04M305.34 223.81L293.77 224.88M187.07 204.04L203.89 211.61M285.06 183.4L273.78 195.94M265.88 287.36L262.04 277.39M271.91 174.34L262.55 192.58M281.88 180.73L272.35 192.87M184.35 247.75L201.43 242.49M183.72 245.58L194.15 242.78M285.73 274.99L278.14 266.8M182.72 241.24L200.71 237.77M305.22 222.65L289.18 224.44M305.6 228.8L291.74 228.95M300.89 205.8L288.47 210.94M294.06 193.47L285.8 199.37M281.37 278.67L269.98 263.85M198.75 272.3L211.01 260.6M256.89 290.06L254.36 278.55M305.56 231.73L294.55 231.33M205.64 278.52L212.8 269.27M189.87 260.43L198.79 255.3M182.19 238.06L194.67 236.32M296.37 196.95L283.77 204.72M304.59 218.33L286.63 221.62M192.15 264.1L204.43 255.85M230.48 290.1L234.3 272.46M192.82 265.07L204.69 256.76M222.35 287.74L227.35 274.03M197.55 271.02L211.29 258.64M182.1 221.65L201.94 224.18M252.76 168.18L251.17 178.8M284.29 182.72L271.18 197.78M287.97 272.81L277.1 262.2M262.97 288.4L258.31 274.24M189.04 258.95L203.61 251.09M303.49 213.45L288.88 217.37M193.11 193.52L205.15 202.1M258.97 289.56L255.74 276.93M277.33 281.52L269.68 269.71M300.89 205.8L285.81 212.04M269.37 173.11L264.14 184.56M249.85 167.82L247.99 186.21M270.39 285.41L264.34 272.79M197.43 188.12L210.76 200.07M305.59 228.52L288.96 228.78M304.88 238.95L291.23 236.85M279.78 179.15L270.82 191.63M195.69 268.85L205.5 260.8M291.42 268.97L281.69 260.94M186.99 254.78L204.98 246.75M194.81 191.25L208.97 202.35M184.65 210.28L198.18 214.69M301.29 252.21L283.28 245.12M235 168.1L237.43 185.47M305.59 230.41L294.94 230.25M196.18 269.44L204.46 262.47M193.91 192.42L203.45 199.53M304.58 240.7L293.61 238.68M182.56 218.64L194.25 220.72M297.89 199.56L285.84 206.21M286.89 185.12L279.4 192.81M212.59 175.81L219.75 188.21M305.6 228.93L293.76 229.04M181.78 234.23L192.08 233.44M239.15 291.34L240.19 276.8M228.69 289.68L231.99 276.38M212.3 175.98L217.63 185.11M181.67 226.53L193.25 227.08M264.28 171.05L260.59 181.48M304.96 238.38L290.05 236.23M305.39 224.46L293.62 225.42M289.42 187.73L275.74 200.19M206.83 179.58L214.55 190.06M181.77 224.96L198.73 226.21M193.71 192.69L209.5 204.34M215.24 284.64L220.96 273.53M279.3 280.19L270.42 267.57M268.68 172.8L263.38 184.79M281.21 180.21L270.55 194.18M305.38 224.23L293.78 225.22M304.3 242.11L288.18 238.76M184.72 248.93L197.89 244.59M286.14 274.6L279.03 267.06M253.72 290.67L251 274.25M223.73 288.23L229.07 272.45M224.72 288.56L230.4 270.79M197.03 188.57L208.48 198.63M194.39 191.78L203.7 198.92M299.94 203.61L282.29 211.73M298.66 258.01L286.27 251.59M285.52 183.82L274.66 195.65M182.59 240.55L193.22 238.62M303.59 245.14L293.41 242.48M271.68 284.78L266.05 273.7M211.08 282.28L220.07 267.69M271.85 284.69L264.94 271.19M233.3 168.36L236.14 185.2M280.58 179.74L269.75 194.32M258.88 289.59L254.12 270.88M292.24 191.05L280.47 200.35M234.25 168.21L237.01 186.31M190.62 197.3L207.35 207.47M196.7 188.95L209.57 200.08M265.6 171.54L259.31 188.11M245.76 291.46L245.38 280.64M290.45 188.89L275.5 201.84M245.28 167.52L244.95 179.86M185.47 207.94L204.34 214.94M305.33 223.67L285.21 225.57M203.8 277.04L213.25 265.74M246.36 291.44L245.7 276.65M219.71 286.71L224.07 276.28M187.87 202.33L200.63 208.55M290.47 270.09L281.41 262.25M301.87 208.31L286.67 213.84M212.91 175.63L218.77 185.91M181.6 229.74L200.69 229.67M224.68 288.54L230.55 270.21M206.92 179.51L216.81 192.99M182.39 219.64L196.94 221.98M286.06 184.32L276.15 194.86M258.49 289.69L255.49 277.54M303.79 214.62L289.79 218.08M229.07 169.23L233.86 189.08M297.3 198.5L280.98 207.92M303.24 246.45L289.51 242.55M202.07 183.46L213.53 196.16M198.44 187.02L206.52 194.63M250.14 291.15L248.84 278.92M181.74 233.71L192.07 233.01M269.35 285.9L262.12 270.05M192.4 264.46L205.67 255.4M243.57 167.5L243.57 179.38M225.91 288.92L229.33 277.46M304.65 240.32L288.19 237.4M210.17 281.72L217.97 269.53M277.08 177.32L269 189.92M222.2 287.69L228 271.92M200.08 273.66L209.13 264.47M213.6 283.76L221.82 268.88M302.88 247.66L284.87 242.14M294.09 193.51L277.46 205.36M227.63 169.59L232.9 189.38M247.89 167.65L246.9 181.9M277.68 177.71L268.01 192.39M212.15 282.93L221.07 267.77M182.74 241.35L192.68 239.41M194.11 192.16L210.06 204.19M202.95 276.32L211.39 266.6M224.33 170.57L229.2 185.47M208.16 178.63L217.57 192.13M236.74 167.88L238.47 183.42M305.59 228.22L295.42 228.43M283.65 182.17L275.5 191.81M302.29 249.49L283.73 243.17M290 188.38L280.34 196.94M216.89 285.45L223.33 271.95M263.82 288.11L260.45 278.37M289.19 187.48L279.57 196.34M195.72 190.11L208.6 200.71M182.86 217.08L194.26 219.41M231.48 168.7L235.13 187.05M267.98 286.51L260.08 268.03M252.49 290.86L250.57 277.58M182.31 238.83L193.78 237.08M184.58 248.5L195.89 244.86M215.88 174.04L223.34 188.98M198.12 187.36L212.31 200.51M189.4 259.61L203.49 251.78" stroke="#fff" stroke-width="0.3" stroke-opacity="0.5" stroke-dasharray="0.5 0.6" fill="none"/>
<radialGradient id="h4" gradientUnits="userSpaceOnUse" cx="243.6" cy="229.5" r="31.5"><stop offset="0.34" stop-color="#1010ff" stop-opacity="0"/><stop offset="0.39" stop-color="#1010ff" stop-opacity="0.5"/><stop offset="0.48" stop-color="#1010ff" stop-opacity="0.6"/><stop offset="0.6" stop-color="#1010ff" stop-opacity="0.68"/><stop offset="0.73" stop-color="#1010ff" stop-opacity="0.76"/><stop offset="0.86" stop-color="#1010ff" stop-opacity="0.86"/><stop offset="0.95" stop-color="#1010ff" stop-opacity="0.93"/><stop offset="1" stop-color="#1010ff" stop-opacity="0.95"/></radialGradient>
<circle cx="243.6" cy="229.5" r="21" fill="none" stroke="url(#h4)" stroke-width="20"/>
<path d="M274.03 224.77L260.3 226.9M215.04 217.97L223.33 221.32M248.73 199.13L247.61 205.77M226.64 255.21L233.27 245.15M219.28 210.61L222.47 213.08M218.09 246.76L223.56 243.06M273.4 237.27L260.31 233.86M258.1 256.68L253.83 248.68M217.6 246.02L230.51 237.82M237.21 199.37L238.73 206.51M249.76 259.68L248.75 254.75M273.69 236.08L262.79 233.7M249.89 259.65L248.43 252.66M218.56 247.44L231.01 238.52M272.26 240.78L264.54 237.74M230.85 257.54L237.9 242.03M223.01 252.4L226.81 248.18M258.47 256.48L255.34 250.8M263.14 253.31L256.46 245.16M260.76 255.08L256.92 249.35M272.16 217.96L266.68 220.17M243.04 260.29L243.13 255.42M273.98 224.43L258.62 226.99M271.04 215.5L257.25 222.53M232.72 258.32L235.23 251.67M264.7 251.94L261.2 248.23M213.52 222.88L219.9 224.29M240.77 260.17L242.15 245.23M227.1 255.51L231.4 248.73M215.39 241.86L229.57 235.65M241.9 260.25L242.39 251.33M230.3 257.28L232.54 252.62M213.41 223.41L224.25 225.6M269.23 212.42L264.87 215.33M214.59 219.14L230.46 224.81M262.16 254.08L259.72 250.85M237.85 199.24L238.64 203.39M238.71 199.09L240.27 208.77M223.63 206.05L227.38 210.46M237.03 259.59L239.27 249.33M222.11 207.44L234.5 220.16M266.13 208.5L256.51 217.47M260.37 203.67L251.47 217.37M237.69 199.27L239.44 208.21M244.95 260.27L244.61 252.51M233.44 258.58L235.76 251.94M271.85 241.76L267.2 239.74M212.85 231.25L217.1 231.01M263.44 205.94L260.58 209.33M228.08 256.1L230.34 252.23M269.26 212.46L260.06 218.57M214.66 218.95L228.21 223.89M213.75 221.9L227.69 225.45M220.87 208.71L228.55 215.73M221.88 251.33L225.55 247.64M250.29 199.44L247.07 213.92M247.8 260.01L246.09 247.55M213.12 225.06L219.75 226.02M212.86 231.47L218.21 231.13M237.55 199.3L240.3 213.03M263.63 206.1L260.35 209.94M220.11 249.43L225.76 244.64M214.27 220.1L226.07 223.88M231.87 201.02L234.1 206.43M256.87 201.71L250.02 216.05M222.06 251.51L226.63 246.84M273.05 238.51L268.37 237.07M223.07 252.46L228.55 246.33M273.85 235.31L263.66 233.36M217.98 246.59L225.64 241.48M267.45 248.98L255.27 239.03M223.35 252.7L232.42 242.31M213.45 235.79L217.69 234.9M218.58 211.54L223.7 215.21M238.07 259.8L240.23 247.97M242.21 198.73L242.83 212.33M225.19 254.19L228.6 249.63M273.69 236.09L262.65 233.67M222.51 251.94L233.13 240.64M217.45 213.23L231.88 222.21M214.17 238.59L230.12 233.66M214.61 219.11L222.21 221.84M224.68 253.8L232.09 244.28M213.21 234.5L224.01 232.72M271.77 217.06L261.93 221.4M273.64 236.28L268.52 235.12M214.08 220.71L221.49 222.92M231.61 201.13L237.81 215.79M213.85 237.46L218.86 236.12M273.67 222.84L269.71 223.72M238.58 199.11L240.52 210.86M271.51 242.53L261.27 237.75M214.76 218.68L228.1 223.69M213.52 236.14L226.49 233.27M262.33 205.05L259.68 208.51M265.92 208.27L259.1 214.76M272.96 220.19L262.53 223.5M212.9 227.04L218.78 227.51M253.64 258.62L248.68 244.23M266.91 209.37L260.55 214.86M213.24 224.32L217.44 225.04M250.28 259.57L249.33 255.29M231.9 257.99L233.52 254.04M251.75 259.2L250.65 255.18M226.54 255.14L234.32 243.44M274.27 232.34L267.61 231.72M243.82 260.3L243.76 251.88M272.84 219.83L268.21 221.36M266.32 250.29L253.59 238.64M271.32 242.93L263.25 239.02M269.56 212.93L259.46 219.38M212.87 227.43L229.6 228.56M271.84 217.2L266.72 219.43M273.9 223.95L269.46 224.76M215.72 242.58L224.3 238.56M236.43 199.55L237.63 204.55M270.99 243.58L266.25 241.14M258.47 256.47L256.29 252.51M266.31 250.3L259.54 244.1M250.59 199.5L248.78 207.3M273.93 224.15L269.42 224.95M271.02 243.53L265.29 240.6M223.35 206.29L230.23 214.18M231.45 201.2L233.82 206.72M248.41 199.08L246.91 208.56M231.96 258.01L234.52 251.75M269.59 212.97L266.19 215.13M217.66 246.11L229.19 238.73M252.99 200.17L249.12 212.25M222.94 206.65L227.75 211.97M237.46 199.32L240.84 215.9M217.12 213.77L222.38 216.89M255.92 201.27L252.72 208.61M262.37 205.08L252.24 218.26M238.07 259.8L239.59 251.47M251.06 259.38L250.04 255.32M214.83 218.51L227.12 223.21M258.27 202.42L255.07 208.32M219.5 210.32L232.84 220.94M225.17 204.82L232.69 214.89M259.26 256.02L250.41 241.03M261.78 254.36L256.61 247.3M260.92 204.03L252.06 217.06M259.04 256.15L251.11 242.46M216.98 214L223.19 217.62M233.07 258.44L236.73 248.4M269.05 212.15L261.59 217.23M272.71 239.56L258.87 234.78M271.41 242.75L266.47 240.39M226.92 203.6L236.29 218.14" stroke="#0000ff" stroke-width="0.35" stroke-opacity="0.75" fill="none"/>
<path d="M218.08 212.26L222.61 215.32M274.39 230.32L269.89 230.2M271.53 242.49L257.08 235.77M212.82 228.47L220.09 228.71M219.8 209.96L232.45 220.34M258.1 202.32L256.02 206.23M234 200.23L238.35 213.5M235.33 199.83L236.87 205.36M214.35 219.85L227.9 224.32M238.21 259.82L240.47 247.13M252.49 200.01L250.78 205.67M230.25 257.26L237.01 243.2M269.77 213.26L265.16 216.12M212.83 230.82L220.19 230.5M216.07 215.69L229.47 222.41M274.19 225.95L265.78 226.93M258.93 202.79L256.31 207.35M274.39 228.71L261.88 229.03M243.98 198.7L243.82 212M270.22 214.01L257.45 221.44M227.27 255.61L235.88 241.85M239.54 198.97L241.5 213.72M221.38 250.83L232.48 240.17M257.38 257.04L253.83 249.95M240.54 260.15L242.02 245.31M269.51 246.15L260.79 240.55M255.98 257.7L254.33 253.96M216.85 244.77L221.46 242.14M212.85 231.22L217.48 230.96M212.81 228.62L216.85 228.74M265.29 207.63L261.64 211.31M213.96 237.86L223.31 235.22M272.69 219.39L259.3 224.04M271.73 216.96L264.79 220.05M220.93 250.35L226.85 244.91M227.34 255.66L233.59 245.6M221.39 208.16L225.03 211.66M255.68 257.83L252.25 249.79M229.53 202.1L233.16 209.18M244.05 198.7L243.97 204.24M268.44 211.29L255.6 220.7M217.96 212.44L230.18 220.57M270.28 244.89L263.57 241.02M273.44 237.11L259.05 233.44M262.05 254.17L251.81 240.48M260.91 204.02L256.03 211.21M214.26 220.12L223.78 223.16M260.51 255.24L258.3 251.87M237.98 259.78L240.3 247.29M254.48 258.32L251.72 251.01M242.52 260.28L243.13 243.01M264.26 206.65L252.36 219.81M272.99 220.28L256.6 225.42M268.65 247.43L261.57 242.36M234.29 200.14L237.76 211.09M262.96 205.54L254.15 216.45M270.28 214.11L266.53 216.27M272.03 241.36L266.07 238.87M219.11 210.83L229.45 218.72M243.37 198.7L243.43 207.63M230.18 201.78L235 211.73M252.52 200.02L251.12 204.63M218.69 211.39L231.71 220.85M244.77 198.72L244.59 203.54M213.53 222.85L222.72 224.88M274.36 231.16L270.14 230.94M227.08 255.49L232.33 247.24M227.5 255.75L230.57 250.75M239.91 198.92L241.49 211.99M251.37 199.7L249.78 205.78M273.67 222.85L269.66 223.74M234.74 259L238.68 245.88M260.99 254.92L256.35 248.14M263.28 253.19L252.48 240.19M270.67 244.19L261.63 239.29M216.15 243.47L223.93 239.52M223.11 206.51L228.57 212.64M213.7 236.88L218.88 235.6M272.58 239.94L259.86 235.36M231.69 201.1L237.37 214.64M251.71 199.79L248.64 211.03M266.21 250.41L262.54 247.02M225.77 254.61L233.8 243.3M245.87 260.22L245.33 252.81M227.84 255.96L230.85 250.9M273.7 236.04L260.63 233.2M214.93 218.26L221.72 220.92M212.82 230.64L220.54 230.35M274.37 230.92L267.15 230.58M256.71 257.37L249.69 242.46M243.38 260.3L243.44 251.77M246.23 198.81L245.74 204.54M255.22 200.98L250.54 212.48M230.17 201.78L234.03 209.75M215.59 216.69L225.1 221.04M248.07 259.97L246.16 246.96M260.75 255.08L257.33 249.97M222.67 252.1L225.56 248.98M245.27 260.25L244.45 245.17M251.08 199.62L248.35 210.52M273.27 237.76L267.65 236.2M221.49 208.06L226.4 212.83M221.12 250.56L227.85 244.26M219.8 249.06L227.84 242.45M268.28 211.07L264.99 213.52M222.12 207.42L226.02 211.43M221.7 251.16L228.7 244.24M222.87 206.72L226.74 210.97M213.51 222.92L229.91 226.51M225.98 204.24L230.98 211.41M226.5 255.12L233.5 244.63M264.38 206.76L261.62 209.78M260.73 203.91L251.87 217.15M220.31 249.66L225.13 245.49M273.18 238.09L263.96 235.41M213.42 235.66L229.39 232.4M269.74 213.2L264.7 216.34M238.65 199.1L239.72 205.67M260.78 203.94L255.29 212.12M261.28 254.72L255.48 246.45M271.62 242.28L266.05 239.74M212.84 231.05L229.87 230.19M244.14 260.3L244.04 254.85M217.74 246.24L230.73 237.83M237.28 199.35L239.29 208.94M212.83 228.24L224.87 228.73M245.91 198.79L245.14 209.02M258.49 202.54L254.28 210.17M256.79 257.33L254.01 251.47M215.39 241.87L228.95 235.92M272.7 239.6L256.43 233.95M247.63 260.04L246.64 252.56M215.59 242.31L227.21 237M245.57 260.24L245.18 254.17M274.25 232.54L258.51 230.98M216.81 244.7L229.44 237.53M213.63 222.39L225.69 225.25M274.01 224.64L269 225.44M237.23 259.63L240.83 242.6M239.89 260.08L241.11 250.04M212.86 227.64L220.2 228.08M272.49 240.17L264.55 237.23M271.54 216.53L265.12 219.51M232.57 258.26L234.5 253.23M269.13 246.72L262.57 242.29M231.26 257.72L235.15 248.83M218.55 247.42L231.7 238.01M270.05 245.29L263.15 241.17M233.54 200.39L236.45 208.8M246.61 198.85L245.44 210.79M236.66 259.51L237.63 255.32M236.17 259.39L237.15 255.47M219.43 210.41L229.45 218.33M223.15 252.53L228.16 246.89M252.84 200.12L250.67 207.01M238.86 259.93L240.88 246.94M220.77 250.18L229.89 241.92M245.84 198.78L244.78 213.34M271.93 241.59L262.73 237.66M270.58 244.35L262.23 239.76M267.32 249.14L261.26 244.13M234.12 258.81L238.63 244.88M261.12 254.83L258.42 250.93M252.7 258.92L250.2 250.84M255.43 201.06L253.73 205.14M272.96 238.82L267.9 237.21M272.87 239.1L267.95 237.49M267.35 249.12L257.1 240.65M212.8 229.92L223.75 229.77M240.56 260.15L241.16 254.06" stroke="#0000ff" stroke-width="0.35" stroke-opacity="0.8" fill="none" stroke-dasharray="0.5 0.3"/>
<path d="M237.34 199.34L238.89 206.83M225.77 254.61L234.37 242.51M213.74 237.06L219.25 235.67M274.36 227.9L262.44 228.52M215.22 241.48L218.98 239.89M212.83 230.78L220.52 230.46M255.87 201.25L254.24 204.99M274.14 233.48L269.37 232.86M271.84 217.21L255.79 224.19M247.97 199.01L246.27 210.86M229.84 257.05L236.93 242.85M215.73 216.38L224.29 220.41M225.81 204.36L229.51 209.59M255.56 257.88L248.9 242.07M233.66 258.65L235.64 252.86M262.87 253.53L255.81 244.73M224.67 205.21L227.86 209.31M223.44 206.21L230.75 214.65M248.15 199.04L247.39 204.15M247.13 260.1L246.18 251.89M222.22 251.67L233.77 239.7M223.1 252.48L233.82 240.47M214.05 220.8L225.19 224.08M225.04 204.92L234.31 217.19M271.32 242.92L258.62 236.77M213.75 221.91L219.67 223.42M236.44 259.46L239.42 246.99M238.4 199.14L240.12 209.15M271.06 215.56L257.15 222.62M242.95 198.71L243.18 209.75M242.29 198.73L242.74 209.33M228.11 202.88L230.16 206.41M215.43 217.05L222.66 220.24M247.56 198.96L245.5 214.82M245.08 260.26L244.71 252.57M214.94 218.21L221.1 220.64M212.94 226.53L224.37 227.63M264.92 251.73L260.3 246.91M212.81 228.92L217.81 229.01M261.18 254.79L256.25 247.7M269.33 212.58L255.91 221.4M253.98 200.5L248.45 215.93M273.68 222.88L261.28 225.61M212.85 231.22L218.28 230.91M238.87 259.93L239.77 254.17M235.82 199.7L237.23 205.09M272.43 240.34L267.83 238.61M232.74 200.68L236.18 209.81M274.16 233.35L257.68 231.27M268.8 247.2L264.93 244.49M215.72 216.42L226.05 221.27M216.23 215.38L220.54 217.61M242.84 260.29L243.21 245.05M262.42 205.12L254.2 215.77M268.81 211.81L264.8 214.63M217.69 246.15L221.13 243.94M213.53 222.84L224.15 225.2M265.34 251.32L257.02 242.97M263.85 252.71L254.32 241.79M270.58 244.35L266.86 242.3M218.47 247.31L222.97 244.12M218.23 246.97L226.98 240.94M273.98 234.59L269.77 233.89M224.55 205.3L228.68 210.55M266.02 250.62L258.88 243.89M262.69 205.33L255.61 214.3M273.74 235.85L269.6 234.98M234.56 200.06L237.38 209.23M253.87 200.46L249.77 212.07M237.35 259.66L238.89 252.24M217.37 245.65L224.7 241.14M218.63 211.47L232.27 221.32M274.1 225.22L262.23 226.88M273.1 238.35L268.69 237.02M223.03 252.42L232.47 241.9M213.83 237.4L224.45 234.58M215.18 241.37L225.45 237.08M220.63 250.02L224.61 246.47M214.2 238.67L226.89 234.71M273.99 234.49L257.79 231.83M249.91 259.65L246.4 242.89M262.69 253.67L252.55 240.83M244.75 260.28L244.5 253.59M274.39 230.16L262.8 229.91M215.1 217.83L224.76 221.78M265.47 207.81L260.71 212.53M223.82 205.89L232.9 216.73M266.45 208.84L255.78 218.49M271.33 216.09L266.24 218.56M216.31 215.23L228.23 221.46M274.37 230.78L269.22 230.57M272.57 239.97L264.04 236.89M243.02 198.71L243.32 214.63M255.68 257.83L252.6 250.61M264.52 252.1L253.03 239.69M228.84 202.46L236.79 217.02M262.28 253.99L252.62 241.33M228.3 202.77L231.59 208.5M236.99 259.58L238.99 250.47M273.53 222.22L266.98 223.81M239.93 260.08L242.03 242.58M249.03 259.82L247.77 252.79M218.84 211.19L229.67 219.2M215.68 242.5L224.91 238.2M238.61 259.89L239.87 252.19M240.84 198.82L241.52 206.38M273.5 236.9L256.5 232.69M220.85 208.74L232.32 219.21M240.9 260.18L241.44 254.04M271.87 217.28L263.28 221M228.76 256.49L233.06 248.68M272.63 239.79L256.18 233.96M256.68 201.62L253.48 208.43M214.41 219.68L225 223.25M217.49 213.17L231.61 222M217.81 246.34L224.18 242.18M214.73 240.24L227.48 235.5M212.91 226.84L227.8 228.13M222.99 206.62L230.75 215.23M221.41 250.86L227.24 245.25M266.61 249.97L255.21 239.83M230.65 257.45L237.14 243.45M263.24 253.23L257.44 246.21M273.85 223.72L265.32 225.35M213.49 235.97L224.73 233.55M243.58 260.3L243.59 245.93M213.72 222.04L222.47 224.22M271.66 242.2L267.86 240.48M265.91 208.26L262.44 211.57M250.86 259.43L247.49 245.54M225.88 204.31L231.52 212.32M274.24 232.6L258.19 230.97M213.8 221.73L221.63 223.77M243.21 260.3L243.28 254.77M258.61 256.39L250.97 242.71M231.98 200.98L234.57 207.34M221.07 208.5L233.79 220.36M242.47 198.72L242.85 209.23M213.25 234.75L230.8 231.71M215.98 215.86L232.06 223.8M227.43 255.71L231.21 249.58M247.3 260.08L246.7 255.05M237.13 199.39L238.88 207.54M273.33 237.56L256.05 232.88M216.8 214.33L220.41 216.37M273.13 238.25L261.81 234.9M259.85 255.67L256.86 250.86M271.35 216.13L266.74 218.36M213.6 236.48L224.14 234.03M217.08 213.84L231.27 222.22M267.17 209.67L261.51 214.43M237.96 199.22L240.44 212.51M242.37 260.28L242.83 248.69M251.14 259.36L249.01 250.93M268.78 247.24L264.72 244.38M212.81 228.81L228.92 229.17M214.79 218.61L225.65 222.71M213.01 225.93L217.93 226.5M242.75 260.29L242.96 252.63M246.64 260.15L245.36 247.21M231.8 201.05L234.31 207.09M214.83 240.48L220.99 238.13M272.53 240.07L260.44 235.65M212.89 227.13L217.03 227.45M216.89 214.15L228.55 220.85M244.11 260.3L243.96 251.15M272.81 219.74L264.79 222.42M219.51 248.7L225.72 243.75M258.88 202.76L255 209.54M267.07 249.45L261.03 244.32" stroke="#0000ff" stroke-width="0.35" stroke-opacity="0.8" fill="none" stroke-dasharray="0.3 0.4"/>
<path d="M252.35 221.43L262.88 211.73M236.09 238.73L225.35 251.95M243.43 217.6L243.33 210.65M254.18 224.06L260.38 220.88M232.99 224.1L221.44 218.23M245.61 241.23L247.22 250.57M233.97 222.51L222.67 214.32M239.05 240.5L236.66 246.3M248.45 218.63L252.23 210.15M232.47 233.71L222.85 237.36M235.86 238.54L224.57 251.75M254.59 234.06L267.8 239.53M232.78 234.46L220.15 240.24M253.42 222.78L262.1 216.83M251.06 238.77L259.75 249.59M247.31 218.19L252.07 203.7M236.08 238.72L231.5 244.34M232.39 225.52L221.92 221.81M233.88 236.37L221.14 245.38M244.22 217.62L244.9 204.68M255.46 230.45L267.59 231.43M252.05 221.12L259.68 213.55M237.69 239.83L230.73 252.01M253.35 236.32L262.85 242.96M239.45 218.35L234.12 204.02M253.71 223.22L265.09 216.15M231.72 230.24L216.45 231.19M249.78 219.33L258.71 204.62M243.31 241.4L242.97 254.91M255.09 232.61L266.3 235.64M235.25 237.98L229.81 243.5M231.73 230.32L217.78 231.29M232.49 225.23L218.52 219.85M253.78 235.66L263.87 241.78M244.82 241.34L245.78 250.74M254.23 224.16L261.26 220.63M254.37 234.57L260.27 237.35M235.54 238.26L224.49 250.26M234.53 221.8L225.87 214.44M238.16 240.08L234.96 246.3M236.47 239.03L228.32 249.92M241.57 241.23L239.6 252.66M242.45 217.66L241.08 203.54M236.44 239L227.11 251.38M234.46 221.88L227.88 216.39M234.49 221.84L225.94 214.64M235.41 238.13L229.39 244.47M239.37 240.62L235.12 251.82M244.81 217.66L245.65 209.49M235.83 220.49L226.87 210.11M236.55 219.91L230.77 212.03M255.48 230.21L267.42 230.92M234.46 237.12L229.19 241.51M233.99 222.48L227.4 217.67M255.45 230.55L269.33 231.78M248.62 240.29L253.08 249.89M252.09 221.16L261.15 212.25M254.92 225.84L269.32 221.19M236.06 238.71L229.56 246.65M233.86 222.66L225.78 216.98M254.12 223.93L263.35 219.04M231.71 230.05L213.26 230.91M231.75 228.45L214.61 226.94M247.57 240.72L253.17 256.55M254.76 233.64L269.55 239.13M246.75 218.02L249.82 206.82M254.55 224.83L270.28 218.12M255.17 226.73L266.81 223.94M252.98 236.83L267.33 248.05M242.06 241.3L239.95 257.56M251.24 238.63L258.72 247.57M231.72 230.22L214.01 231.29M250.5 219.8L258.98 207.88M255.3 231.68L266.55 233.78M247.94 240.58L253.2 254.03M237.97 219.02L230.25 204.63M247.49 240.75L252.68 255.78M242.42 217.66L240.63 199.58M245.33 217.73L246.87 207.17M254.14 235.02L268.93 242.77" stroke="#fff" stroke-width="0.35" stroke-opacity="0.6" fill="none"/>
<path d="M240.51 218.01L236.27 202.19M254.25 234.82L270.61 242.99M250.82 220.04L259.21 209.07M238.26 240.13L232.39 251.81M247.61 240.71L253.16 256.25M255.19 232.2L267.13 234.98M253.42 236.22L265.26 244.32M237.76 239.87L231.08 251.72M240.33 218.06L236.46 204.53M240.24 240.92L237.28 251.02M233.32 235.5L222.78 241.65M254.08 235.15L269.62 243.52M255 226.1L267.57 222.35M254.48 234.33L263.86 238.49M232.17 226.2L220.93 222.96M251.31 238.57L261.71 250.8M255.4 231.07L271.08 233.17M236.5 219.95L230.05 211.27M238.63 218.69L233.93 208.49M249.07 218.93L256.38 204.83M231.95 231.93L219.57 234.52M243.33 241.4L242.97 257.57M242.65 217.64L241.83 207.3M242.62 241.36L241.23 258.05M253.74 235.73L268.91 245.06M245.68 217.78L247.82 205.78M232.83 234.56L218.52 241.29M232.83 224.45L221.78 219.27M245.53 241.24L248.2 257.44M248.58 218.69L254.07 206.77M232.17 226.2L216.31 221.63M235.19 221.08L222.7 208.56M233.6 235.95L222.11 243.38M238.89 240.43L233.13 253.77M252.06 237.86L260.36 246.06M252.86 222.02L266.94 210.66M255.14 226.59L272.76 222.15M244.29 241.38L244.9 252M253.27 236.44L262.24 242.88M239.47 240.66L235.38 251.68M255.49 229.9L269.56 230.38M253.21 222.48L265.62 213.42M231.82 231.2L221.34 232.71M245.34 217.73L247.88 200.53M238.17 240.09L233.32 249.56M235.77 220.54L228.96 212.76M252.79 221.94L263.76 212.9M231.82 227.82L213.47 225.22M231.98 226.95L217.5 223.78M247.51 218.26L251.06 208.08M234.38 221.98L226.44 215.51M234.75 221.54L222.09 210.15M248.82 218.8L256.55 202.94M254.28 224.25L265.22 218.87M255.16 232.33L269.56 235.85M255.36 227.68L271.68 225.15M233.07 235.05L223.65 240.02M254.93 225.86L266.4 222.18M255.25 227.07L271.13 223.76M237.78 219.12L230.2 205.58M249.05 218.92L254.9 207.55M254.83 233.44L268.11 238.09M231.7 229.32L216.81 229.09M252.86 222.03L263.57 213.4M231.92 231.8L214.78 235.18M231.77 230.81L214.59 232.71M252.08 221.15L264.55 208.85M253.23 236.48L263.57 243.98M232.17 226.17L217.23 221.82M232.22 226.03L220.1 222.33M245.8 241.19L248.98 258.11M232 232.16L219.47 235.05M253.42 222.77L263.41 215.92M233.37 235.58L223.6 241.38M248.87 218.83L253.37 209.7M232.99 224.12L217.26 216.13M251.89 238.04L260.28 246.67M251.06 238.77L262.3 252.76M253.47 236.15L267.39 245.52M242.53 241.35L241.25 255.62M232.49 233.76L218.59 239.1M235.95 220.39L225.75 208.24M233.33 223.5L220.5 216M232.48 233.73L216.23 239.92M239.92 240.82L236 252.89M238.33 240.17L232.42 252.11M231.98 226.92L220.19 224.31M255.41 228.04L273.73 225.77M232.61 234.06L215.46 241.19M231.96 231.97L219.46 234.62M235.51 220.78L224.16 208.55M253.08 236.7L266.36 246.79M254.11 223.92L269.51 215.73M241.83 241.27L239.29 258.11M238.16 218.92L229.98 203M253.87 235.51L265.73 242.44M239.05 218.51L235.04 208.83M255.47 230.36L270.8 231.48M238.06 240.03L229.54 256.24M238.59 240.29L233 252.32M240.56 241L236.22 257.4M250.62 239.11L257.41 248.39M232.01 232.19L214.6 236.23M231.84 227.67L215.9 225.2M254.09 235.11L267.4 242.22M232.31 233.26L217.43 238.22M255.4 231.06L273.51 233.45M249.72 239.71L257.27 252.28M232.38 233.47L221.81 237.21M231.8 231.01L218.43 232.72" stroke="#fff" stroke-width="0.3" stroke-opacity="0.55" stroke-dasharray="0.5 0.4" fill="none"/>
<path d="M233.02 224.04L219.29 216.96M246.38 217.93L249.87 203.35M250.62 219.89L260.21 206.77M239.95 218.17L236.66 207.95M250.58 219.86L260.42 206.29M233.5 223.21L218.37 213.8M248.98 218.88L255.13 206.74M235.73 220.58L224.47 207.81M236.25 238.86L226.6 251.13M246.43 241.06L250.22 256.57M254.63 225.02L269.84 218.84M243.29 241.4L242.83 259.41M249.78 239.67L257.28 252.01M240.33 218.06L235.68 201.81M242.58 217.64L241.6 206.29M248.7 218.75L256.04 203.26M238.47 240.24L230.66 256.61M239.69 218.26L235.1 205.05M244.43 241.37L245.34 254.32M236.58 239.11L230.47 247.49M238.53 218.74L233.38 207.81M248.35 240.41L254.93 255.53M248.02 218.45L251.76 209.11M235.29 220.98L225.61 211.06M244.83 217.66L245.97 206.77M239.21 240.56L234.17 253.27M240.84 217.92L236.93 201.51M231.75 230.62L218.38 231.88M234.46 221.88L221.44 211.04M255.38 227.79L272.1 225.36M251.34 238.54L259.34 247.88M232.19 226.12L220.61 222.7M239.09 240.51L232.26 257.21M247.97 240.57L254.49 257.06M231.97 232.01L214.5 235.77M236.64 239.15L227.08 252.4M237.67 219.18L229.24 204.53M241.53 241.22L238.52 258.24M231.7 229.83L220.51 230.13M231.82 227.8L221.71 226.34M234.03 222.42L221.53 213.17M254.59 234.06L265.17 238.46M247.45 240.76L252.28 254.9M252.9 236.92L262.92 244.92M250.12 239.46L257.63 250.93M236.02 238.67L228.53 247.73M241.32 217.82L238.85 205.16M234.33 222.04L223.13 213.02M252.98 222.17L266.77 211.39M242.91 241.38L242.15 254.46M235.42 220.86L228.04 213.06M252.24 221.31L265.68 208.57M242.5 217.65L241.47 206.56M235.32 220.95L222.7 207.91M232.99 234.9L217.51 242.77M231.74 228.51L217.14 227.29M233.88 236.37L225.12 242.56M233.02 224.05L220.68 217.7M239.06 240.5L232.05 257.5M237.85 239.92L232.63 249.36M231.82 227.83L219.06 226.02M235.11 221.17L225.57 211.81M245.91 241.17L248.58 254.68M248.79 218.79L255.57 204.8M236.93 239.35L230.76 248.46M252.24 237.68L260.37 245.38M249.85 219.38L256.47 208.67M231.77 230.83L218.13 232.36M233.37 223.43L221.34 216.3M240.06 240.86L235.95 254.04M255.32 227.42L273.18 224.26M232 232.15L214.01 236.26M233.19 235.27L223.31 240.74M253.4 222.75L267.77 212.85M234.44 221.91L226.41 215.25M231.71 229.89L215.91 230.41M246.07 217.86L248.3 207.35M232.56 233.95L215.35 240.89M239.4 240.64L233.51 256.3M255.44 230.74L269.67 232.22M233.98 236.51L219.42 247.12M232.36 233.41L216.14 239.06M251.46 220.57L259.95 210.92M231.78 228.12L221.63 226.94M253.17 236.57L267.32 247.01M243.03 217.61L242.16 199.42M235.41 238.14L224.27 249.89M241.34 217.82L237.92 200.11M233.52 235.82L220 244.29M236.45 239.01L228.22 249.94M237.21 239.54L228.82 252.7M255.42 228.1L271.22 226.23M244.12 217.61L244.93 199.1M255.39 227.92L267.14 226.34M244.08 217.61L244.61 204.59M237.32 219.39L229.47 206.78M249.43 219.12L255.38 208.53M255.29 227.28L266.04 225.23M252.81 237.03L262.37 244.84M236.08 220.28L225.95 207.86M231.73 230.31L214.42 231.49M252.66 237.22L266.04 248.63M248.16 240.49L255.01 257.01M255.08 226.38L270.24 222.26M231.7 229.57L218.64 229.65M245.33 241.27L247.11 253.38M243.28 241.4L242.78 259.93M242.95 241.38L242.39 251.47M233.02 224.05L222.55 218.67M243.43 217.6L243.28 206.6" stroke="#fff" stroke-width="0.3" stroke-opacity="0.55" stroke-dasharray="0.3 0.5" fill="none"/>
<path d="M237.64 219.2L229.96 205.92M237.62 239.79L228.33 255.77M236.76 239.24L226.7 253.56M243.85 241.4L244.24 259.63M251.63 220.72L258.73 212.96M241.85 241.27L240.15 252.71M246.11 241.13L249.76 258.05M237.47 219.3L228.74 204.79M237.63 219.21L230.59 207.06M239.49 240.67L235.39 251.81M243.11 241.39L242.57 254.68M238.49 218.75L232.32 205.8M231.71 229.88L215.68 230.39M250.59 239.13L259.23 251.03M254.48 234.32L265.62 239.26M255.36 231.3L273.19 234.04M254.73 225.3L269.19 219.84M236.7 219.8L230.61 211.25M248.79 240.21L253.27 249.47M250.4 239.27L260.67 254.04M240.02 218.15L236.91 208.28M239.25 218.42L235.54 208.96M248.4 218.61L255.13 203.37M248.78 240.21L255.69 254.51M243.44 241.4L243.24 256.73M234.95 237.68L222.76 249.2M255.49 229.09L266.85 228.71M231.84 227.68L218.47 225.62M246.91 240.93L250.65 253.83M246.13 217.87L248.59 206.55M231.83 227.78L219.61 225.99M235.08 237.81L223.01 249.57M232.89 234.69L218.21 241.8M231.71 229.12L218.11 228.68M249.61 219.23L259 203.15M233.01 224.08L216.97 215.87M252.66 237.22L262.9 245.94M235.04 237.77L221.8 250.55M246.51 217.96L249.33 206.75M244.84 241.33L246.41 256.27M232.14 226.3L216.23 221.85M233 224.09L217.34 216.08M237.93 219.04L230.18 204.75M247.79 240.64L252.92 254.28M246.13 217.87L248.43 207.29M232.16 226.21L220.21 222.77M247.84 218.38L254.13 201.91M254.37 224.44L264.6 219.65M249.93 219.42L259.19 204.67M248.53 240.33L254.54 253.54M240.35 240.95L237.26 251.81M231.87 231.53L220.19 233.55M231.86 227.53L220.46 225.62M251.3 220.42L263.16 206.44M233.5 235.79L220.38 243.94M234.18 236.77L225.97 243.11M231.74 230.52L220.11 231.52M252.31 237.61L261.56 246.21M236.03 220.31L228.74 211.46M232.35 225.63L216.03 220.02M253.52 236.08L267.02 245.04M232.66 224.83L220.84 219.79M234.55 237.23L224.52 245.81M237.74 219.14L230.91 207.07M252.72 221.85L265.6 211.04M243.05 217.61L242.29 201.12M233.1 223.9L217.69 215.69M255.43 230.77L272.64 232.61M231.7 229.81L219.19 230.13M242.22 241.32L240.87 252.91M232.09 232.53L220.97 235.46M239.93 240.82L236.33 251.93M254.12 223.94L270.22 215.42M236.73 239.21L226.37 253.86M244.26 217.62L245.16 201.18M247.28 240.82L250.41 250.43M239.12 218.48L233.96 205.78M254.12 223.93L266.68 217.28M231.75 230.64L219.26 231.84M244.09 217.61L244.52 207.1M238.1 240.05L232.68 250.47M232.37 233.44L216.05 239.15M251.51 238.39L259.39 247.23M238.33 218.83L232.99 208.04M242.28 241.33L240.21 259.81M250.12 219.54L256.66 209.55M250.52 239.18L259.08 251.17M250.61 219.89L258.47 209.12M250.15 239.43L257.83 251.06M245.71 217.79L248.96 199.78M255.04 232.79L270.17 237.15M235.33 238.06L222.61 251.22M252.16 237.77L262.51 247.76M249 218.9L254.71 207.7M236.07 220.29L229.09 211.75M245.87 241.18L247.97 252M255.49 229.07L267.8 228.63M254.06 235.17L265.24 241.22M245.19 217.71L246.77 206.02M241.87 241.27L239.15 259.81M252.26 221.33L260.76 213.32M252.59 221.7L261.56 213.93M241.09 217.87L237.56 201.45M249.49 219.16L254.98 209.51M254.72 233.73L264.25 237.35M243.75 241.4L243.96 257.03M240.55 241L237.05 254.22M248.36 240.41L252.54 249.99M255.44 228.32L266.78 227.19M234.05 236.6L220.59 246.6" stroke="#fff" stroke-width="0.3" stroke-opacity="0.55" stroke-dasharray="0.8 0.6" fill="none"/>
<path d="M238.01 218.99L229.38 202.75L263.87 206.98L251.56 220.66z" fill="#fff" fill-opacity="0.22"/>
<path d="M243.89 218.6L245.25 166.32M247.33 219.26L265.22 170.11" stroke="#fff" stroke-width="0.75" fill="none"/>
<path d="M254.15 226.77L273.9 221.66M254.49 229.98L274.87 230.87M254.3 231.58L274.32 235.47M246.42 240.03L251.7 259.73M243.79 240.4L244.15 260.8M241.24 240.14L236.83 260.06M233 232.04L213.16 236.81" stroke="#fff" stroke-width="1.0" fill="none"/>
<path d="M283.11 218.54L304.5 212.61L305.05 214.75L283.47 219.93zM284.59 230.57L306.78 231.15L306.68 233.36L284.52 232zM283.98 236.62L305.84 240.47L305.42 242.64L283.7 238.02zM254.9 268.91L261.02 290.25L258.89 290.82L253.52 269.28zM245.03 270.48L245.81 292.66L243.6 292.7L243.6 270.5zM235.43 269.68L231 291.43L228.85 290.95L234.03 269.37zM204 240.11L182.55 245.86L181.78 242.64L203.5 238.02z" fill="#fff"/>
<path d="M245.12 218.71L252.4 166.92M249.21 220.16L276.15 175.33M252.74 223.56L296.6 195.08M253.13 234.78L298.88 260.14M252.42 235.91L294.73 266.65M249.54 238.64L278.02 282.5M237.66 238.64L209.18 282.5M235.63 236.93L197.38 272.6M233.8 234.28L186.8 257.21M232.87 227.61L181.36 218.53M234.11 224.13L188.59 198.38M236.59 221.15L202.98 181.09M240.78 218.97L227.24 168.45" stroke="#fff" stroke-width="0.6" stroke-opacity="0.95" fill="none"/>
<circle cx="243.6" cy="229.5" r="36.5" fill="none" stroke="#fff" stroke-width="11.2"/>
<circle cx="243.6" cy="229.5" r="41.0" fill="none" stroke="#747474" stroke-width="2.3"/>
<circle cx="243.6" cy="229.5" r="37.3" fill="none" stroke="#e4e4e4" stroke-width="0.5"/>
<circle cx="243.6" cy="229.5" r="38.3" fill="none" stroke="#d0d0d0" stroke-width="1.2" stroke-dasharray="0.25 2.1"/>
<circle cx="243.6" cy="229.5" r="33.45" fill="none" stroke="#f7ecdf" stroke-width="1.9"/>
<circle cx="243.6" cy="229.5" r="31.1" fill="none" stroke="#767676" stroke-width="2.0"/>
<path d="M232.16 198.07A33.45 33.45 0 0 1 245.93 196.13" fill="none" stroke="#8fe8d4" stroke-width="1.9"/>
<path d="M246.52 196.18A33.45 33.45 0 0 1 258.26 199.44" fill="none" stroke="#48e2f0" stroke-width="1.9"/>
<path d="M277 231.25A33.45 33.45 0 0 1 276.8 233.58" fill="none" stroke="#3c3cb0" stroke-width="1.9"/>
<path d="M276.72 234.16A33.45 33.45 0 0 1 276.19 237.02" fill="none" stroke="#40e8f0" stroke-width="1.9"/>
<path d="M276.06 237.59A33.45 33.45 0 0 1 275.41 239.84" fill="none" stroke="#c04060" stroke-width="1.9"/>
<path d="M271.97 247.23A33.45 33.45 0 0 1 269.96 250.09" fill="none" stroke="#a8c4f4" stroke-width="1.9"/>
<path d="M268.85 251.45A33.45 33.45 0 0 1 265.98 254.36" fill="none" stroke="#f4c4a0" stroke-width="1.9"/>
<path d="M264.65 255.5A33.45 33.45 0 0 1 260.32 258.47" fill="none" stroke="#dca474" stroke-width="1.9"/>
<path d="M255.04 260.93A33.45 33.45 0 0 1 249.41 262.44" fill="none" stroke="#98ee48" stroke-width="1.9"/>
<path d="M247.68 262.7A33.45 33.45 0 0 1 241.85 262.9" fill="none" stroke="#78b4b4" stroke-width="1.9"/>
<path d="M240.68 262.82A33.45 33.45 0 0 1 233.82 261.49" fill="none" stroke="#f0ccaa" stroke-width="1.9"/>
<path d="M232.16 260.93A33.45 33.45 0 0 1 225.87 257.87" fill="none" stroke="#b85858" stroke-width="1.9"/>
<path d="M222.1 255.12A33.45 33.45 0 0 1 217.24 250.09" fill="none" stroke="#a458e0" stroke-width="1.9"/>
<path d="M215.87 248.21A33.45 33.45 0 0 1 213.04 243.11" fill="none" stroke="#5858f0" stroke-width="1.9"/>
<path d="M210.37 233.29A33.45 33.45 0 0 1 210.71 223.4" fill="none" stroke="#6c6c6c" stroke-width="2.7"/>
<path d="M282.04 219.56L284.55 218.91M283.26 231.23L285.86 231.35M282.57 237.08L285.12 237.57M253.88 267.85L254.55 270.36M244.29 269.19L244.34 271.79M235.01 268.26L234.44 270.8M205 238.77L202.47 239.37M244.64 189.81L244.71 187.21M257.18 192.19L258.07 189.75M249.13 190.19L249.49 187.61M264.05 195.47L265.39 193.24M276.9 207.88L279.08 206.46M278.32 248.75L280.6 250.01M275.72 252.84L277.82 254.36M265.22 262.8L266.64 264.98M221.98 262.8L220.56 264.98M214.57 256.58L212.66 258.35M207.92 246.9L205.58 248.04M204.5 222.61L201.94 222.15M209.05 209.95L206.78 208.67M218.08 199.09L216.41 197.1M233.32 191.15L232.65 188.64" stroke="#fff" stroke-width="0.4" stroke-opacity="0.8" fill="none"/>
<text x="81.3" y="18.9" font-size="7.4" text-anchor="middle" fill="#111" stroke="#111" stroke-width="0.16">CNE2 vs. NP69</text>
<text x="243.4" y="18.9" font-size="7.4" text-anchor="middle" fill="#111" stroke="#111" stroke-width="0.16">CNE2 CSCs vs. NP69</text>
<text x="81.4" y="164.5" font-size="7.4" text-anchor="middle" fill="#111" stroke="#111" stroke-width="0.16">C666-1 vs. NP69</text>
<text x="243.6" y="164.5" font-size="7.4" text-anchor="middle" fill="#111" stroke="#111" stroke-width="0.16">C666-1 CSCs vs. NP69</text>
<text x="-0.3" y="10.8" font-size="15" text-anchor="start" fill="#111" stroke="#111" stroke-width="0.1">A</text>
<text x="367.1" y="10.8" font-size="15" text-anchor="start" fill="#111" stroke="#111" stroke-width="0.1">B</text>
<text x="-0.7" y="321.3" font-size="15" text-anchor="start" fill="#111" stroke="#111" stroke-width="0.1">C</text>
<text x="367.1" y="133.8" font-size="15" text-anchor="start" fill="#111" stroke="#111" stroke-width="0.1">D</text>
<text x="367.95" y="427.95" font-size="15" text-anchor="start" fill="#111" stroke="#111" stroke-width="0.1">E</text>
<rect x="511.78" y="14.7" width="39.05" height="7.4" fill="#ffc6c6" stroke="#ff4a4a" stroke-width="0.6"/>
<rect x="463.1" y="14.7" width="48.68" height="7.4" fill="#c6c6fc" stroke="#4a4aff" stroke-width="0.6"/>
<line x1="460.7" y1="18.4" x2="463.1" y2="18.4" stroke="#111" stroke-width="0.8"/>
<text x="459.8" y="20.6" font-size="6.1" text-anchor="end" fill="#111" stroke="#111" stroke-width="0.16">CNE2 vs. NP69</text>
<rect x="523.88" y="26.1" width="46.75" height="7.4" fill="#ffc6c6" stroke="#ff4a4a" stroke-width="0.6"/>
<rect x="463.1" y="26.1" width="60.78" height="7.4" fill="#c6c6fc" stroke="#4a4aff" stroke-width="0.6"/>
<line x1="460.7" y1="29.8" x2="463.1" y2="29.8" stroke="#111" stroke-width="0.8"/>
<text x="459.8" y="32" font-size="6.1" text-anchor="end" fill="#111" stroke="#111" stroke-width="0.16">CNE2 CSCs vs. NP69</text>
<rect x="480.7" y="37.5" width="98.73" height="7.4" fill="#ffc6c6" stroke="#ff4a4a" stroke-width="0.6"/>
<rect x="463.1" y="37.5" width="17.6" height="7.4" fill="#c6c6fc" stroke="#4a4aff" stroke-width="0.6"/>
<line x1="460.7" y1="41.2" x2="463.1" y2="41.2" stroke="#111" stroke-width="0.8"/>
<text x="459.8" y="43.4" font-size="6.1" text-anchor="end" fill="#111" stroke="#111" stroke-width="0.16">C666-1 vs. NP69</text>
<rect x="480.15" y="48.9" width="89.54" height="7.4" fill="#ffc6c6" stroke="#ff4a4a" stroke-width="0.6"/>
<rect x="463.1" y="48.9" width="17.05" height="7.4" fill="#c6c6fc" stroke="#4a4aff" stroke-width="0.6"/>
<line x1="460.7" y1="52.6" x2="463.1" y2="52.6" stroke="#111" stroke-width="0.8"/>
<text x="459.8" y="54.8" font-size="6.1" text-anchor="end" fill="#111" stroke="#111" stroke-width="0.16">C666-1 CSCs vs. NP69</text>
<line x1="463.1" y1="10.2" x2="463.1" y2="60.7" stroke="#111" stroke-width="0.8"/>
<line x1="462.7" y1="60.3" x2="601.2" y2="60.3" stroke="#111" stroke-width="0.8"/>
<line x1="463.1" y1="60.3" x2="463.1" y2="62.2" stroke="#111" stroke-width="0.8"/>
<line x1="490.65" y1="60.3" x2="490.65" y2="62.2" stroke="#111" stroke-width="0.8"/>
<line x1="518.2" y1="60.3" x2="518.2" y2="62.2" stroke="#111" stroke-width="0.8"/>
<line x1="545.75" y1="60.3" x2="545.75" y2="62.2" stroke="#111" stroke-width="0.8"/>
<line x1="573.3" y1="60.3" x2="573.3" y2="62.2" stroke="#111" stroke-width="0.8"/>
<line x1="600.85" y1="60.3" x2="600.85" y2="62.2" stroke="#111" stroke-width="0.8"/>
<text x="464.9" y="67.8" font-size="5.8" text-anchor="end" fill="#111" stroke="#111" stroke-width="0.16" transform="rotate(-45 464.9 67.8)">0</text>
<text x="520" y="67.8" font-size="5.8" text-anchor="end" fill="#111" stroke="#111" stroke-width="0.16" transform="rotate(-45 520 67.8)">100000</text>
<text x="575.1" y="67.8" font-size="5.8" text-anchor="end" fill="#111" stroke="#111" stroke-width="0.16" transform="rotate(-45 575.1 67.8)">200000</text>
<text x="531.8" y="90.5" font-size="6.15" text-anchor="middle" fill="#111" stroke="#111" stroke-width="0.16">Number of DMCs</text>
<rect x="498.9" y="99.6" width="6.2" height="3.9" fill="#c6c6fc" stroke="#4a4aff" stroke-width="0.6"/>
<rect x="498.9" y="109.4" width="6.2" height="3.9" fill="#ffc6c6" stroke="#ff4a4a" stroke-width="0.6"/>
<text x="509.9" y="103.2" font-size="6.1" text-anchor="start" fill="#111" stroke="#111" stroke-width="0.16">Hypomethylated</text>
<text x="509.9" y="113" font-size="6.1" text-anchor="start" fill="#111" stroke="#111" stroke-width="0.16">Hypermethylated</text>
<rect x="410.2" y="161.18" width="6.7" height="20.7" fill="#f8188c"/>
<rect x="410.2" y="181.69" width="6.7" height="40.21" fill="#ff8200"/>
<rect x="420.57" y="192.98" width="6.7" height="14.18" fill="#f8188c"/>
<rect x="420.57" y="206.96" width="6.7" height="14.94" fill="#ff8200"/>
<rect x="430.94" y="207.15" width="6.7" height="9.2" fill="#f8188c"/>
<rect x="430.94" y="216.16" width="6.7" height="5.75" fill="#ff8200"/>
<rect x="441.31" y="205.81" width="6.7" height="8.82" fill="#f8188c"/>
<rect x="441.31" y="214.43" width="6.7" height="7.47" fill="#ff8200"/>
<rect x="451.68" y="214.43" width="6.7" height="4.8" fill="#f8188c"/>
<rect x="451.68" y="219.03" width="6.7" height="2.87" fill="#ff8200"/>
<rect x="462.05" y="155.26" width="6.7" height="29.5" fill="#f8188c"/>
<rect x="462.05" y="184.56" width="6.7" height="37.34" fill="#ff8200"/>
<rect x="472.42" y="215.01" width="6.7" height="3.26" fill="#f8188c"/>
<rect x="472.42" y="218.07" width="6.7" height="3.83" fill="#ff8200"/>
<line x1="406.5" y1="144.85" x2="406.5" y2="222.35" stroke="#111" stroke-width="0.9"/>
<line x1="406.05" y1="221.9" x2="482.5" y2="221.9" stroke="#111" stroke-width="0.9"/>
<line x1="403.1" y1="221.9" x2="406.5" y2="221.9" stroke="#111" stroke-width="0.8"/>
<text x="402.6" y="224" font-size="5.8" text-anchor="end" fill="#111" stroke="#111" stroke-width="0.16">0</text>
<line x1="403.1" y1="196.37" x2="406.5" y2="196.37" stroke="#111" stroke-width="0.8"/>
<text x="402.6" y="198.47" font-size="5.8" text-anchor="end" fill="#111" stroke="#111" stroke-width="0.16">20000</text>
<line x1="403.1" y1="170.83" x2="406.5" y2="170.83" stroke="#111" stroke-width="0.8"/>
<text x="402.6" y="172.93" font-size="5.8" text-anchor="end" fill="#111" stroke="#111" stroke-width="0.16">40000</text>
<line x1="403.1" y1="145.3" x2="406.5" y2="145.3" stroke="#111" stroke-width="0.8"/>
<text x="402.6" y="147.4" font-size="5.8" text-anchor="end" fill="#111" stroke="#111" stroke-width="0.16">60000</text>
<line x1="413.55" y1="221.9" x2="413.55" y2="225" stroke="#111" stroke-width="0.85"/>
<line x1="423.92" y1="221.9" x2="423.92" y2="225" stroke="#111" stroke-width="0.85"/>
<line x1="434.29" y1="221.9" x2="434.29" y2="225" stroke="#111" stroke-width="0.85"/>
<line x1="444.66" y1="221.9" x2="444.66" y2="225" stroke="#111" stroke-width="0.85"/>
<line x1="455.03" y1="221.9" x2="455.03" y2="225" stroke="#111" stroke-width="0.85"/>
<line x1="465.4" y1="221.9" x2="465.4" y2="225" stroke="#111" stroke-width="0.85"/>
<line x1="475.77" y1="221.9" x2="475.77" y2="225" stroke="#111" stroke-width="0.85"/>
<text x="414.95" y="230.7" font-size="5.8" text-anchor="end" fill="#111" stroke="#111" stroke-width="0.16" transform="rotate(-45 414.95 230.7)">IGR</text>
<text x="425.32" y="230.7" font-size="5.8" text-anchor="end" fill="#111" stroke="#111" stroke-width="0.16" transform="rotate(-45 425.32 230.7)">TSS1500</text>
<text x="435.69" y="230.7" font-size="5.8" text-anchor="end" fill="#111" stroke="#111" stroke-width="0.16" transform="rotate(-45 435.69 230.7)">TSS200</text>
<text x="446.06" y="230.7" font-size="5.8" text-anchor="end" fill="#111" stroke="#111" stroke-width="0.16" transform="rotate(-45 446.06 230.7)">5'UTR</text>
<text x="456.43" y="230.7" font-size="5.8" text-anchor="end" fill="#111" stroke="#111" stroke-width="0.16" transform="rotate(-45 456.43 230.7)">1<tspan font-size="3.8" dy="-2.2">st</tspan><tspan dy="2.2"> Exon</tspan></text>
<text x="466.8" y="230.7" font-size="5.8" text-anchor="end" fill="#111" stroke="#111" stroke-width="0.16" transform="rotate(-45 466.8 230.7)">Gene Body</text>
<text x="477.17" y="230.7" font-size="5.8" text-anchor="end" fill="#111" stroke="#111" stroke-width="0.16" transform="rotate(-45 477.17 230.7)">3'UTR</text>
<text x="444.5" y="135.1" font-size="7.4" text-anchor="middle" fill="#111" stroke="#111" stroke-width="0.16">CNE2 vs. NP69</text>
<text x="381.8" y="183.6" font-size="6.2" text-anchor="middle" fill="#111" stroke="#111" stroke-width="0.16" transform="rotate(-90 381.8 183.6)">Number of DMCs</text>
<rect x="529.2" y="167.32" width="6.7" height="18.39" fill="#f8188c"/>
<rect x="529.2" y="185.52" width="6.7" height="36.38" fill="#ff8200"/>
<rect x="539.57" y="196.05" width="6.7" height="12.26" fill="#f8188c"/>
<rect x="539.57" y="208.11" width="6.7" height="13.79" fill="#ff8200"/>
<rect x="549.94" y="208.11" width="6.7" height="8.82" fill="#f8188c"/>
<rect x="549.94" y="216.73" width="6.7" height="5.17" fill="#ff8200"/>
<rect x="560.31" y="207.15" width="6.7" height="7.86" fill="#f8188c"/>
<rect x="560.31" y="214.81" width="6.7" height="7.09" fill="#ff8200"/>
<rect x="570.68" y="215.01" width="6.7" height="4.41" fill="#f8188c"/>
<rect x="570.68" y="219.22" width="6.7" height="2.68" fill="#ff8200"/>
<rect x="581.05" y="158.9" width="6.7" height="26.44" fill="#f8188c"/>
<rect x="581.05" y="185.13" width="6.7" height="36.77" fill="#ff8200"/>
<rect x="591.42" y="215.2" width="6.7" height="2.88" fill="#f8188c"/>
<rect x="591.42" y="217.88" width="6.7" height="4.02" fill="#ff8200"/>
<line x1="525.6" y1="144.85" x2="525.6" y2="222.35" stroke="#111" stroke-width="0.9"/>
<line x1="525.15" y1="221.9" x2="601.6" y2="221.9" stroke="#111" stroke-width="0.9"/>
<line x1="522.2" y1="221.9" x2="525.6" y2="221.9" stroke="#111" stroke-width="0.8"/>
<text x="521.7" y="224" font-size="5.8" text-anchor="end" fill="#111" stroke="#111" stroke-width="0.16">0</text>
<line x1="522.2" y1="202.75" x2="525.6" y2="202.75" stroke="#111" stroke-width="0.8"/>
<text x="521.7" y="204.85" font-size="5.8" text-anchor="end" fill="#111" stroke="#111" stroke-width="0.16">20000</text>
<line x1="522.2" y1="183.6" x2="525.6" y2="183.6" stroke="#111" stroke-width="0.8"/>
<text x="521.7" y="185.7" font-size="5.8" text-anchor="end" fill="#111" stroke="#111" stroke-width="0.16">40000</text>
<line x1="522.2" y1="164.45" x2="525.6" y2="164.45" stroke="#111" stroke-width="0.8"/>
<text x="521.7" y="166.55" font-size="5.8" text-anchor="end" fill="#111" stroke="#111" stroke-width="0.16">60000</text>
<line x1="522.2" y1="145.3" x2="525.6" y2="145.3" stroke="#111" stroke-width="0.8"/>
<text x="521.7" y="147.4" font-size="5.8" text-anchor="end" fill="#111" stroke="#111" stroke-width="0.16">80000</text>
<line x1="532.55" y1="221.9" x2="532.55" y2="225" stroke="#111" stroke-width="0.85"/>
<line x1="542.92" y1="221.9" x2="542.92" y2="225" stroke="#111" stroke-width="0.85"/>
<line x1="553.29" y1="221.9" x2="553.29" y2="225" stroke="#111" stroke-width="0.85"/>
<line x1="563.66" y1="221.9" x2="563.66" y2="225" stroke="#111" stroke-width="0.85"/>
<line x1="574.03" y1="221.9" x2="574.03" y2="225" stroke="#111" stroke-width="0.85"/>
<line x1="584.4" y1="221.9" x2="584.4" y2="225" stroke="#111" stroke-width="0.85"/>
<line x1="594.77" y1="221.9" x2="594.77" y2="225" stroke="#111" stroke-width="0.85"/>
<text x="533.95" y="230.7" font-size="5.8" text-anchor="end" fill="#111" stroke="#111" stroke-width="0.16" transform="rotate(-45 533.95 230.7)">IGR</text>
<text x="544.32" y="230.7" font-size="5.8" text-anchor="end" fill="#111" stroke="#111" stroke-width="0.16" transform="rotate(-45 544.32 230.7)">TSS1500</text>
<text x="554.69" y="230.7" font-size="5.8" text-anchor="end" fill="#111" stroke="#111" stroke-width="0.16" transform="rotate(-45 554.69 230.7)">TSS200</text>
<text x="565.06" y="230.7" font-size="5.8" text-anchor="end" fill="#111" stroke="#111" stroke-width="0.16" transform="rotate(-45 565.06 230.7)">5'UTR</text>
<text x="575.43" y="230.7" font-size="5.8" text-anchor="end" fill="#111" stroke="#111" stroke-width="0.16" transform="rotate(-45 575.43 230.7)">1<tspan font-size="3.8" dy="-2.2">st</tspan><tspan dy="2.2"> Exon</tspan></text>
<text x="585.8" y="230.7" font-size="5.8" text-anchor="end" fill="#111" stroke="#111" stroke-width="0.16" transform="rotate(-45 585.8 230.7)">Gene Body</text>
<text x="596.17" y="230.7" font-size="5.8" text-anchor="end" fill="#111" stroke="#111" stroke-width="0.16" transform="rotate(-45 596.17 230.7)">3'UTR</text>
<text x="563.6" y="135.1" font-size="7.4" text-anchor="middle" fill="#111" stroke="#111" stroke-width="0.16">CNE2 CSCs vs. NP69</text>
<text x="500.9" y="183.6" font-size="6.2" text-anchor="middle" fill="#111" stroke="#111" stroke-width="0.16" transform="rotate(-90 500.9 183.6)">Number of DMCs</text>
<rect x="410.2" y="302.67" width="6.7" height="48.14" fill="#f8188c"/>
<rect x="410.2" y="350.61" width="6.7" height="8.79" fill="#ff8200"/>
<rect x="420.57" y="331.32" width="6.7" height="22.36" fill="#f8188c"/>
<rect x="420.57" y="353.48" width="6.7" height="5.92" fill="#ff8200"/>
<rect x="430.94" y="344.12" width="6.7" height="13.95" fill="#f8188c"/>
<rect x="430.94" y="357.87" width="6.7" height="1.53" fill="#ff8200"/>
<rect x="441.31" y="342.4" width="6.7" height="15.1" fill="#f8188c"/>
<rect x="441.31" y="357.3" width="6.7" height="2.1" fill="#ff8200"/>
<rect x="451.68" y="352.14" width="6.7" height="6.88" fill="#f8188c"/>
<rect x="451.68" y="358.83" width="6.7" height="0.57" fill="#ff8200"/>
<rect x="462.05" y="289.88" width="6.7" height="59.6" fill="#f8188c"/>
<rect x="462.05" y="349.28" width="6.7" height="10.12" fill="#ff8200"/>
<rect x="472.42" y="352.14" width="6.7" height="6.31" fill="#f8188c"/>
<rect x="472.42" y="358.25" width="6.7" height="1.15" fill="#ff8200"/>
<line x1="406.5" y1="282.55" x2="406.5" y2="359.85" stroke="#111" stroke-width="0.9"/>
<line x1="406.05" y1="359.4" x2="482.5" y2="359.4" stroke="#111" stroke-width="0.9"/>
<line x1="403.1" y1="359.4" x2="406.5" y2="359.4" stroke="#111" stroke-width="0.8"/>
<text x="402.6" y="361.5" font-size="5.8" text-anchor="end" fill="#111" stroke="#111" stroke-width="0.16">0</text>
<line x1="403.1" y1="340.3" x2="406.5" y2="340.3" stroke="#111" stroke-width="0.8"/>
<text x="402.6" y="342.4" font-size="5.8" text-anchor="end" fill="#111" stroke="#111" stroke-width="0.16">20000</text>
<line x1="403.1" y1="321.2" x2="406.5" y2="321.2" stroke="#111" stroke-width="0.8"/>
<text x="402.6" y="323.3" font-size="5.8" text-anchor="end" fill="#111" stroke="#111" stroke-width="0.16">40000</text>
<line x1="403.1" y1="302.1" x2="406.5" y2="302.1" stroke="#111" stroke-width="0.8"/>
<text x="402.6" y="304.2" font-size="5.8" text-anchor="end" fill="#111" stroke="#111" stroke-width="0.16">60000</text>
<line x1="403.1" y1="283" x2="406.5" y2="283" stroke="#111" stroke-width="0.8"/>
<text x="402.6" y="285.1" font-size="5.8" text-anchor="end" fill="#111" stroke="#111" stroke-width="0.16">80000</text>
<line x1="413.55" y1="359.4" x2="413.55" y2="362.5" stroke="#111" stroke-width="0.85"/>
<line x1="423.92" y1="359.4" x2="423.92" y2="362.5" stroke="#111" stroke-width="0.85"/>
<line x1="434.29" y1="359.4" x2="434.29" y2="362.5" stroke="#111" stroke-width="0.85"/>
<line x1="444.66" y1="359.4" x2="444.66" y2="362.5" stroke="#111" stroke-width="0.85"/>
<line x1="455.03" y1="359.4" x2="455.03" y2="362.5" stroke="#111" stroke-width="0.85"/>
<line x1="465.4" y1="359.4" x2="465.4" y2="362.5" stroke="#111" stroke-width="0.85"/>
<line x1="475.77" y1="359.4" x2="475.77" y2="362.5" stroke="#111" stroke-width="0.85"/>
<text x="414.95" y="368.2" font-size="5.8" text-anchor="end" fill="#111" stroke="#111" stroke-width="0.16" transform="rotate(-45 414.95 368.2)">IGR</text>
<text x="425.32" y="368.2" font-size="5.8" text-anchor="end" fill="#111" stroke="#111" stroke-width="0.16" transform="rotate(-45 425.32 368.2)">TSS1500</text>
<text x="435.69" y="368.2" font-size="5.8" text-anchor="end" fill="#111" stroke="#111" stroke-width="0.16" transform="rotate(-45 435.69 368.2)">TSS200</text>
<text x="446.06" y="368.2" font-size="5.8" text-anchor="end" fill="#111" stroke="#111" stroke-width="0.16" transform="rotate(-45 446.06 368.2)">5'UTR</text>
<text x="456.43" y="368.2" font-size="5.8" text-anchor="end" fill="#111" stroke="#111" stroke-width="0.16" transform="rotate(-45 456.43 368.2)">1<tspan font-size="3.8" dy="-2.2">st</tspan><tspan dy="2.2"> Exon</tspan></text>
<text x="466.8" y="368.2" font-size="5.8" text-anchor="end" fill="#111" stroke="#111" stroke-width="0.16" transform="rotate(-45 466.8 368.2)">Gene Body</text>
<text x="477.17" y="368.2" font-size="5.8" text-anchor="end" fill="#111" stroke="#111" stroke-width="0.16" transform="rotate(-45 477.17 368.2)">3'UTR</text>
<text x="444.5" y="272.3" font-size="7.4" text-anchor="middle" fill="#111" stroke="#111" stroke-width="0.16">C666-1 vs. NP69</text>
<text x="381.8" y="321.2" font-size="6.2" text-anchor="middle" fill="#111" stroke="#111" stroke-width="0.16" transform="rotate(-90 381.8 321.2)">Number of DMCs</text>
<rect x="529.2" y="304.16" width="6.7" height="43.18" fill="#f8188c"/>
<rect x="529.2" y="347.13" width="6.7" height="9.17" fill="#ff8200"/>
<rect x="539.57" y="330.32" width="6.7" height="20.45" fill="#f8188c"/>
<rect x="539.57" y="350.57" width="6.7" height="5.73" fill="#ff8200"/>
<rect x="549.94" y="341.98" width="6.7" height="13.19" fill="#f8188c"/>
<rect x="549.94" y="354.96" width="6.7" height="1.34" fill="#ff8200"/>
<rect x="560.31" y="340.64" width="6.7" height="13.76" fill="#f8188c"/>
<rect x="560.31" y="354.2" width="6.7" height="2.1" fill="#ff8200"/>
<rect x="570.68" y="349.23" width="6.7" height="6.69" fill="#f8188c"/>
<rect x="570.68" y="355.73" width="6.7" height="0.57" fill="#ff8200"/>
<rect x="581.05" y="294.22" width="6.7" height="52.53" fill="#f8188c"/>
<rect x="581.05" y="346.56" width="6.7" height="9.74" fill="#ff8200"/>
<rect x="591.42" y="349.81" width="6.7" height="5.55" fill="#f8188c"/>
<rect x="591.42" y="355.15" width="6.7" height="1.15" fill="#ff8200"/>
<line x1="525.6" y1="279.45" x2="525.6" y2="356.75" stroke="#111" stroke-width="0.9"/>
<line x1="525.15" y1="356.3" x2="601.6" y2="356.3" stroke="#111" stroke-width="0.9"/>
<line x1="522.2" y1="356.3" x2="525.6" y2="356.3" stroke="#111" stroke-width="0.8"/>
<text x="521.7" y="358.4" font-size="5.8" text-anchor="end" fill="#111" stroke="#111" stroke-width="0.16">0</text>
<line x1="522.2" y1="337.2" x2="525.6" y2="337.2" stroke="#111" stroke-width="0.8"/>
<text x="521.7" y="339.3" font-size="5.8" text-anchor="end" fill="#111" stroke="#111" stroke-width="0.16">20000</text>
<line x1="522.2" y1="318.1" x2="525.6" y2="318.1" stroke="#111" stroke-width="0.8"/>
<text x="521.7" y="320.2" font-size="5.8" text-anchor="end" fill="#111" stroke="#111" stroke-width="0.16">40000</text>
<line x1="522.2" y1="299" x2="525.6" y2="299" stroke="#111" stroke-width="0.8"/>
<text x="521.7" y="301.1" font-size="5.8" text-anchor="end" fill="#111" stroke="#111" stroke-width="0.16">60000</text>
<line x1="522.2" y1="279.9" x2="525.6" y2="279.9" stroke="#111" stroke-width="0.8"/>
<text x="521.7" y="282" font-size="5.8" text-anchor="end" fill="#111" stroke="#111" stroke-width="0.16">80000</text>
<line x1="532.55" y1="356.3" x2="532.55" y2="359.4" stroke="#111" stroke-width="0.85"/>
<line x1="542.92" y1="356.3" x2="542.92" y2="359.4" stroke="#111" stroke-width="0.85"/>
<line x1="553.29" y1="356.3" x2="553.29" y2="359.4" stroke="#111" stroke-width="0.85"/>
<line x1="563.66" y1="356.3" x2="563.66" y2="359.4" stroke="#111" stroke-width="0.85"/>
<line x1="574.03" y1="356.3" x2="574.03" y2="359.4" stroke="#111" stroke-width="0.85"/>
<line x1="584.4" y1="356.3" x2="584.4" y2="359.4" stroke="#111" stroke-width="0.85"/>
<line x1="594.77" y1="356.3" x2="594.77" y2="359.4" stroke="#111" stroke-width="0.85"/>
<text x="533.95" y="365.1" font-size="5.8" text-anchor="end" fill="#111" stroke="#111" stroke-width="0.16" transform="rotate(-45 533.95 365.1)">IGR</text>
<text x="544.32" y="365.1" font-size="5.8" text-anchor="end" fill="#111" stroke="#111" stroke-width="0.16" transform="rotate(-45 544.32 365.1)">TSS1500</text>
<text x="554.69" y="365.1" font-size="5.8" text-anchor="end" fill="#111" stroke="#111" stroke-width="0.16" transform="rotate(-45 554.69 365.1)">TSS200</text>
<text x="565.06" y="365.1" font-size="5.8" text-anchor="end" fill="#111" stroke="#111" stroke-width="0.16" transform="rotate(-45 565.06 365.1)">5'UTR</text>
<text x="575.43" y="365.1" font-size="5.8" text-anchor="end" fill="#111" stroke="#111" stroke-width="0.16" transform="rotate(-45 575.43 365.1)">1<tspan font-size="3.8" dy="-2.2">st</tspan><tspan dy="2.2"> Exon</tspan></text>
<text x="585.8" y="365.1" font-size="5.8" text-anchor="end" fill="#111" stroke="#111" stroke-width="0.16" transform="rotate(-45 585.8 365.1)">Gene Body</text>
<text x="596.17" y="365.1" font-size="5.8" text-anchor="end" fill="#111" stroke="#111" stroke-width="0.16" transform="rotate(-45 596.17 365.1)">3'UTR</text>
<text x="563.3" y="269.4" font-size="7.4" text-anchor="middle" fill="#111" stroke="#111" stroke-width="0.16">C666-1 CSCs vs. NP69</text>
<text x="500.9" y="318.1" font-size="6.2" text-anchor="middle" fill="#111" stroke="#111" stroke-width="0.16" transform="rotate(-90 500.9 318.1)">Number of DMCs</text>
<rect x="619" y="283" width="8.3" height="4.4" fill="#ff8200"/>
<rect x="619" y="293.9" width="8.3" height="4.4" fill="#f8188c"/>
<text x="632" y="287.4" font-size="6.25" text-anchor="start" fill="#111" stroke="#111" stroke-width="0.16">Hypomethylation</text>
<text x="632" y="298.3" font-size="6.25" text-anchor="start" fill="#111" stroke="#111" stroke-width="0.16">Hypermethylation</text>
<rect x="412.1" y="478.9" width="7.85" height="26.44" fill="#f748d2"/>
<rect x="412.1" y="505.14" width="7.85" height="9.76" fill="#4f9df7"/>
<rect x="423.84" y="477.18" width="7.85" height="17.25" fill="#f748d2"/>
<rect x="423.84" y="494.23" width="7.85" height="20.67" fill="#4f9df7"/>
<rect x="435.58" y="499.95" width="7.85" height="5.39" fill="#f748d2"/>
<rect x="435.58" y="505.14" width="7.85" height="9.76" fill="#4f9df7"/>
<rect x="447.32" y="451.94" width="7.85" height="19.54" fill="#f748d2"/>
<rect x="447.32" y="471.28" width="7.85" height="43.62" fill="#4f9df7"/>
<line x1="407.9" y1="438.25" x2="407.9" y2="515.35" stroke="#111" stroke-width="0.9"/>
<line x1="407.45" y1="514.9" x2="459.6" y2="514.9" stroke="#111" stroke-width="0.9"/>
<line x1="404.5" y1="514.9" x2="407.9" y2="514.9" stroke="#111" stroke-width="0.8"/>
<text x="404" y="517" font-size="5.8" text-anchor="end" fill="#111" stroke="#111" stroke-width="0.16">0</text>
<line x1="404.5" y1="495.85" x2="407.9" y2="495.85" stroke="#111" stroke-width="0.8"/>
<text x="404" y="497.95" font-size="5.8" text-anchor="end" fill="#111" stroke="#111" stroke-width="0.16">20000</text>
<line x1="404.5" y1="476.8" x2="407.9" y2="476.8" stroke="#111" stroke-width="0.8"/>
<text x="404" y="478.9" font-size="5.8" text-anchor="end" fill="#111" stroke="#111" stroke-width="0.16">40000</text>
<line x1="404.5" y1="457.75" x2="407.9" y2="457.75" stroke="#111" stroke-width="0.8"/>
<text x="404" y="459.85" font-size="5.8" text-anchor="end" fill="#111" stroke="#111" stroke-width="0.16">60000</text>
<line x1="404.5" y1="438.7" x2="407.9" y2="438.7" stroke="#111" stroke-width="0.8"/>
<text x="404" y="440.8" font-size="5.8" text-anchor="end" fill="#111" stroke="#111" stroke-width="0.16">80000</text>
<line x1="416.03" y1="514.9" x2="416.03" y2="518" stroke="#111" stroke-width="0.85"/>
<line x1="427.77" y1="514.9" x2="427.77" y2="518" stroke="#111" stroke-width="0.85"/>
<line x1="439.51" y1="514.9" x2="439.51" y2="518" stroke="#111" stroke-width="0.85"/>
<line x1="451.25" y1="514.9" x2="451.25" y2="518" stroke="#111" stroke-width="0.85"/>
<text x="417.43" y="523.7" font-size="5.8" text-anchor="end" fill="#111" stroke="#111" stroke-width="0.16" transform="rotate(-45 417.43 523.7)">CpG Island</text>
<text x="429.17" y="523.7" font-size="5.8" text-anchor="end" fill="#111" stroke="#111" stroke-width="0.16" transform="rotate(-45 429.17 523.7)">Shore</text>
<text x="440.91" y="523.7" font-size="5.8" text-anchor="end" fill="#111" stroke="#111" stroke-width="0.16" transform="rotate(-45 440.91 523.7)">Shelf</text>
<text x="452.65" y="523.7" font-size="5.8" text-anchor="end" fill="#111" stroke="#111" stroke-width="0.16" transform="rotate(-45 452.65 523.7)">Open Sea</text>
<text x="433.6" y="428" font-size="7.4" text-anchor="middle" fill="#111" stroke="#111" stroke-width="0.16">CNE2 vs. NP69</text>
<text x="383.7" y="476.8" font-size="6.2" text-anchor="middle" fill="#111" stroke="#111" stroke-width="0.16" transform="rotate(-90 383.7 476.8)">Number of DMCs</text>
<rect x="529.8" y="480.08" width="7.85" height="24.89" fill="#f748d2"/>
<rect x="529.8" y="504.77" width="7.85" height="10.13" fill="#4f9df7"/>
<rect x="541.54" y="478.32" width="7.85" height="16.13" fill="#f748d2"/>
<rect x="541.54" y="494.25" width="7.85" height="20.65" fill="#4f9df7"/>
<rect x="553.28" y="499.96" width="7.85" height="5.15" fill="#f748d2"/>
<rect x="553.28" y="504.92" width="7.85" height="9.98" fill="#4f9df7"/>
<rect x="565.02" y="453.03" width="7.85" height="19.17" fill="#f748d2"/>
<rect x="565.02" y="472" width="7.85" height="42.9" fill="#4f9df7"/>
<line x1="525.6" y1="438.25" x2="525.6" y2="515.35" stroke="#111" stroke-width="0.9"/>
<line x1="525.15" y1="514.9" x2="577.3" y2="514.9" stroke="#111" stroke-width="0.9"/>
<line x1="522.2" y1="514.9" x2="525.6" y2="514.9" stroke="#111" stroke-width="0.8"/>
<text x="521.7" y="517" font-size="5.8" text-anchor="end" fill="#111" stroke="#111" stroke-width="0.16">0</text>
<line x1="522.2" y1="499.66" x2="525.6" y2="499.66" stroke="#111" stroke-width="0.8"/>
<text x="521.7" y="501.76" font-size="5.8" text-anchor="end" fill="#111" stroke="#111" stroke-width="0.16">20000</text>
<line x1="522.2" y1="484.42" x2="525.6" y2="484.42" stroke="#111" stroke-width="0.8"/>
<text x="521.7" y="486.52" font-size="5.8" text-anchor="end" fill="#111" stroke="#111" stroke-width="0.16">40000</text>
<line x1="522.2" y1="469.18" x2="525.6" y2="469.18" stroke="#111" stroke-width="0.8"/>
<text x="521.7" y="471.28" font-size="5.8" text-anchor="end" fill="#111" stroke="#111" stroke-width="0.16">60000</text>
<line x1="522.2" y1="453.94" x2="525.6" y2="453.94" stroke="#111" stroke-width="0.8"/>
<text x="521.7" y="456.04" font-size="5.8" text-anchor="end" fill="#111" stroke="#111" stroke-width="0.16">80000</text>
<line x1="522.2" y1="438.7" x2="525.6" y2="438.7" stroke="#111" stroke-width="0.8"/>
<text x="521.7" y="440.8" font-size="5.8" text-anchor="end" fill="#111" stroke="#111" stroke-width="0.16">100000</text>
<line x1="533.72" y1="514.9" x2="533.72" y2="518" stroke="#111" stroke-width="0.85"/>
<line x1="545.46" y1="514.9" x2="545.46" y2="518" stroke="#111" stroke-width="0.85"/>
<line x1="557.2" y1="514.9" x2="557.2" y2="518" stroke="#111" stroke-width="0.85"/>
<line x1="568.94" y1="514.9" x2="568.94" y2="518" stroke="#111" stroke-width="0.85"/>
<text x="535.12" y="523.7" font-size="5.8" text-anchor="end" fill="#111" stroke="#111" stroke-width="0.16" transform="rotate(-45 535.12 523.7)">CpG Island</text>
<text x="546.86" y="523.7" font-size="5.8" text-anchor="end" fill="#111" stroke="#111" stroke-width="0.16" transform="rotate(-45 546.86 523.7)">Shore</text>
<text x="558.6" y="523.7" font-size="5.8" text-anchor="end" fill="#111" stroke="#111" stroke-width="0.16" transform="rotate(-45 558.6 523.7)">Shelf</text>
<text x="570.34" y="523.7" font-size="5.8" text-anchor="end" fill="#111" stroke="#111" stroke-width="0.16" transform="rotate(-45 570.34 523.7)">Open Sea</text>
<text x="551.5" y="428" font-size="7.4" text-anchor="middle" fill="#111" stroke="#111" stroke-width="0.16">CNE2 CSCs vs. NP69</text>
<text x="498" y="476.8" font-size="6.2" text-anchor="middle" fill="#111" stroke="#111" stroke-width="0.16" transform="rotate(-90 498 476.8)">Number of DMCs</text>
<rect x="411.3" y="610.26" width="7.85" height="35.24" fill="#f748d2"/>
<rect x="411.3" y="645.3" width="7.85" height="3.8" fill="#4f9df7"/>
<rect x="423.04" y="608.52" width="7.85" height="33.49" fill="#f748d2"/>
<rect x="423.04" y="641.8" width="7.85" height="7.3" fill="#4f9df7"/>
<rect x="434.78" y="632.84" width="7.85" height="13.88" fill="#f748d2"/>
<rect x="434.78" y="646.52" width="7.85" height="2.58" fill="#4f9df7"/>
<rect x="446.52" y="584.2" width="7.85" height="54.24" fill="#f748d2"/>
<rect x="446.52" y="638.23" width="7.85" height="10.87" fill="#4f9df7"/>
<line x1="407.3" y1="572.65" x2="407.3" y2="649.55" stroke="#111" stroke-width="0.9"/>
<line x1="406.85" y1="649.1" x2="459" y2="649.1" stroke="#111" stroke-width="0.9"/>
<line x1="403.9" y1="649.1" x2="407.3" y2="649.1" stroke="#111" stroke-width="0.8"/>
<text x="403.4" y="651.2" font-size="5.8" text-anchor="end" fill="#111" stroke="#111" stroke-width="0.16">0</text>
<line x1="403.9" y1="633.9" x2="407.3" y2="633.9" stroke="#111" stroke-width="0.8"/>
<text x="403.4" y="636" font-size="5.8" text-anchor="end" fill="#111" stroke="#111" stroke-width="0.16">20000</text>
<line x1="403.9" y1="618.7" x2="407.3" y2="618.7" stroke="#111" stroke-width="0.8"/>
<text x="403.4" y="620.8" font-size="5.8" text-anchor="end" fill="#111" stroke="#111" stroke-width="0.16">40000</text>
<line x1="403.9" y1="603.5" x2="407.3" y2="603.5" stroke="#111" stroke-width="0.8"/>
<text x="403.4" y="605.6" font-size="5.8" text-anchor="end" fill="#111" stroke="#111" stroke-width="0.16">60000</text>
<line x1="403.9" y1="588.3" x2="407.3" y2="588.3" stroke="#111" stroke-width="0.8"/>
<text x="403.4" y="590.4" font-size="5.8" text-anchor="end" fill="#111" stroke="#111" stroke-width="0.16">80000</text>
<line x1="403.9" y1="573.1" x2="407.3" y2="573.1" stroke="#111" stroke-width="0.8"/>
<text x="403.4" y="575.2" font-size="5.8" text-anchor="end" fill="#111" stroke="#111" stroke-width="0.16">100000</text>
<line x1="415.23" y1="649.1" x2="415.23" y2="652.2" stroke="#111" stroke-width="0.85"/>
<line x1="426.97" y1="649.1" x2="426.97" y2="652.2" stroke="#111" stroke-width="0.85"/>
<line x1="438.71" y1="649.1" x2="438.71" y2="652.2" stroke="#111" stroke-width="0.85"/>
<line x1="450.44" y1="649.1" x2="450.44" y2="652.2" stroke="#111" stroke-width="0.85"/>
<text x="416.62" y="657.9" font-size="5.8" text-anchor="end" fill="#111" stroke="#111" stroke-width="0.16" transform="rotate(-45 416.62 657.9)">CpG Island</text>
<text x="428.37" y="657.9" font-size="5.8" text-anchor="end" fill="#111" stroke="#111" stroke-width="0.16" transform="rotate(-45 428.37 657.9)">Shore</text>
<text x="440.11" y="657.9" font-size="5.8" text-anchor="end" fill="#111" stroke="#111" stroke-width="0.16" transform="rotate(-45 440.11 657.9)">Shelf</text>
<text x="451.84" y="657.9" font-size="5.8" text-anchor="end" fill="#111" stroke="#111" stroke-width="0.16" transform="rotate(-45 451.84 657.9)">Open Sea</text>
<text x="432.8" y="562.6" font-size="7.4" text-anchor="middle" fill="#111" stroke="#111" stroke-width="0.16">C666-1 vs. NP69</text>
<text x="379.9" y="611.1" font-size="6.2" text-anchor="middle" fill="#111" stroke="#111" stroke-width="0.16" transform="rotate(-90 379.9 611.1)">Number of DMCs</text>
<rect x="530.9" y="613.11" width="7.85" height="32.77" fill="#f748d2"/>
<rect x="530.9" y="645.68" width="7.85" height="3.42" fill="#4f9df7"/>
<rect x="542.64" y="611.94" width="7.85" height="30.22" fill="#f748d2"/>
<rect x="542.64" y="641.96" width="7.85" height="7.14" fill="#4f9df7"/>
<rect x="554.38" y="634.96" width="7.85" height="11.9" fill="#f748d2"/>
<rect x="554.38" y="646.67" width="7.85" height="2.43" fill="#4f9df7"/>
<rect x="566.12" y="589.74" width="7.85" height="48.99" fill="#f748d2"/>
<rect x="566.12" y="638.54" width="7.85" height="10.56" fill="#4f9df7"/>
<line x1="526.9" y1="572.65" x2="526.9" y2="649.55" stroke="#111" stroke-width="0.9"/>
<line x1="526.45" y1="649.1" x2="578.6" y2="649.1" stroke="#111" stroke-width="0.9"/>
<line x1="523.5" y1="649.1" x2="526.9" y2="649.1" stroke="#111" stroke-width="0.8"/>
<text x="523" y="651.2" font-size="5.8" text-anchor="end" fill="#111" stroke="#111" stroke-width="0.16">0</text>
<line x1="523.5" y1="633.9" x2="526.9" y2="633.9" stroke="#111" stroke-width="0.8"/>
<text x="523" y="636" font-size="5.8" text-anchor="end" fill="#111" stroke="#111" stroke-width="0.16">20000</text>
<line x1="523.5" y1="618.7" x2="526.9" y2="618.7" stroke="#111" stroke-width="0.8"/>
<text x="523" y="620.8" font-size="5.8" text-anchor="end" fill="#111" stroke="#111" stroke-width="0.16">40000</text>
<line x1="523.5" y1="603.5" x2="526.9" y2="603.5" stroke="#111" stroke-width="0.8"/>
<text x="523" y="605.6" font-size="5.8" text-anchor="end" fill="#111" stroke="#111" stroke-width="0.16">60000</text>
<line x1="523.5" y1="588.3" x2="526.9" y2="588.3" stroke="#111" stroke-width="0.8"/>
<text x="523" y="590.4" font-size="5.8" text-anchor="end" fill="#111" stroke="#111" stroke-width="0.16">80000</text>
<line x1="523.5" y1="573.1" x2="526.9" y2="573.1" stroke="#111" stroke-width="0.8"/>
<text x="523" y="575.2" font-size="5.8" text-anchor="end" fill="#111" stroke="#111" stroke-width="0.16">100000</text>
<line x1="534.82" y1="649.1" x2="534.82" y2="652.2" stroke="#111" stroke-width="0.85"/>
<line x1="546.56" y1="649.1" x2="546.56" y2="652.2" stroke="#111" stroke-width="0.85"/>
<line x1="558.3" y1="649.1" x2="558.3" y2="652.2" stroke="#111" stroke-width="0.85"/>
<line x1="570.04" y1="649.1" x2="570.04" y2="652.2" stroke="#111" stroke-width="0.85"/>
<text x="536.22" y="657.9" font-size="5.8" text-anchor="end" fill="#111" stroke="#111" stroke-width="0.16" transform="rotate(-45 536.22 657.9)">CpG Island</text>
<text x="547.96" y="657.9" font-size="5.8" text-anchor="end" fill="#111" stroke="#111" stroke-width="0.16" transform="rotate(-45 547.96 657.9)">Shore</text>
<text x="559.7" y="657.9" font-size="5.8" text-anchor="end" fill="#111" stroke="#111" stroke-width="0.16" transform="rotate(-45 559.7 657.9)">Shelf</text>
<text x="571.44" y="657.9" font-size="5.8" text-anchor="end" fill="#111" stroke="#111" stroke-width="0.16" transform="rotate(-45 571.44 657.9)">Open Sea</text>
<text x="552.6" y="562.6" font-size="7.4" text-anchor="middle" fill="#111" stroke="#111" stroke-width="0.16">C666-1 CSCs vs. NP69</text>
<text x="499.9" y="611.1" font-size="6.2" text-anchor="middle" fill="#111" stroke="#111" stroke-width="0.16" transform="rotate(-90 499.9 611.1)">Number of DMCs</text>
<rect x="595.5" y="576.4" width="8.2" height="3.8" fill="#4f9df7"/>
<rect x="595.5" y="587.2" width="8.2" height="3.8" fill="#f748d2"/>
<text x="608.4" y="580.2" font-size="6.25" text-anchor="start" fill="#111" stroke="#111" stroke-width="0.16">Hypomethylation</text>
<text x="608.4" y="591" font-size="6.25" text-anchor="start" fill="#111" stroke="#111" stroke-width="0.16">Hypermethylation</text>
<rect x="34.85" y="336.29" width="3.4" height="43.21" fill="#c6c6fc" stroke="#3c3cff" stroke-width="0.75"/>
<rect x="39.15" y="345.66" width="3.4" height="33.84" fill="#ffc6c6" stroke="#ff3c3c" stroke-width="0.75"/>
<rect x="46.8" y="346.55" width="3.4" height="32.95" fill="#c6c6fc" stroke="#3c3cff" stroke-width="0.75"/>
<rect x="51.1" y="353.48" width="3.4" height="26.02" fill="#ffc6c6" stroke="#ff3c3c" stroke-width="0.75"/>
<rect x="58.75" y="355.49" width="3.4" height="24.01" fill="#c6c6fc" stroke="#3c3cff" stroke-width="0.75"/>
<rect x="63.05" y="360.41" width="3.4" height="19.09" fill="#ffc6c6" stroke="#ff3c3c" stroke-width="0.75"/>
<rect x="70.7" y="359.72" width="3.4" height="19.78" fill="#c6c6fc" stroke="#3c3cff" stroke-width="0.75"/>
<rect x="75" y="363.55" width="3.4" height="15.95" fill="#ffc6c6" stroke="#ff3c3c" stroke-width="0.75"/>
<rect x="82.65" y="352.36" width="3.4" height="27.14" fill="#c6c6fc" stroke="#3c3cff" stroke-width="0.75"/>
<rect x="86.95" y="360.64" width="3.4" height="18.86" fill="#ffc6c6" stroke="#ff3c3c" stroke-width="0.75"/>
<rect x="94.6" y="346.32" width="3.4" height="33.18" fill="#c6c6fc" stroke="#3c3cff" stroke-width="0.75"/>
<rect x="98.9" y="356.41" width="3.4" height="23.09" fill="#ffc6c6" stroke="#ff3c3c" stroke-width="0.75"/>
<rect x="106.55" y="350.35" width="3.4" height="29.15" fill="#c6c6fc" stroke="#3c3cff" stroke-width="0.75"/>
<rect x="110.85" y="359.72" width="3.4" height="19.78" fill="#ffc6c6" stroke="#ff3c3c" stroke-width="0.75"/>
<rect x="118.5" y="358.6" width="3.4" height="20.9" fill="#c6c6fc" stroke="#3c3cff" stroke-width="0.75"/>
<rect x="122.8" y="365.33" width="3.4" height="14.17" fill="#ffc6c6" stroke="#ff3c3c" stroke-width="0.75"/>
<rect x="130.45" y="372.46" width="3.4" height="7.04" fill="#c6c6fc" stroke="#3c3cff" stroke-width="0.75"/>
<rect x="134.75" y="372.46" width="3.4" height="7.04" fill="#ffc6c6" stroke="#ff3c3c" stroke-width="0.75"/>
<rect x="142.4" y="355.95" width="3.4" height="23.55" fill="#c6c6fc" stroke="#3c3cff" stroke-width="0.75"/>
<rect x="146.7" y="361.51" width="3.4" height="17.99" fill="#ffc6c6" stroke="#ff3c3c" stroke-width="0.75"/>
<rect x="154.35" y="348.36" width="3.4" height="31.14" fill="#c6c6fc" stroke="#3c3cff" stroke-width="0.75"/>
<rect x="158.65" y="359.98" width="3.4" height="19.52" fill="#ffc6c6" stroke="#ff3c3c" stroke-width="0.75"/>
<rect x="166.3" y="354.37" width="3.4" height="25.13" fill="#c6c6fc" stroke="#3c3cff" stroke-width="0.75"/>
<rect x="170.6" y="363.32" width="3.4" height="16.18" fill="#ffc6c6" stroke="#ff3c3c" stroke-width="0.75"/>
<rect x="178.25" y="368.44" width="3.4" height="11.06" fill="#c6c6fc" stroke="#3c3cff" stroke-width="0.75"/>
<rect x="182.55" y="370.02" width="3.4" height="9.48" fill="#ffc6c6" stroke="#ff3c3c" stroke-width="0.75"/>
<rect x="190.2" y="364.87" width="3.4" height="14.63" fill="#c6c6fc" stroke="#3c3cff" stroke-width="0.75"/>
<rect x="194.5" y="367.77" width="3.4" height="11.73" fill="#ffc6c6" stroke="#ff3c3c" stroke-width="0.75"/>
<rect x="202.15" y="364.87" width="3.4" height="14.63" fill="#c6c6fc" stroke="#3c3cff" stroke-width="0.75"/>
<rect x="206.45" y="368.9" width="3.4" height="10.6" fill="#ffc6c6" stroke="#ff3c3c" stroke-width="0.75"/>
<rect x="214.1" y="361.97" width="3.4" height="17.53" fill="#c6c6fc" stroke="#3c3cff" stroke-width="0.75"/>
<rect x="218.4" y="364.41" width="3.4" height="15.09" fill="#ffc6c6" stroke="#ff3c3c" stroke-width="0.75"/>
<rect x="226.05" y="359.06" width="3.4" height="20.44" fill="#c6c6fc" stroke="#3c3cff" stroke-width="0.75"/>
<rect x="230.35" y="358.6" width="3.4" height="20.9" fill="#ffc6c6" stroke="#ff3c3c" stroke-width="0.75"/>
<rect x="238" y="375.16" width="3.4" height="4.34" fill="#c6c6fc" stroke="#3c3cff" stroke-width="0.75"/>
<rect x="242.3" y="374.7" width="3.4" height="4.8" fill="#ffc6c6" stroke="#ff3c3c" stroke-width="0.75"/>
<rect x="249.95" y="361.3" width="3.4" height="18.2" fill="#c6c6fc" stroke="#3c3cff" stroke-width="0.75"/>
<rect x="254.25" y="361.3" width="3.4" height="18.2" fill="#ffc6c6" stroke="#ff3c3c" stroke-width="0.75"/>
<rect x="261.9" y="370.93" width="3.4" height="8.57" fill="#c6c6fc" stroke="#3c3cff" stroke-width="0.75"/>
<rect x="266.2" y="370.68" width="3.4" height="8.82" fill="#ffc6c6" stroke="#ff3c3c" stroke-width="0.75"/>
<rect x="273.85" y="376.95" width="3.4" height="2.55" fill="#c6c6fc" stroke="#3c3cff" stroke-width="0.75"/>
<rect x="278.15" y="376.28" width="3.4" height="3.22" fill="#ffc6c6" stroke="#ff3c3c" stroke-width="0.75"/>
<rect x="285.8" y="373.84" width="3.4" height="5.66" fill="#c6c6fc" stroke="#3c3cff" stroke-width="0.75"/>
<rect x="290.1" y="373.84" width="3.4" height="5.66" fill="#ffc6c6" stroke="#ff3c3c" stroke-width="0.75"/>
<line x1="32.8" y1="328.9" x2="32.8" y2="379.9" stroke="#111" stroke-width="0.8"/>
<line x1="32.4" y1="379.5" x2="297" y2="379.5" stroke="#111" stroke-width="0.8"/>
<line x1="30.2" y1="379.5" x2="32.8" y2="379.5" stroke="#111" stroke-width="0.7"/>
<text x="29" y="381.2" font-size="4.7" text-anchor="end" fill="#111" stroke="#111" stroke-width="0.1">0</text>
<line x1="30.2" y1="369.46" x2="32.8" y2="369.46" stroke="#111" stroke-width="0.7"/>
<text x="29" y="371.16" font-size="4.7" text-anchor="end" fill="#111" stroke="#111" stroke-width="0.1">2000</text>
<line x1="30.2" y1="359.42" x2="32.8" y2="359.42" stroke="#111" stroke-width="0.7"/>
<text x="29" y="361.12" font-size="4.7" text-anchor="end" fill="#111" stroke="#111" stroke-width="0.1">4000</text>
<line x1="30.2" y1="349.38" x2="32.8" y2="349.38" stroke="#111" stroke-width="0.7"/>
<text x="29" y="351.08" font-size="4.7" text-anchor="end" fill="#111" stroke="#111" stroke-width="0.1">6000</text>
<line x1="30.2" y1="339.34" x2="32.8" y2="339.34" stroke="#111" stroke-width="0.7"/>
<text x="29" y="341.04" font-size="4.7" text-anchor="end" fill="#111" stroke="#111" stroke-width="0.1">8000</text>
<line x1="30.2" y1="329.3" x2="32.8" y2="329.3" stroke="#111" stroke-width="0.7"/>
<text x="29" y="331" font-size="4.7" text-anchor="end" fill="#111" stroke="#111" stroke-width="0.1">10000</text>
<line x1="38.5" y1="379.5" x2="38.5" y2="381.8" stroke="#111" stroke-width="0.7"/>
<text x="39.8" y="386.7" font-size="4.6" text-anchor="end" fill="#111" stroke="#111" stroke-width="0.1" transform="rotate(-45 39.8 386.7)">Chr1</text>
<line x1="50.45" y1="379.5" x2="50.45" y2="381.8" stroke="#111" stroke-width="0.7"/>
<text x="51.75" y="386.7" font-size="4.6" text-anchor="end" fill="#111" stroke="#111" stroke-width="0.1" transform="rotate(-45 51.75 386.7)">Chr2</text>
<line x1="62.4" y1="379.5" x2="62.4" y2="381.8" stroke="#111" stroke-width="0.7"/>
<text x="63.7" y="386.7" font-size="4.6" text-anchor="end" fill="#111" stroke="#111" stroke-width="0.1" transform="rotate(-45 63.7 386.7)">Chr3</text>
<line x1="74.35" y1="379.5" x2="74.35" y2="381.8" stroke="#111" stroke-width="0.7"/>
<text x="75.65" y="386.7" font-size="4.6" text-anchor="end" fill="#111" stroke="#111" stroke-width="0.1" transform="rotate(-45 75.65 386.7)">Chr4</text>
<line x1="86.3" y1="379.5" x2="86.3" y2="381.8" stroke="#111" stroke-width="0.7"/>
<text x="87.6" y="386.7" font-size="4.6" text-anchor="end" fill="#111" stroke="#111" stroke-width="0.1" transform="rotate(-45 87.6 386.7)">Chr5</text>
<line x1="98.25" y1="379.5" x2="98.25" y2="381.8" stroke="#111" stroke-width="0.7"/>
<text x="99.55" y="386.7" font-size="4.6" text-anchor="end" fill="#111" stroke="#111" stroke-width="0.1" transform="rotate(-45 99.55 386.7)">Chr6</text>
<line x1="110.2" y1="379.5" x2="110.2" y2="381.8" stroke="#111" stroke-width="0.7"/>
<text x="111.5" y="386.7" font-size="4.6" text-anchor="end" fill="#111" stroke="#111" stroke-width="0.1" transform="rotate(-45 111.5 386.7)">Chr7</text>
<line x1="122.15" y1="379.5" x2="122.15" y2="381.8" stroke="#111" stroke-width="0.7"/>
<text x="123.45" y="386.7" font-size="4.6" text-anchor="end" fill="#111" stroke="#111" stroke-width="0.1" transform="rotate(-45 123.45 386.7)">Chr8</text>
<line x1="134.1" y1="379.5" x2="134.1" y2="381.8" stroke="#111" stroke-width="0.7"/>
<text x="135.4" y="386.7" font-size="4.6" text-anchor="end" fill="#111" stroke="#111" stroke-width="0.1" transform="rotate(-45 135.4 386.7)">Chr9</text>
<line x1="146.05" y1="379.5" x2="146.05" y2="381.8" stroke="#111" stroke-width="0.7"/>
<text x="147.35" y="386.7" font-size="4.6" text-anchor="end" fill="#111" stroke="#111" stroke-width="0.1" transform="rotate(-45 147.35 386.7)">Chr10</text>
<line x1="158" y1="379.5" x2="158" y2="381.8" stroke="#111" stroke-width="0.7"/>
<text x="159.3" y="386.7" font-size="4.6" text-anchor="end" fill="#111" stroke="#111" stroke-width="0.1" transform="rotate(-45 159.3 386.7)">Chr11</text>
<line x1="169.95" y1="379.5" x2="169.95" y2="381.8" stroke="#111" stroke-width="0.7"/>
<text x="171.25" y="386.7" font-size="4.6" text-anchor="end" fill="#111" stroke="#111" stroke-width="0.1" transform="rotate(-45 171.25 386.7)">Chr12</text>
<line x1="181.9" y1="379.5" x2="181.9" y2="381.8" stroke="#111" stroke-width="0.7"/>
<text x="183.2" y="386.7" font-size="4.6" text-anchor="end" fill="#111" stroke="#111" stroke-width="0.1" transform="rotate(-45 183.2 386.7)">Chr13</text>
<line x1="193.85" y1="379.5" x2="193.85" y2="381.8" stroke="#111" stroke-width="0.7"/>
<text x="195.15" y="386.7" font-size="4.6" text-anchor="end" fill="#111" stroke="#111" stroke-width="0.1" transform="rotate(-45 195.15 386.7)">Chr14</text>
<line x1="205.8" y1="379.5" x2="205.8" y2="381.8" stroke="#111" stroke-width="0.7"/>
<text x="207.1" y="386.7" font-size="4.6" text-anchor="end" fill="#111" stroke="#111" stroke-width="0.1" transform="rotate(-45 207.1 386.7)">Chr15</text>
<line x1="217.75" y1="379.5" x2="217.75" y2="381.8" stroke="#111" stroke-width="0.7"/>
<text x="219.05" y="386.7" font-size="4.6" text-anchor="end" fill="#111" stroke="#111" stroke-width="0.1" transform="rotate(-45 219.05 386.7)">Chr16</text>
<line x1="229.7" y1="379.5" x2="229.7" y2="381.8" stroke="#111" stroke-width="0.7"/>
<text x="231" y="386.7" font-size="4.6" text-anchor="end" fill="#111" stroke="#111" stroke-width="0.1" transform="rotate(-45 231 386.7)">Chr17</text>
<line x1="241.65" y1="379.5" x2="241.65" y2="381.8" stroke="#111" stroke-width="0.7"/>
<text x="242.95" y="386.7" font-size="4.6" text-anchor="end" fill="#111" stroke="#111" stroke-width="0.1" transform="rotate(-45 242.95 386.7)">Chr18</text>
<line x1="253.6" y1="379.5" x2="253.6" y2="381.8" stroke="#111" stroke-width="0.7"/>
<text x="254.9" y="386.7" font-size="4.6" text-anchor="end" fill="#111" stroke="#111" stroke-width="0.1" transform="rotate(-45 254.9 386.7)">Chr19</text>
<line x1="265.55" y1="379.5" x2="265.55" y2="381.8" stroke="#111" stroke-width="0.7"/>
<text x="266.85" y="386.7" font-size="4.6" text-anchor="end" fill="#111" stroke="#111" stroke-width="0.1" transform="rotate(-45 266.85 386.7)">Chr20</text>
<line x1="277.5" y1="379.5" x2="277.5" y2="381.8" stroke="#111" stroke-width="0.7"/>
<text x="278.8" y="386.7" font-size="4.6" text-anchor="end" fill="#111" stroke="#111" stroke-width="0.1" transform="rotate(-45 278.8 386.7)">Chr21</text>
<line x1="289.45" y1="379.5" x2="289.45" y2="381.8" stroke="#111" stroke-width="0.7"/>
<text x="290.75" y="386.7" font-size="4.6" text-anchor="end" fill="#111" stroke="#111" stroke-width="0.1" transform="rotate(-45 290.75 386.7)">Chr22</text>
<text x="164.3" y="320.8" font-size="6.15" text-anchor="middle" fill="#111" stroke="#111" stroke-width="0.16">CNE2 vs. NP69</text>
<text x="12.8" y="354.4" font-size="5.25" text-anchor="middle" fill="#111" stroke="#111" stroke-width="0.1" transform="rotate(-90 12.8 354.4)">Number of DMCs</text>
<rect x="295.8" y="332.2" width="6.6" height="3.3" fill="#c4c4fc" stroke="#4444ff" stroke-width="0.7"/>
<rect x="295.8" y="341.2" width="6.6" height="3.3" fill="#ffc4c4" stroke="#ff4444" stroke-width="0.7"/>
<text x="306.6" y="335.8" font-size="5.2" text-anchor="start" fill="#111" stroke="#111" stroke-width="0.1">Hypomethylation</text>
<text x="306.6" y="344.8" font-size="5.2" text-anchor="start" fill="#111" stroke="#111" stroke-width="0.1">Hypermethylation</text>
<rect x="34.85" y="433.79" width="3.4" height="35.41" fill="#c6c6fc" stroke="#3c3cff" stroke-width="0.75"/>
<rect x="39.15" y="442.35" width="3.4" height="26.85" fill="#ffc6c6" stroke="#ff3c3c" stroke-width="0.75"/>
<rect x="46.8" y="442.62" width="3.4" height="26.58" fill="#c6c6fc" stroke="#3c3cff" stroke-width="0.75"/>
<rect x="51.1" y="448.3" width="3.4" height="20.9" fill="#ffc6c6" stroke="#ff3c3c" stroke-width="0.75"/>
<rect x="58.75" y="450.37" width="3.4" height="18.83" fill="#c6c6fc" stroke="#3c3cff" stroke-width="0.75"/>
<rect x="63.05" y="454.26" width="3.4" height="14.94" fill="#ffc6c6" stroke="#ff3c3c" stroke-width="0.75"/>
<rect x="70.7" y="453.48" width="3.4" height="15.72" fill="#c6c6fc" stroke="#3c3cff" stroke-width="0.75"/>
<rect x="75" y="457.37" width="3.4" height="11.83" fill="#ffc6c6" stroke="#ff3c3c" stroke-width="0.75"/>
<rect x="82.65" y="448.03" width="3.4" height="21.17" fill="#c6c6fc" stroke="#3c3cff" stroke-width="0.75"/>
<rect x="86.95" y="454.53" width="3.4" height="14.67" fill="#ffc6c6" stroke="#ff3c3c" stroke-width="0.75"/>
<rect x="94.6" y="441.84" width="3.4" height="27.36" fill="#c6c6fc" stroke="#3c3cff" stroke-width="0.75"/>
<rect x="98.9" y="450.91" width="3.4" height="18.29" fill="#ffc6c6" stroke="#ff3c3c" stroke-width="0.75"/>
<rect x="106.55" y="446.24" width="3.4" height="22.96" fill="#c6c6fc" stroke="#3c3cff" stroke-width="0.75"/>
<rect x="110.85" y="454.02" width="3.4" height="15.18" fill="#ffc6c6" stroke="#ff3c3c" stroke-width="0.75"/>
<rect x="118.5" y="452.46" width="3.4" height="16.74" fill="#c6c6fc" stroke="#3c3cff" stroke-width="0.75"/>
<rect x="122.8" y="458.15" width="3.4" height="11.05" fill="#ffc6c6" stroke="#ff3c3c" stroke-width="0.75"/>
<rect x="130.45" y="463.6" width="3.4" height="5.6" fill="#c6c6fc" stroke="#3c3cff" stroke-width="0.75"/>
<rect x="134.75" y="464.1" width="3.4" height="5.1" fill="#ffc6c6" stroke="#ff3c3c" stroke-width="0.75"/>
<rect x="142.4" y="450.37" width="3.4" height="18.83" fill="#c6c6fc" stroke="#3c3cff" stroke-width="0.75"/>
<rect x="146.7" y="455.31" width="3.4" height="13.89" fill="#ffc6c6" stroke="#ff3c3c" stroke-width="0.75"/>
<rect x="154.35" y="444.18" width="3.4" height="25.02" fill="#c6c6fc" stroke="#3c3cff" stroke-width="0.75"/>
<rect x="158.65" y="453.75" width="3.4" height="15.45" fill="#ffc6c6" stroke="#ff3c3c" stroke-width="0.75"/>
<rect x="166.3" y="449.35" width="3.4" height="19.85" fill="#c6c6fc" stroke="#3c3cff" stroke-width="0.75"/>
<rect x="170.6" y="456.08" width="3.4" height="13.12" fill="#ffc6c6" stroke="#ff3c3c" stroke-width="0.75"/>
<rect x="178.25" y="460.69" width="3.4" height="8.51" fill="#c6c6fc" stroke="#3c3cff" stroke-width="0.75"/>
<rect x="182.55" y="462.44" width="3.4" height="6.76" fill="#ffc6c6" stroke="#ff3c3c" stroke-width="0.75"/>
<rect x="190.2" y="457.44" width="3.4" height="11.76" fill="#c6c6fc" stroke="#3c3cff" stroke-width="0.75"/>
<rect x="194.5" y="460.69" width="3.4" height="8.51" fill="#ffc6c6" stroke="#ff3c3c" stroke-width="0.75"/>
<rect x="202.15" y="457.44" width="3.4" height="11.76" fill="#c6c6fc" stroke="#3c3cff" stroke-width="0.75"/>
<rect x="206.45" y="460.99" width="3.4" height="8.21" fill="#ffc6c6" stroke="#ff3c3c" stroke-width="0.75"/>
<rect x="214.1" y="453.89" width="3.4" height="15.31" fill="#c6c6fc" stroke="#3c3cff" stroke-width="0.75"/>
<rect x="218.4" y="457.44" width="3.4" height="11.76" fill="#ffc6c6" stroke="#ff3c3c" stroke-width="0.75"/>
<rect x="226.05" y="451.21" width="3.4" height="17.99" fill="#c6c6fc" stroke="#3c3cff" stroke-width="0.75"/>
<rect x="230.35" y="453.28" width="3.4" height="15.92" fill="#ffc6c6" stroke="#ff3c3c" stroke-width="0.75"/>
<rect x="238" y="466" width="3.4" height="3.2" fill="#c6c6fc" stroke="#3c3cff" stroke-width="0.75"/>
<rect x="242.3" y="466" width="3.4" height="3.2" fill="#ffc6c6" stroke="#ff3c3c" stroke-width="0.75"/>
<rect x="249.95" y="453.28" width="3.4" height="15.92" fill="#c6c6fc" stroke="#3c3cff" stroke-width="0.75"/>
<rect x="254.25" y="454.76" width="3.4" height="14.44" fill="#ffc6c6" stroke="#ff3c3c" stroke-width="0.75"/>
<rect x="261.9" y="462.44" width="3.4" height="6.76" fill="#c6c6fc" stroke="#3c3cff" stroke-width="0.75"/>
<rect x="266.2" y="462.44" width="3.4" height="6.76" fill="#ffc6c6" stroke="#ff3c3c" stroke-width="0.75"/>
<rect x="273.85" y="467.49" width="3.4" height="1.71" fill="#c6c6fc" stroke="#3c3cff" stroke-width="0.75"/>
<rect x="278.15" y="467.18" width="3.4" height="2.02" fill="#ffc6c6" stroke="#ff3c3c" stroke-width="0.75"/>
<rect x="285.8" y="464.81" width="3.4" height="4.39" fill="#c6c6fc" stroke="#3c3cff" stroke-width="0.75"/>
<rect x="290.1" y="464.81" width="3.4" height="4.39" fill="#ffc6c6" stroke="#ff3c3c" stroke-width="0.75"/>
<line x1="32.8" y1="418.8" x2="32.8" y2="469.6" stroke="#111" stroke-width="0.8"/>
<line x1="32.4" y1="469.2" x2="297" y2="469.2" stroke="#111" stroke-width="0.8"/>
<line x1="30.2" y1="469.2" x2="32.8" y2="469.2" stroke="#111" stroke-width="0.7"/>
<text x="29" y="470.9" font-size="4.7" text-anchor="end" fill="#111" stroke="#111" stroke-width="0.1">0</text>
<line x1="30.2" y1="452.53" x2="32.8" y2="452.53" stroke="#111" stroke-width="0.7"/>
<text x="29" y="454.23" font-size="4.7" text-anchor="end" fill="#111" stroke="#111" stroke-width="0.1">5000</text>
<line x1="30.2" y1="435.87" x2="32.8" y2="435.87" stroke="#111" stroke-width="0.7"/>
<text x="29" y="437.57" font-size="4.7" text-anchor="end" fill="#111" stroke="#111" stroke-width="0.1">10000</text>
<line x1="30.2" y1="419.2" x2="32.8" y2="419.2" stroke="#111" stroke-width="0.7"/>
<text x="29" y="420.9" font-size="4.7" text-anchor="end" fill="#111" stroke="#111" stroke-width="0.1">15000</text>
<line x1="38.5" y1="469.2" x2="38.5" y2="471.5" stroke="#111" stroke-width="0.7"/>
<text x="39.8" y="476.4" font-size="4.6" text-anchor="end" fill="#111" stroke="#111" stroke-width="0.1" transform="rotate(-45 39.8 476.4)">Chr1</text>
<line x1="50.45" y1="469.2" x2="50.45" y2="471.5" stroke="#111" stroke-width="0.7"/>
<text x="51.75" y="476.4" font-size="4.6" text-anchor="end" fill="#111" stroke="#111" stroke-width="0.1" transform="rotate(-45 51.75 476.4)">Chr2</text>
<line x1="62.4" y1="469.2" x2="62.4" y2="471.5" stroke="#111" stroke-width="0.7"/>
<text x="63.7" y="476.4" font-size="4.6" text-anchor="end" fill="#111" stroke="#111" stroke-width="0.1" transform="rotate(-45 63.7 476.4)">Chr3</text>
<line x1="74.35" y1="469.2" x2="74.35" y2="471.5" stroke="#111" stroke-width="0.7"/>
<text x="75.65" y="476.4" font-size="4.6" text-anchor="end" fill="#111" stroke="#111" stroke-width="0.1" transform="rotate(-45 75.65 476.4)">Chr4</text>
<line x1="86.3" y1="469.2" x2="86.3" y2="471.5" stroke="#111" stroke-width="0.7"/>
<text x="87.6" y="476.4" font-size="4.6" text-anchor="end" fill="#111" stroke="#111" stroke-width="0.1" transform="rotate(-45 87.6 476.4)">Chr5</text>
<line x1="98.25" y1="469.2" x2="98.25" y2="471.5" stroke="#111" stroke-width="0.7"/>
<text x="99.55" y="476.4" font-size="4.6" text-anchor="end" fill="#111" stroke="#111" stroke-width="0.1" transform="rotate(-45 99.55 476.4)">Chr6</text>
<line x1="110.2" y1="469.2" x2="110.2" y2="471.5" stroke="#111" stroke-width="0.7"/>
<text x="111.5" y="476.4" font-size="4.6" text-anchor="end" fill="#111" stroke="#111" stroke-width="0.1" transform="rotate(-45 111.5 476.4)">Chr7</text>
<line x1="122.15" y1="469.2" x2="122.15" y2="471.5" stroke="#111" stroke-width="0.7"/>
<text x="123.45" y="476.4" font-size="4.6" text-anchor="end" fill="#111" stroke="#111" stroke-width="0.1" transform="rotate(-45 123.45 476.4)">Chr8</text>
<line x1="134.1" y1="469.2" x2="134.1" y2="471.5" stroke="#111" stroke-width="0.7"/>
<text x="135.4" y="476.4" font-size="4.6" text-anchor="end" fill="#111" stroke="#111" stroke-width="0.1" transform="rotate(-45 135.4 476.4)">Chr9</text>
<line x1="146.05" y1="469.2" x2="146.05" y2="471.5" stroke="#111" stroke-width="0.7"/>
<text x="147.35" y="476.4" font-size="4.6" text-anchor="end" fill="#111" stroke="#111" stroke-width="0.1" transform="rotate(-45 147.35 476.4)">Chr10</text>
<line x1="158" y1="469.2" x2="158" y2="471.5" stroke="#111" stroke-width="0.7"/>
<text x="159.3" y="476.4" font-size="4.6" text-anchor="end" fill="#111" stroke="#111" stroke-width="0.1" transform="rotate(-45 159.3 476.4)">Chr11</text>
<line x1="169.95" y1="469.2" x2="169.95" y2="471.5" stroke="#111" stroke-width="0.7"/>
<text x="171.25" y="476.4" font-size="4.6" text-anchor="end" fill="#111" stroke="#111" stroke-width="0.1" transform="rotate(-45 171.25 476.4)">Chr12</text>
<line x1="181.9" y1="469.2" x2="181.9" y2="471.5" stroke="#111" stroke-width="0.7"/>
<text x="183.2" y="476.4" font-size="4.6" text-anchor="end" fill="#111" stroke="#111" stroke-width="0.1" transform="rotate(-45 183.2 476.4)">Chr13</text>
<line x1="193.85" y1="469.2" x2="193.85" y2="471.5" stroke="#111" stroke-width="0.7"/>
<text x="195.15" y="476.4" font-size="4.6" text-anchor="end" fill="#111" stroke="#111" stroke-width="0.1" transform="rotate(-45 195.15 476.4)">Chr14</text>
<line x1="205.8" y1="469.2" x2="205.8" y2="471.5" stroke="#111" stroke-width="0.7"/>
<text x="207.1" y="476.4" font-size="4.6" text-anchor="end" fill="#111" stroke="#111" stroke-width="0.1" transform="rotate(-45 207.1 476.4)">Chr15</text>
<line x1="217.75" y1="469.2" x2="217.75" y2="471.5" stroke="#111" stroke-width="0.7"/>
<text x="219.05" y="476.4" font-size="4.6" text-anchor="end" fill="#111" stroke="#111" stroke-width="0.1" transform="rotate(-45 219.05 476.4)">Chr16</text>
<line x1="229.7" y1="469.2" x2="229.7" y2="471.5" stroke="#111" stroke-width="0.7"/>
<text x="231" y="476.4" font-size="4.6" text-anchor="end" fill="#111" stroke="#111" stroke-width="0.1" transform="rotate(-45 231 476.4)">Chr17</text>
<line x1="241.65" y1="469.2" x2="241.65" y2="471.5" stroke="#111" stroke-width="0.7"/>
<text x="242.95" y="476.4" font-size="4.6" text-anchor="end" fill="#111" stroke="#111" stroke-width="0.1" transform="rotate(-45 242.95 476.4)">Chr18</text>
<line x1="253.6" y1="469.2" x2="253.6" y2="471.5" stroke="#111" stroke-width="0.7"/>
<text x="254.9" y="476.4" font-size="4.6" text-anchor="end" fill="#111" stroke="#111" stroke-width="0.1" transform="rotate(-45 254.9 476.4)">Chr19</text>
<line x1="265.55" y1="469.2" x2="265.55" y2="471.5" stroke="#111" stroke-width="0.7"/>
<text x="266.85" y="476.4" font-size="4.6" text-anchor="end" fill="#111" stroke="#111" stroke-width="0.1" transform="rotate(-45 266.85 476.4)">Chr20</text>
<line x1="277.5" y1="469.2" x2="277.5" y2="471.5" stroke="#111" stroke-width="0.7"/>
<text x="278.8" y="476.4" font-size="4.6" text-anchor="end" fill="#111" stroke="#111" stroke-width="0.1" transform="rotate(-45 278.8 476.4)">Chr21</text>
<line x1="289.45" y1="469.2" x2="289.45" y2="471.5" stroke="#111" stroke-width="0.7"/>
<text x="290.75" y="476.4" font-size="4.6" text-anchor="end" fill="#111" stroke="#111" stroke-width="0.1" transform="rotate(-45 290.75 476.4)">Chr22</text>
<text x="164.3" y="410.7" font-size="6.15" text-anchor="middle" fill="#111" stroke="#111" stroke-width="0.16">CNE2 CSCs vs. NP69</text>
<text x="12.8" y="444.2" font-size="5.25" text-anchor="middle" fill="#111" stroke="#111" stroke-width="0.1" transform="rotate(-90 12.8 444.2)">Number of DMCs</text>
<rect x="295.8" y="422.1" width="6.6" height="3.3" fill="#c4c4fc" stroke="#4444ff" stroke-width="0.7"/>
<rect x="295.8" y="431.1" width="6.6" height="3.3" fill="#ffc4c4" stroke="#ff4444" stroke-width="0.7"/>
<text x="306.6" y="425.7" font-size="5.2" text-anchor="start" fill="#111" stroke="#111" stroke-width="0.1">Hypomethylation</text>
<text x="306.6" y="434.7" font-size="5.2" text-anchor="start" fill="#111" stroke="#111" stroke-width="0.1">Hypermethylation</text>
<rect x="34.85" y="552.07" width="3.4" height="7.43" fill="#c6c6fc" stroke="#3c3cff" stroke-width="0.75"/>
<rect x="39.15" y="516.81" width="3.4" height="42.69" fill="#ffc6c6" stroke="#ff3c3c" stroke-width="0.75"/>
<rect x="46.8" y="554.67" width="3.4" height="4.83" fill="#c6c6fc" stroke="#3c3cff" stroke-width="0.75"/>
<rect x="51.1" y="527.2" width="3.4" height="32.3" fill="#ffc6c6" stroke="#ff3c3c" stroke-width="0.75"/>
<rect x="58.75" y="556.21" width="3.4" height="3.29" fill="#c6c6fc" stroke="#3c3cff" stroke-width="0.75"/>
<rect x="63.05" y="535.23" width="3.4" height="24.27" fill="#ffc6c6" stroke="#ff3c3c" stroke-width="0.75"/>
<rect x="70.7" y="557.78" width="3.4" height="1.72" fill="#c6c6fc" stroke="#3c3cff" stroke-width="0.75"/>
<rect x="75" y="540.67" width="3.4" height="18.83" fill="#ffc6c6" stroke="#ff3c3c" stroke-width="0.75"/>
<rect x="82.65" y="555.96" width="3.4" height="3.54" fill="#c6c6fc" stroke="#3c3cff" stroke-width="0.75"/>
<rect x="86.95" y="533.92" width="3.4" height="25.58" fill="#ffc6c6" stroke="#ff3c3c" stroke-width="0.75"/>
<rect x="94.6" y="553.63" width="3.4" height="5.87" fill="#c6c6fc" stroke="#3c3cff" stroke-width="0.75"/>
<rect x="98.9" y="528.23" width="3.4" height="31.27" fill="#ffc6c6" stroke="#ff3c3c" stroke-width="0.75"/>
<rect x="106.55" y="556.21" width="3.4" height="3.29" fill="#c6c6fc" stroke="#3c3cff" stroke-width="0.75"/>
<rect x="110.85" y="532.38" width="3.4" height="27.12" fill="#ffc6c6" stroke="#ff3c3c" stroke-width="0.75"/>
<rect x="118.5" y="556.21" width="3.4" height="3.29" fill="#c6c6fc" stroke="#3c3cff" stroke-width="0.75"/>
<rect x="122.8" y="539.88" width="3.4" height="19.62" fill="#ffc6c6" stroke="#ff3c3c" stroke-width="0.75"/>
<rect x="130.45" y="558.56" width="3.4" height="0.94" fill="#c6c6fc" stroke="#3c3cff" stroke-width="0.75"/>
<rect x="134.75" y="551.31" width="3.4" height="8.19" fill="#ffc6c6" stroke="#ff3c3c" stroke-width="0.75"/>
<rect x="142.4" y="556.49" width="3.4" height="3.01" fill="#c6c6fc" stroke="#3c3cff" stroke-width="0.75"/>
<rect x="146.7" y="535.49" width="3.4" height="24.01" fill="#ffc6c6" stroke="#ff3c3c" stroke-width="0.75"/>
<rect x="154.35" y="553.63" width="3.4" height="5.87" fill="#c6c6fc" stroke="#3c3cff" stroke-width="0.75"/>
<rect x="158.65" y="533.41" width="3.4" height="26.09" fill="#ffc6c6" stroke="#ff3c3c" stroke-width="0.75"/>
<rect x="166.3" y="556.49" width="3.4" height="3.01" fill="#c6c6fc" stroke="#3c3cff" stroke-width="0.75"/>
<rect x="170.6" y="535.99" width="3.4" height="23.51" fill="#ffc6c6" stroke="#ff3c3c" stroke-width="0.75"/>
<rect x="178.25" y="558.66" width="3.4" height="0.84" fill="#c6c6fc" stroke="#3c3cff" stroke-width="0.75"/>
<rect x="182.55" y="548" width="3.4" height="11.5" fill="#ffc6c6" stroke="#ff3c3c" stroke-width="0.75"/>
<rect x="190.2" y="557.47" width="3.4" height="2.03" fill="#c6c6fc" stroke="#3c3cff" stroke-width="0.75"/>
<rect x="194.5" y="545.32" width="3.4" height="14.18" fill="#ffc6c6" stroke="#ff3c3c" stroke-width="0.75"/>
<rect x="202.15" y="557.47" width="3.4" height="2.03" fill="#c6c6fc" stroke="#3c3cff" stroke-width="0.75"/>
<rect x="206.45" y="545.32" width="3.4" height="14.18" fill="#ffc6c6" stroke="#ff3c3c" stroke-width="0.75"/>
<rect x="214.1" y="556.59" width="3.4" height="2.91" fill="#c6c6fc" stroke="#3c3cff" stroke-width="0.75"/>
<rect x="218.4" y="541.48" width="3.4" height="18.02" fill="#ffc6c6" stroke="#ff3c3c" stroke-width="0.75"/>
<rect x="226.05" y="555.4" width="3.4" height="4.1" fill="#c6c6fc" stroke="#3c3cff" stroke-width="0.75"/>
<rect x="230.35" y="534.37" width="3.4" height="25.13" fill="#ffc6c6" stroke="#ff3c3c" stroke-width="0.75"/>
<rect x="238" y="559.27" width="3.4" height="0.23" fill="#c6c6fc" stroke="#3c3cff" stroke-width="0.75"/>
<rect x="242.3" y="554.21" width="3.4" height="5.29" fill="#ffc6c6" stroke="#ff3c3c" stroke-width="0.75"/>
<rect x="249.95" y="556.01" width="3.4" height="3.49" fill="#c6c6fc" stroke="#3c3cff" stroke-width="0.75"/>
<rect x="254.25" y="537.33" width="3.4" height="22.17" fill="#ffc6c6" stroke="#ff3c3c" stroke-width="0.75"/>
<rect x="261.9" y="558.36" width="3.4" height="1.14" fill="#c6c6fc" stroke="#3c3cff" stroke-width="0.75"/>
<rect x="266.2" y="549.18" width="3.4" height="10.32" fill="#ffc6c6" stroke="#ff3c3c" stroke-width="0.75"/>
<rect x="273.85" y="559.55" width="3.4" height="0.1" fill="#c6c6fc" stroke="#3c3cff" stroke-width="0.75"/>
<rect x="278.15" y="556.29" width="3.4" height="3.21" fill="#ffc6c6" stroke="#ff3c3c" stroke-width="0.75"/>
<rect x="285.8" y="558.66" width="3.4" height="0.84" fill="#c6c6fc" stroke="#3c3cff" stroke-width="0.75"/>
<rect x="290.1" y="552.44" width="3.4" height="7.06" fill="#ffc6c6" stroke="#ff3c3c" stroke-width="0.75"/>
<line x1="32.8" y1="509.3" x2="32.8" y2="559.9" stroke="#111" stroke-width="0.8"/>
<line x1="32.4" y1="559.5" x2="297" y2="559.5" stroke="#111" stroke-width="0.8"/>
<line x1="30.2" y1="559.5" x2="32.8" y2="559.5" stroke="#111" stroke-width="0.7"/>
<text x="29" y="561.2" font-size="4.7" text-anchor="end" fill="#111" stroke="#111" stroke-width="0.1">0</text>
<line x1="30.2" y1="547.05" x2="32.8" y2="547.05" stroke="#111" stroke-width="0.7"/>
<text x="29" y="548.75" font-size="4.7" text-anchor="end" fill="#111" stroke="#111" stroke-width="0.1">5000</text>
<line x1="30.2" y1="534.6" x2="32.8" y2="534.6" stroke="#111" stroke-width="0.7"/>
<text x="29" y="536.3" font-size="4.7" text-anchor="end" fill="#111" stroke="#111" stroke-width="0.1">10000</text>
<line x1="30.2" y1="522.15" x2="32.8" y2="522.15" stroke="#111" stroke-width="0.7"/>
<text x="29" y="523.85" font-size="4.7" text-anchor="end" fill="#111" stroke="#111" stroke-width="0.1">15000</text>
<line x1="30.2" y1="509.7" x2="32.8" y2="509.7" stroke="#111" stroke-width="0.7"/>
<text x="29" y="511.4" font-size="4.7" text-anchor="end" fill="#111" stroke="#111" stroke-width="0.1">20000</text>
<line x1="38.5" y1="559.5" x2="38.5" y2="561.8" stroke="#111" stroke-width="0.7"/>
<text x="39.8" y="566.7" font-size="4.6" text-anchor="end" fill="#111" stroke="#111" stroke-width="0.1" transform="rotate(-45 39.8 566.7)">Chr1</text>
<line x1="50.45" y1="559.5" x2="50.45" y2="561.8" stroke="#111" stroke-width="0.7"/>
<text x="51.75" y="566.7" font-size="4.6" text-anchor="end" fill="#111" stroke="#111" stroke-width="0.1" transform="rotate(-45 51.75 566.7)">Chr2</text>
<line x1="62.4" y1="559.5" x2="62.4" y2="561.8" stroke="#111" stroke-width="0.7"/>
<text x="63.7" y="566.7" font-size="4.6" text-anchor="end" fill="#111" stroke="#111" stroke-width="0.1" transform="rotate(-45 63.7 566.7)">Chr3</text>
<line x1="74.35" y1="559.5" x2="74.35" y2="561.8" stroke="#111" stroke-width="0.7"/>
<text x="75.65" y="566.7" font-size="4.6" text-anchor="end" fill="#111" stroke="#111" stroke-width="0.1" transform="rotate(-45 75.65 566.7)">Chr4</text>
<line x1="86.3" y1="559.5" x2="86.3" y2="561.8" stroke="#111" stroke-width="0.7"/>
<text x="87.6" y="566.7" font-size="4.6" text-anchor="end" fill="#111" stroke="#111" stroke-width="0.1" transform="rotate(-45 87.6 566.7)">Chr5</text>
<line x1="98.25" y1="559.5" x2="98.25" y2="561.8" stroke="#111" stroke-width="0.7"/>
<text x="99.55" y="566.7" font-size="4.6" text-anchor="end" fill="#111" stroke="#111" stroke-width="0.1" transform="rotate(-45 99.55 566.7)">Chr6</text>
<line x1="110.2" y1="559.5" x2="110.2" y2="561.8" stroke="#111" stroke-width="0.7"/>
<text x="111.5" y="566.7" font-size="4.6" text-anchor="end" fill="#111" stroke="#111" stroke-width="0.1" transform="rotate(-45 111.5 566.7)">Chr7</text>
<line x1="122.15" y1="559.5" x2="122.15" y2="561.8" stroke="#111" stroke-width="0.7"/>
<text x="123.45" y="566.7" font-size="4.6" text-anchor="end" fill="#111" stroke="#111" stroke-width="0.1" transform="rotate(-45 123.45 566.7)">Chr8</text>
<line x1="134.1" y1="559.5" x2="134.1" y2="561.8" stroke="#111" stroke-width="0.7"/>
<text x="135.4" y="566.7" font-size="4.6" text-anchor="end" fill="#111" stroke="#111" stroke-width="0.1" transform="rotate(-45 135.4 566.7)">Chr9</text>
<line x1="146.05" y1="559.5" x2="146.05" y2="561.8" stroke="#111" stroke-width="0.7"/>
<text x="147.35" y="566.7" font-size="4.6" text-anchor="end" fill="#111" stroke="#111" stroke-width="0.1" transform="rotate(-45 147.35 566.7)">Chr10</text>
<line x1="158" y1="559.5" x2="158" y2="561.8" stroke="#111" stroke-width="0.7"/>
<text x="159.3" y="566.7" font-size="4.6" text-anchor="end" fill="#111" stroke="#111" stroke-width="0.1" transform="rotate(-45 159.3 566.7)">Chr11</text>
<line x1="169.95" y1="559.5" x2="169.95" y2="561.8" stroke="#111" stroke-width="0.7"/>
<text x="171.25" y="566.7" font-size="4.6" text-anchor="end" fill="#111" stroke="#111" stroke-width="0.1" transform="rotate(-45 171.25 566.7)">Chr12</text>
<line x1="181.9" y1="559.5" x2="181.9" y2="561.8" stroke="#111" stroke-width="0.7"/>
<text x="183.2" y="566.7" font-size="4.6" text-anchor="end" fill="#111" stroke="#111" stroke-width="0.1" transform="rotate(-45 183.2 566.7)">Chr13</text>
<line x1="193.85" y1="559.5" x2="193.85" y2="561.8" stroke="#111" stroke-width="0.7"/>
<text x="195.15" y="566.7" font-size="4.6" text-anchor="end" fill="#111" stroke="#111" stroke-width="0.1" transform="rotate(-45 195.15 566.7)">Chr14</text>
<line x1="205.8" y1="559.5" x2="205.8" y2="561.8" stroke="#111" stroke-width="0.7"/>
<text x="207.1" y="566.7" font-size="4.6" text-anchor="end" fill="#111" stroke="#111" stroke-width="0.1" transform="rotate(-45 207.1 566.7)">Chr15</text>
<line x1="217.75" y1="559.5" x2="217.75" y2="561.8" stroke="#111" stroke-width="0.7"/>
<text x="219.05" y="566.7" font-size="4.6" text-anchor="end" fill="#111" stroke="#111" stroke-width="0.1" transform="rotate(-45 219.05 566.7)">Chr16</text>
<line x1="229.7" y1="559.5" x2="229.7" y2="561.8" stroke="#111" stroke-width="0.7"/>
<text x="231" y="566.7" font-size="4.6" text-anchor="end" fill="#111" stroke="#111" stroke-width="0.1" transform="rotate(-45 231 566.7)">Chr17</text>
<line x1="241.65" y1="559.5" x2="241.65" y2="561.8" stroke="#111" stroke-width="0.7"/>
<text x="242.95" y="566.7" font-size="4.6" text-anchor="end" fill="#111" stroke="#111" stroke-width="0.1" transform="rotate(-45 242.95 566.7)">Chr18</text>
<line x1="253.6" y1="559.5" x2="253.6" y2="561.8" stroke="#111" stroke-width="0.7"/>
<text x="254.9" y="566.7" font-size="4.6" text-anchor="end" fill="#111" stroke="#111" stroke-width="0.1" transform="rotate(-45 254.9 566.7)">Chr19</text>
<line x1="265.55" y1="559.5" x2="265.55" y2="561.8" stroke="#111" stroke-width="0.7"/>
<text x="266.85" y="566.7" font-size="4.6" text-anchor="end" fill="#111" stroke="#111" stroke-width="0.1" transform="rotate(-45 266.85 566.7)">Chr20</text>
<line x1="277.5" y1="559.5" x2="277.5" y2="561.8" stroke="#111" stroke-width="0.7"/>
<text x="278.8" y="566.7" font-size="4.6" text-anchor="end" fill="#111" stroke="#111" stroke-width="0.1" transform="rotate(-45 278.8 566.7)">Chr21</text>
<line x1="289.45" y1="559.5" x2="289.45" y2="561.8" stroke="#111" stroke-width="0.7"/>
<text x="290.75" y="566.7" font-size="4.6" text-anchor="end" fill="#111" stroke="#111" stroke-width="0.1" transform="rotate(-45 290.75 566.7)">Chr22</text>
<text x="164.3" y="500.7" font-size="6.15" text-anchor="middle" fill="#111" stroke="#111" stroke-width="0.16">C666-1 vs. NP69</text>
<text x="12.8" y="534.6" font-size="5.25" text-anchor="middle" fill="#111" stroke="#111" stroke-width="0.1" transform="rotate(-90 12.8 534.6)">Number of DMCs</text>
<rect x="295.8" y="512.1" width="6.6" height="3.3" fill="#c4c4fc" stroke="#4444ff" stroke-width="0.7"/>
<rect x="295.8" y="521.1" width="6.6" height="3.3" fill="#ffc4c4" stroke="#ff4444" stroke-width="0.7"/>
<text x="306.6" y="515.7" font-size="5.2" text-anchor="start" fill="#111" stroke="#111" stroke-width="0.1">Hypomethylation</text>
<text x="306.6" y="524.7" font-size="5.2" text-anchor="start" fill="#111" stroke="#111" stroke-width="0.1">Hypermethylation</text>
<rect x="34.85" y="642.64" width="3.4" height="7.16" fill="#c6c6fc" stroke="#3c3cff" stroke-width="0.75"/>
<rect x="39.15" y="611.28" width="3.4" height="38.52" fill="#ffc6c6" stroke="#ff3c3c" stroke-width="0.75"/>
<rect x="46.8" y="644.72" width="3.4" height="5.08" fill="#c6c6fc" stroke="#3c3cff" stroke-width="0.75"/>
<rect x="51.1" y="620.35" width="3.4" height="29.45" fill="#ffc6c6" stroke="#ff3c3c" stroke-width="0.75"/>
<rect x="58.75" y="646.51" width="3.4" height="3.29" fill="#c6c6fc" stroke="#3c3cff" stroke-width="0.75"/>
<rect x="63.05" y="627.61" width="3.4" height="22.19" fill="#ffc6c6" stroke="#ff3c3c" stroke-width="0.75"/>
<rect x="70.7" y="648.33" width="3.4" height="1.47" fill="#c6c6fc" stroke="#3c3cff" stroke-width="0.75"/>
<rect x="75" y="632.53" width="3.4" height="17.27" fill="#ffc6c6" stroke="#ff3c3c" stroke-width="0.75"/>
<rect x="82.65" y="646.51" width="3.4" height="3.29" fill="#c6c6fc" stroke="#3c3cff" stroke-width="0.75"/>
<rect x="86.95" y="626.57" width="3.4" height="23.23" fill="#ffc6c6" stroke="#ff3c3c" stroke-width="0.75"/>
<rect x="94.6" y="644.97" width="3.4" height="4.83" fill="#c6c6fc" stroke="#3c3cff" stroke-width="0.75"/>
<rect x="98.9" y="621.39" width="3.4" height="28.41" fill="#ffc6c6" stroke="#ff3c3c" stroke-width="0.75"/>
<rect x="106.55" y="646.51" width="3.4" height="3.29" fill="#c6c6fc" stroke="#3c3cff" stroke-width="0.75"/>
<rect x="110.85" y="625.53" width="3.4" height="24.27" fill="#ffc6c6" stroke="#ff3c3c" stroke-width="0.75"/>
<rect x="118.5" y="646.51" width="3.4" height="3.29" fill="#c6c6fc" stroke="#3c3cff" stroke-width="0.75"/>
<rect x="122.8" y="632" width="3.4" height="17.8" fill="#ffc6c6" stroke="#ff3c3c" stroke-width="0.75"/>
<rect x="130.45" y="648.86" width="3.4" height="0.94" fill="#c6c6fc" stroke="#3c3cff" stroke-width="0.75"/>
<rect x="134.75" y="642.64" width="3.4" height="7.16" fill="#ffc6c6" stroke="#ff3c3c" stroke-width="0.75"/>
<rect x="142.4" y="646.51" width="3.4" height="3.29" fill="#c6c6fc" stroke="#3c3cff" stroke-width="0.75"/>
<rect x="146.7" y="628.36" width="3.4" height="21.44" fill="#ffc6c6" stroke="#ff3c3c" stroke-width="0.75"/>
<rect x="154.35" y="643.93" width="3.4" height="5.87" fill="#c6c6fc" stroke="#3c3cff" stroke-width="0.75"/>
<rect x="158.65" y="626.57" width="3.4" height="23.23" fill="#ffc6c6" stroke="#ff3c3c" stroke-width="0.75"/>
<rect x="166.3" y="646.79" width="3.4" height="3.01" fill="#c6c6fc" stroke="#3c3cff" stroke-width="0.75"/>
<rect x="170.6" y="628.64" width="3.4" height="21.16" fill="#ffc6c6" stroke="#ff3c3c" stroke-width="0.75"/>
<rect x="178.25" y="648.96" width="3.4" height="0.84" fill="#c6c6fc" stroke="#3c3cff" stroke-width="0.75"/>
<rect x="182.55" y="639.18" width="3.4" height="10.62" fill="#ffc6c6" stroke="#ff3c3c" stroke-width="0.75"/>
<rect x="190.2" y="647.77" width="3.4" height="2.03" fill="#c6c6fc" stroke="#3c3cff" stroke-width="0.75"/>
<rect x="194.5" y="637.41" width="3.4" height="12.39" fill="#ffc6c6" stroke="#ff3c3c" stroke-width="0.75"/>
<rect x="202.15" y="647.77" width="3.4" height="2.03" fill="#c6c6fc" stroke="#3c3cff" stroke-width="0.75"/>
<rect x="206.45" y="636.81" width="3.4" height="12.99" fill="#ffc6c6" stroke="#ff3c3c" stroke-width="0.75"/>
<rect x="214.1" y="646.89" width="3.4" height="2.91" fill="#c6c6fc" stroke="#3c3cff" stroke-width="0.75"/>
<rect x="218.4" y="633.55" width="3.4" height="16.25" fill="#ffc6c6" stroke="#ff3c3c" stroke-width="0.75"/>
<rect x="226.05" y="645.7" width="3.4" height="4.1" fill="#c6c6fc" stroke="#3c3cff" stroke-width="0.75"/>
<rect x="230.35" y="627.33" width="3.4" height="22.47" fill="#ffc6c6" stroke="#ff3c3c" stroke-width="0.75"/>
<rect x="238" y="649.57" width="3.4" height="0.23" fill="#c6c6fc" stroke="#3c3cff" stroke-width="0.75"/>
<rect x="242.3" y="645.12" width="3.4" height="4.68" fill="#ffc6c6" stroke="#ff3c3c" stroke-width="0.75"/>
<rect x="249.95" y="646.59" width="3.4" height="3.21" fill="#c6c6fc" stroke="#3c3cff" stroke-width="0.75"/>
<rect x="254.25" y="629.7" width="3.4" height="20.1" fill="#ffc6c6" stroke="#ff3c3c" stroke-width="0.75"/>
<rect x="261.9" y="648.66" width="3.4" height="1.14" fill="#c6c6fc" stroke="#3c3cff" stroke-width="0.75"/>
<rect x="266.2" y="640.37" width="3.4" height="9.43" fill="#ffc6c6" stroke="#ff3c3c" stroke-width="0.75"/>
<rect x="273.85" y="649.85" width="3.4" height="0.1" fill="#c6c6fc" stroke="#3c3cff" stroke-width="0.75"/>
<rect x="278.15" y="646.89" width="3.4" height="2.91" fill="#ffc6c6" stroke="#ff3c3c" stroke-width="0.75"/>
<rect x="285.8" y="648.96" width="3.4" height="0.84" fill="#c6c6fc" stroke="#3c3cff" stroke-width="0.75"/>
<rect x="290.1" y="643.63" width="3.4" height="6.17" fill="#ffc6c6" stroke="#ff3c3c" stroke-width="0.75"/>
<line x1="32.8" y1="599.6" x2="32.8" y2="650.2" stroke="#111" stroke-width="0.8"/>
<line x1="32.4" y1="649.8" x2="297" y2="649.8" stroke="#111" stroke-width="0.8"/>
<line x1="30.2" y1="649.8" x2="32.8" y2="649.8" stroke="#111" stroke-width="0.7"/>
<text x="29" y="651.5" font-size="4.7" text-anchor="end" fill="#111" stroke="#111" stroke-width="0.1">0</text>
<line x1="30.2" y1="637.35" x2="32.8" y2="637.35" stroke="#111" stroke-width="0.7"/>
<text x="29" y="639.05" font-size="4.7" text-anchor="end" fill="#111" stroke="#111" stroke-width="0.1">5000</text>
<line x1="30.2" y1="624.9" x2="32.8" y2="624.9" stroke="#111" stroke-width="0.7"/>
<text x="29" y="626.6" font-size="4.7" text-anchor="end" fill="#111" stroke="#111" stroke-width="0.1">10000</text>
<line x1="30.2" y1="612.45" x2="32.8" y2="612.45" stroke="#111" stroke-width="0.7"/>
<text x="29" y="614.15" font-size="4.7" text-anchor="end" fill="#111" stroke="#111" stroke-width="0.1">15000</text>
<line x1="30.2" y1="600" x2="32.8" y2="600" stroke="#111" stroke-width="0.7"/>
<text x="29" y="601.7" font-size="4.7" text-anchor="end" fill="#111" stroke="#111" stroke-width="0.1">20000</text>
<line x1="38.5" y1="649.8" x2="38.5" y2="652.1" stroke="#111" stroke-width="0.7"/>
<text x="39.8" y="657" font-size="4.6" text-anchor="end" fill="#111" stroke="#111" stroke-width="0.1" transform="rotate(-45 39.8 657)">Chr1</text>
<line x1="50.45" y1="649.8" x2="50.45" y2="652.1" stroke="#111" stroke-width="0.7"/>
<text x="51.75" y="657" font-size="4.6" text-anchor="end" fill="#111" stroke="#111" stroke-width="0.1" transform="rotate(-45 51.75 657)">Chr2</text>
<line x1="62.4" y1="649.8" x2="62.4" y2="652.1" stroke="#111" stroke-width="0.7"/>
<text x="63.7" y="657" font-size="4.6" text-anchor="end" fill="#111" stroke="#111" stroke-width="0.1" transform="rotate(-45 63.7 657)">Chr3</text>
<line x1="74.35" y1="649.8" x2="74.35" y2="652.1" stroke="#111" stroke-width="0.7"/>
<text x="75.65" y="657" font-size="4.6" text-anchor="end" fill="#111" stroke="#111" stroke-width="0.1" transform="rotate(-45 75.65 657)">Chr4</text>
<line x1="86.3" y1="649.8" x2="86.3" y2="652.1" stroke="#111" stroke-width="0.7"/>
<text x="87.6" y="657" font-size="4.6" text-anchor="end" fill="#111" stroke="#111" stroke-width="0.1" transform="rotate(-45 87.6 657)">Chr5</text>
<line x1="98.25" y1="649.8" x2="98.25" y2="652.1" stroke="#111" stroke-width="0.7"/>
<text x="99.55" y="657" font-size="4.6" text-anchor="end" fill="#111" stroke="#111" stroke-width="0.1" transform="rotate(-45 99.55 657)">Chr6</text>
<line x1="110.2" y1="649.8" x2="110.2" y2="652.1" stroke="#111" stroke-width="0.7"/>
<text x="111.5" y="657" font-size="4.6" text-anchor="end" fill="#111" stroke="#111" stroke-width="0.1" transform="rotate(-45 111.5 657)">Chr7</text>
<line x1="122.15" y1="649.8" x2="122.15" y2="652.1" stroke="#111" stroke-width="0.7"/>
<text x="123.45" y="657" font-size="4.6" text-anchor="end" fill="#111" stroke="#111" stroke-width="0.1" transform="rotate(-45 123.45 657)">Chr8</text>
<line x1="134.1" y1="649.8" x2="134.1" y2="652.1" stroke="#111" stroke-width="0.7"/>
<text x="135.4" y="657" font-size="4.6" text-anchor="end" fill="#111" stroke="#111" stroke-width="0.1" transform="rotate(-45 135.4 657)">Chr9</text>
<line x1="146.05" y1="649.8" x2="146.05" y2="652.1" stroke="#111" stroke-width="0.7"/>
<text x="147.35" y="657" font-size="4.6" text-anchor="end" fill="#111" stroke="#111" stroke-width="0.1" transform="rotate(-45 147.35 657)">Chr10</text>
<line x1="158" y1="649.8" x2="158" y2="652.1" stroke="#111" stroke-width="0.7"/>
<text x="159.3" y="657" font-size="4.6" text-anchor="end" fill="#111" stroke="#111" stroke-width="0.1" transform="rotate(-45 159.3 657)">Chr11</text>
<line x1="169.95" y1="649.8" x2="169.95" y2="652.1" stroke="#111" stroke-width="0.7"/>
<text x="171.25" y="657" font-size="4.6" text-anchor="end" fill="#111" stroke="#111" stroke-width="0.1" transform="rotate(-45 171.25 657)">Chr12</text>
<line x1="181.9" y1="649.8" x2="181.9" y2="652.1" stroke="#111" stroke-width="0.7"/>
<text x="183.2" y="657" font-size="4.6" text-anchor="end" fill="#111" stroke="#111" stroke-width="0.1" transform="rotate(-45 183.2 657)">Chr13</text>
<line x1="193.85" y1="649.8" x2="193.85" y2="652.1" stroke="#111" stroke-width="0.7"/>
<text x="195.15" y="657" font-size="4.6" text-anchor="end" fill="#111" stroke="#111" stroke-width="0.1" transform="rotate(-45 195.15 657)">Chr14</text>
<line x1="205.8" y1="649.8" x2="205.8" y2="652.1" stroke="#111" stroke-width="0.7"/>
<text x="207.1" y="657" font-size="4.6" text-anchor="end" fill="#111" stroke="#111" stroke-width="0.1" transform="rotate(-45 207.1 657)">Chr15</text>
<line x1="217.75" y1="649.8" x2="217.75" y2="652.1" stroke="#111" stroke-width="0.7"/>
<text x="219.05" y="657" font-size="4.6" text-anchor="end" fill="#111" stroke="#111" stroke-width="0.1" transform="rotate(-45 219.05 657)">Chr16</text>
<line x1="229.7" y1="649.8" x2="229.7" y2="652.1" stroke="#111" stroke-width="0.7"/>
<text x="231" y="657" font-size="4.6" text-anchor="end" fill="#111" stroke="#111" stroke-width="0.1" transform="rotate(-45 231 657)">Chr17</text>
<line x1="241.65" y1="649.8" x2="241.65" y2="652.1" stroke="#111" stroke-width="0.7"/>
<text x="242.95" y="657" font-size="4.6" text-anchor="end" fill="#111" stroke="#111" stroke-width="0.1" transform="rotate(-45 242.95 657)">Chr18</text>
<line x1="253.6" y1="649.8" x2="253.6" y2="652.1" stroke="#111" stroke-width="0.7"/>
<text x="254.9" y="657" font-size="4.6" text-anchor="end" fill="#111" stroke="#111" stroke-width="0.1" transform="rotate(-45 254.9 657)">Chr19</text>
<line x1="265.55" y1="649.8" x2="265.55" y2="652.1" stroke="#111" stroke-width="0.7"/>
<text x="266.85" y="657" font-size="4.6" text-anchor="end" fill="#111" stroke="#111" stroke-width="0.1" transform="rotate(-45 266.85 657)">Chr20</text>
<line x1="277.5" y1="649.8" x2="277.5" y2="652.1" stroke="#111" stroke-width="0.7"/>
<text x="278.8" y="657" font-size="4.6" text-anchor="end" fill="#111" stroke="#111" stroke-width="0.1" transform="rotate(-45 278.8 657)">Chr21</text>
<line x1="289.45" y1="649.8" x2="289.45" y2="652.1" stroke="#111" stroke-width="0.7"/>
<text x="290.75" y="657" font-size="4.6" text-anchor="end" fill="#111" stroke="#111" stroke-width="0.1" transform="rotate(-45 290.75 657)">Chr22</text>
<text x="164.3" y="591.05" font-size="6.15" text-anchor="middle" fill="#111" stroke="#111" stroke-width="0.16">C666-1 CSCs vs. NP69</text>
<text x="12.8" y="624.9" font-size="5.25" text-anchor="middle" fill="#111" stroke="#111" stroke-width="0.1" transform="rotate(-90 12.8 624.9)">Number of DMCs</text>
<rect x="295.8" y="602.6" width="6.6" height="3.3" fill="#c4c4fc" stroke="#4444ff" stroke-width="0.7"/>
<rect x="295.8" y="611.6" width="6.6" height="3.3" fill="#ffc4c4" stroke="#ff4444" stroke-width="0.7"/>
<text x="306.6" y="606.2" font-size="5.2" text-anchor="start" fill="#111" stroke="#111" stroke-width="0.1">Hypomethylation</text>
<text x="306.6" y="615.2" font-size="5.2" text-anchor="start" fill="#111" stroke="#111" stroke-width="0.1">Hypermethylation</text>
</svg>
</body></html>
